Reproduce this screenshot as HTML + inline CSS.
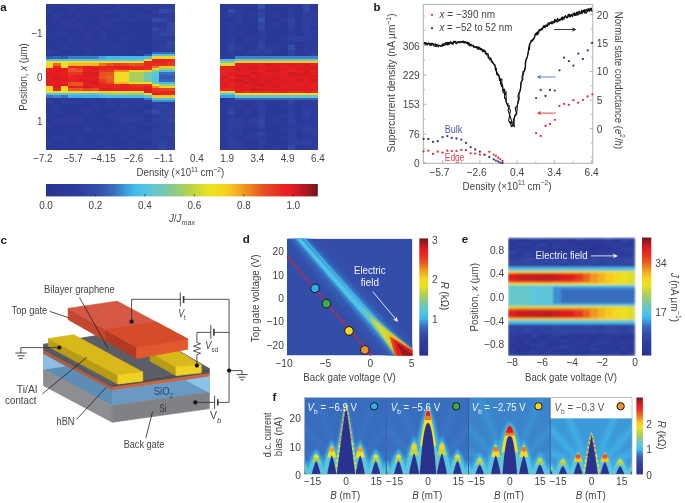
<!DOCTYPE html>
<html><head><meta charset="utf-8"><style>html,body{margin:0;padding:0;background:#fff;}svg{display:block;}</style></head><body>
<svg width="685" height="503" viewBox="0 0 685 503" font-family="'Liberation Sans', sans-serif">
<defs>
<linearGradient id="cbh" x1="0" y1="0" x2="1" y2="0">
<stop offset="0.000" stop-color="#2a3290"/>
<stop offset="0.025" stop-color="#2b3493"/>
<stop offset="0.050" stop-color="#2c3796"/>
<stop offset="0.075" stop-color="#2c3a99"/>
<stop offset="0.100" stop-color="#2d3c9c"/>
<stop offset="0.125" stop-color="#2e3f9f"/>
<stop offset="0.150" stop-color="#3046a3"/>
<stop offset="0.175" stop-color="#324ca8"/>
<stop offset="0.200" stop-color="#3452ac"/>
<stop offset="0.225" stop-color="#3661b6"/>
<stop offset="0.250" stop-color="#3970c0"/>
<stop offset="0.275" stop-color="#3c87ce"/>
<stop offset="0.300" stop-color="#3ea3df"/>
<stop offset="0.325" stop-color="#42bbeb"/>
<stop offset="0.350" stop-color="#4dc0e5"/>
<stop offset="0.375" stop-color="#58c5df"/>
<stop offset="0.400" stop-color="#65c7cc"/>
<stop offset="0.425" stop-color="#72c7b6"/>
<stop offset="0.450" stop-color="#80c8a0"/>
<stop offset="0.475" stop-color="#91cb83"/>
<stop offset="0.500" stop-color="#a2ce67"/>
<stop offset="0.525" stop-color="#b4d14d"/>
<stop offset="0.550" stop-color="#c7d73e"/>
<stop offset="0.575" stop-color="#d9dc2f"/>
<stop offset="0.600" stop-color="#ece220"/>
<stop offset="0.625" stop-color="#f0dc20"/>
<stop offset="0.650" stop-color="#f4d620"/>
<stop offset="0.675" stop-color="#f5c720"/>
<stop offset="0.700" stop-color="#f3b120"/>
<stop offset="0.725" stop-color="#f19b20"/>
<stop offset="0.750" stop-color="#ee8320"/>
<stop offset="0.775" stop-color="#eb6a20"/>
<stop offset="0.800" stop-color="#e85220"/>
<stop offset="0.825" stop-color="#e74221"/>
<stop offset="0.850" stop-color="#e73221"/>
<stop offset="0.875" stop-color="#e62222"/>
<stop offset="0.900" stop-color="#e31e23"/>
<stop offset="0.925" stop-color="#d01b22"/>
<stop offset="0.950" stop-color="#b2191f"/>
<stop offset="0.975" stop-color="#92181c"/>
<stop offset="1.000" stop-color="#701818"/>
</linearGradient>
<linearGradient id="cbv" x1="0" y1="1" x2="0" y2="0">
<stop offset="0.000" stop-color="#2a3290"/>
<stop offset="0.025" stop-color="#2b3493"/>
<stop offset="0.050" stop-color="#2c3796"/>
<stop offset="0.075" stop-color="#2c3a99"/>
<stop offset="0.100" stop-color="#2d3c9c"/>
<stop offset="0.125" stop-color="#2e3f9f"/>
<stop offset="0.150" stop-color="#3046a3"/>
<stop offset="0.175" stop-color="#324ca8"/>
<stop offset="0.200" stop-color="#3452ac"/>
<stop offset="0.225" stop-color="#3661b6"/>
<stop offset="0.250" stop-color="#3970c0"/>
<stop offset="0.275" stop-color="#3c87ce"/>
<stop offset="0.300" stop-color="#3ea3df"/>
<stop offset="0.325" stop-color="#42bbeb"/>
<stop offset="0.350" stop-color="#4dc0e5"/>
<stop offset="0.375" stop-color="#58c5df"/>
<stop offset="0.400" stop-color="#65c7cc"/>
<stop offset="0.425" stop-color="#72c7b6"/>
<stop offset="0.450" stop-color="#80c8a0"/>
<stop offset="0.475" stop-color="#91cb83"/>
<stop offset="0.500" stop-color="#a2ce67"/>
<stop offset="0.525" stop-color="#b4d14d"/>
<stop offset="0.550" stop-color="#c7d73e"/>
<stop offset="0.575" stop-color="#d9dc2f"/>
<stop offset="0.600" stop-color="#ece220"/>
<stop offset="0.625" stop-color="#f0dc20"/>
<stop offset="0.650" stop-color="#f4d620"/>
<stop offset="0.675" stop-color="#f5c720"/>
<stop offset="0.700" stop-color="#f3b120"/>
<stop offset="0.725" stop-color="#f19b20"/>
<stop offset="0.750" stop-color="#ee8320"/>
<stop offset="0.775" stop-color="#eb6a20"/>
<stop offset="0.800" stop-color="#e85220"/>
<stop offset="0.825" stop-color="#e74221"/>
<stop offset="0.850" stop-color="#e73221"/>
<stop offset="0.875" stop-color="#e62222"/>
<stop offset="0.900" stop-color="#e31e23"/>
<stop offset="0.925" stop-color="#d01b22"/>
<stop offset="0.950" stop-color="#b2191f"/>
<stop offset="0.975" stop-color="#92181c"/>
<stop offset="1.000" stop-color="#701818"/>
</linearGradient>
<filter id="hb" x="0" y="0" width="100%" height="100%"><feGaussianBlur stdDeviation="0.7" edgeMode="duplicate"/></filter>
<filter id="hb2" x="0" y="0" width="100%" height="100%"><feGaussianBlur stdDeviation="1.0" edgeMode="duplicate"/></filter>
<filter id="bl1" x="-20%" y="-20%" width="140%" height="140%"><feGaussianBlur stdDeviation="1.2"/></filter>
<filter id="bl2" x="-20%" y="-20%" width="140%" height="140%"><feGaussianBlur stdDeviation="2.5"/></filter>
<filter id="bl05" x="-20%" y="-20%" width="140%" height="140%"><feGaussianBlur stdDeviation="0.6"/></filter>
<clipPath id="cpd"><rect x="287" y="238.7" width="125.4" height="116.7"/></clipPath>
<clipPath id="cpf0"><rect x="304.4" y="397.6" width="82.0" height="76.4"/></clipPath>
<clipPath id="cpf1"><rect x="386.4" y="397.6" width="82.10000000000002" height="76.4"/></clipPath>
<clipPath id="cpf2"><rect x="468.5" y="397.6" width="81.79999999999995" height="76.4"/></clipPath>
<clipPath id="cpf3"><rect x="550.3" y="397.6" width="81.70000000000005" height="76.4"/></clipPath>
</defs>
<rect width="685" height="503" fill="#fff"/>
<g filter="url(#hb)"><g shape-rendering="crispEdges">
<rect x="45.50" y="4.00" width="7.99" height="4.96" fill="#2c3897"/>
<rect x="45.50" y="8.56" width="7.99" height="4.96" fill="#2e3e9e"/>
<rect x="45.50" y="13.12" width="7.99" height="27.77" fill="#2c3897"/>
<rect x="45.50" y="40.50" width="7.99" height="4.96" fill="#2c3998"/>
<rect x="45.50" y="45.06" width="7.99" height="4.96" fill="#2c3898"/>
<rect x="45.50" y="49.62" width="7.99" height="4.96" fill="#2f43a1"/>
<rect x="45.50" y="54.19" width="7.99" height="2.68" fill="#2d3a9a"/>
<rect x="45.50" y="56.47" width="7.99" height="2.68" fill="#3559b1"/>
<rect x="45.50" y="58.75" width="7.99" height="2.68" fill="#4fc1e4"/>
<rect x="45.50" y="61.03" width="7.99" height="2.68" fill="#ede120"/>
<rect x="45.50" y="63.31" width="7.99" height="2.68" fill="#f1db20"/>
<rect x="45.50" y="65.59" width="7.99" height="2.68" fill="#f5d520"/>
<rect x="45.50" y="67.88" width="7.99" height="2.68" fill="#e62222"/>
<rect x="45.50" y="70.16" width="7.99" height="2.68" fill="#e62122"/>
<rect x="45.50" y="72.44" width="7.99" height="2.68" fill="#e41f23"/>
<rect x="45.50" y="74.72" width="7.99" height="2.68" fill="#dc1c23"/>
<rect x="45.50" y="77.00" width="7.99" height="2.68" fill="#e52023"/>
<rect x="45.50" y="79.28" width="7.99" height="4.96" fill="#e31d24"/>
<rect x="45.50" y="83.84" width="7.99" height="2.68" fill="#e52023"/>
<rect x="45.50" y="86.12" width="7.99" height="2.68" fill="#f6d420"/>
<rect x="45.50" y="88.41" width="7.99" height="2.68" fill="#f2da20"/>
<rect x="45.50" y="90.69" width="7.99" height="2.68" fill="#eee020"/>
<rect x="45.50" y="92.97" width="7.99" height="2.68" fill="#53c3e2"/>
<rect x="45.50" y="95.25" width="7.99" height="2.68" fill="#3a73c2"/>
<rect x="45.50" y="97.53" width="7.99" height="2.68" fill="#2d3a9a"/>
<rect x="45.50" y="99.81" width="7.99" height="4.96" fill="#2e3d9d"/>
<rect x="45.50" y="104.38" width="7.99" height="4.96" fill="#2c3897"/>
<rect x="45.50" y="108.94" width="7.99" height="4.96" fill="#2c3998"/>
<rect x="45.50" y="113.50" width="7.99" height="9.53" fill="#2c3897"/>
<rect x="45.50" y="122.62" width="7.99" height="4.96" fill="#2d3a99"/>
<rect x="45.50" y="127.19" width="7.99" height="9.53" fill="#2c3897"/>
<rect x="45.50" y="136.31" width="7.99" height="4.96" fill="#2c3999"/>
<rect x="45.50" y="140.88" width="7.99" height="4.96" fill="#2d3b9a"/>
<rect x="45.50" y="145.44" width="7.99" height="4.56" fill="#2c3897"/>
<rect x="53.09" y="4.00" width="7.99" height="9.53" fill="#2c3897"/>
<rect x="53.09" y="13.12" width="7.99" height="4.96" fill="#2d3a99"/>
<rect x="53.09" y="17.69" width="7.99" height="4.96" fill="#2d3a9a"/>
<rect x="53.09" y="22.25" width="7.99" height="4.96" fill="#2c3998"/>
<rect x="53.09" y="26.81" width="7.99" height="4.96" fill="#2c3898"/>
<rect x="53.09" y="31.38" width="7.99" height="4.96" fill="#2d3a99"/>
<rect x="53.09" y="35.94" width="7.99" height="9.53" fill="#2c3897"/>
<rect x="53.09" y="45.06" width="7.99" height="4.96" fill="#2c3998"/>
<rect x="53.09" y="49.62" width="7.99" height="4.96" fill="#2d3a99"/>
<rect x="53.09" y="54.19" width="7.99" height="2.68" fill="#2c3897"/>
<rect x="53.09" y="56.47" width="7.99" height="2.68" fill="#3766b9"/>
<rect x="53.09" y="58.75" width="7.99" height="2.68" fill="#51c2e3"/>
<rect x="53.09" y="61.03" width="7.99" height="2.68" fill="#efdd20"/>
<rect x="53.09" y="63.31" width="7.99" height="2.68" fill="#eb6820"/>
<rect x="53.09" y="65.59" width="7.99" height="2.68" fill="#e52122"/>
<rect x="53.09" y="67.88" width="7.99" height="2.68" fill="#e31d24"/>
<rect x="53.09" y="70.16" width="7.99" height="7.24" fill="#e41f23"/>
<rect x="53.09" y="77.00" width="7.99" height="2.68" fill="#d11b22"/>
<rect x="53.09" y="79.28" width="7.99" height="2.68" fill="#e41f23"/>
<rect x="53.09" y="81.56" width="7.99" height="2.68" fill="#e41e23"/>
<rect x="53.09" y="83.84" width="7.99" height="2.68" fill="#e31d24"/>
<rect x="53.09" y="86.12" width="7.99" height="2.68" fill="#d51b23"/>
<rect x="53.09" y="88.41" width="7.99" height="2.68" fill="#e62522"/>
<rect x="53.09" y="90.69" width="7.99" height="2.68" fill="#f1da20"/>
<rect x="53.09" y="92.97" width="7.99" height="2.68" fill="#55c4e0"/>
<rect x="53.09" y="95.25" width="7.99" height="2.68" fill="#3c8ad0"/>
<rect x="53.09" y="97.53" width="7.99" height="7.24" fill="#2c3897"/>
<rect x="53.09" y="104.38" width="7.99" height="9.53" fill="#2d3a9a"/>
<rect x="53.09" y="113.50" width="7.99" height="4.96" fill="#2c3897"/>
<rect x="53.09" y="118.06" width="7.99" height="4.96" fill="#2d3a9a"/>
<rect x="53.09" y="122.62" width="7.99" height="14.09" fill="#2c3897"/>
<rect x="53.09" y="136.31" width="7.99" height="4.96" fill="#2d3c9b"/>
<rect x="53.09" y="140.88" width="7.99" height="9.12" fill="#2c3897"/>
<rect x="60.69" y="4.00" width="7.99" height="9.53" fill="#2c3998"/>
<rect x="60.69" y="13.12" width="7.99" height="4.96" fill="#2c3897"/>
<rect x="60.69" y="17.69" width="7.99" height="9.53" fill="#2d3a99"/>
<rect x="60.69" y="26.81" width="7.99" height="4.96" fill="#2c3897"/>
<rect x="60.69" y="31.38" width="7.99" height="4.96" fill="#2e3e9e"/>
<rect x="60.69" y="35.94" width="7.99" height="9.53" fill="#2c3897"/>
<rect x="60.69" y="45.06" width="7.99" height="4.96" fill="#2d3a9a"/>
<rect x="60.69" y="49.62" width="7.99" height="4.96" fill="#2c3897"/>
<rect x="60.69" y="54.19" width="7.99" height="2.68" fill="#2d3c9c"/>
<rect x="60.69" y="56.47" width="7.99" height="2.68" fill="#3559b1"/>
<rect x="60.69" y="58.75" width="7.99" height="2.68" fill="#4fc1e4"/>
<rect x="60.69" y="61.03" width="7.99" height="2.68" fill="#ede120"/>
<rect x="60.69" y="63.31" width="7.99" height="2.68" fill="#f1db20"/>
<rect x="60.69" y="65.59" width="7.99" height="2.68" fill="#f5d520"/>
<rect x="60.69" y="67.88" width="7.99" height="2.68" fill="#e21c24"/>
<rect x="60.69" y="70.16" width="7.99" height="2.68" fill="#e31e23"/>
<rect x="60.69" y="72.44" width="7.99" height="2.68" fill="#e52122"/>
<rect x="60.69" y="74.72" width="7.99" height="7.24" fill="#e41f23"/>
<rect x="60.69" y="81.56" width="7.99" height="2.68" fill="#e52122"/>
<rect x="60.69" y="83.84" width="7.99" height="2.68" fill="#e21c24"/>
<rect x="60.69" y="86.12" width="7.99" height="2.68" fill="#f6d420"/>
<rect x="60.69" y="88.41" width="7.99" height="2.68" fill="#f2da20"/>
<rect x="60.69" y="90.69" width="7.99" height="2.68" fill="#eee020"/>
<rect x="60.69" y="92.97" width="7.99" height="2.68" fill="#53c3e2"/>
<rect x="60.69" y="95.25" width="7.99" height="2.68" fill="#3a73c2"/>
<rect x="60.69" y="97.53" width="7.99" height="2.68" fill="#2d3c9c"/>
<rect x="60.69" y="99.81" width="7.99" height="4.96" fill="#2d3b9a"/>
<rect x="60.69" y="104.38" width="7.99" height="14.09" fill="#2c3897"/>
<rect x="60.69" y="118.06" width="7.99" height="9.53" fill="#2d3b9a"/>
<rect x="60.69" y="127.19" width="7.99" height="9.53" fill="#2c3897"/>
<rect x="60.69" y="136.31" width="7.99" height="4.96" fill="#2d3b9a"/>
<rect x="60.69" y="140.88" width="7.99" height="4.96" fill="#2c3998"/>
<rect x="60.69" y="145.44" width="7.99" height="4.56" fill="#2c3897"/>
<rect x="68.28" y="4.00" width="7.99" height="9.53" fill="#2d3a99"/>
<rect x="68.28" y="13.12" width="7.99" height="4.96" fill="#2c3897"/>
<rect x="68.28" y="17.69" width="7.99" height="4.96" fill="#2d3b9a"/>
<rect x="68.28" y="22.25" width="7.99" height="4.96" fill="#2d3a99"/>
<rect x="68.28" y="26.81" width="7.99" height="4.96" fill="#2c3999"/>
<rect x="68.28" y="31.38" width="7.99" height="4.96" fill="#2c3897"/>
<rect x="68.28" y="35.94" width="7.99" height="4.96" fill="#2d3a9a"/>
<rect x="68.28" y="40.50" width="7.99" height="4.96" fill="#2c3897"/>
<rect x="68.28" y="45.06" width="7.99" height="4.96" fill="#2c3998"/>
<rect x="68.28" y="49.62" width="7.99" height="4.96" fill="#2c3897"/>
<rect x="68.28" y="54.19" width="7.99" height="2.68" fill="#2d3b9a"/>
<rect x="68.28" y="56.47" width="7.99" height="2.68" fill="#3b7dc8"/>
<rect x="68.28" y="58.75" width="7.99" height="2.68" fill="#54c3e1"/>
<rect x="68.28" y="61.03" width="7.99" height="2.68" fill="#f0dc20"/>
<rect x="68.28" y="63.31" width="7.99" height="2.68" fill="#f4b720"/>
<rect x="68.28" y="65.59" width="7.99" height="2.68" fill="#e62222"/>
<rect x="68.28" y="67.88" width="7.99" height="2.68" fill="#e85520"/>
<rect x="68.28" y="70.16" width="7.99" height="2.68" fill="#e85220"/>
<rect x="68.28" y="72.44" width="7.99" height="2.68" fill="#e73521"/>
<rect x="68.28" y="74.72" width="7.99" height="4.96" fill="#e62622"/>
<rect x="68.28" y="79.28" width="7.99" height="2.68" fill="#e62122"/>
<rect x="68.28" y="81.56" width="7.99" height="4.96" fill="#e85220"/>
<rect x="68.28" y="86.12" width="7.99" height="2.68" fill="#e31e23"/>
<rect x="68.28" y="88.41" width="7.99" height="2.68" fill="#e95920"/>
<rect x="68.28" y="90.69" width="7.99" height="2.68" fill="#f2da20"/>
<rect x="68.28" y="92.97" width="7.99" height="2.68" fill="#59c5df"/>
<rect x="68.28" y="95.25" width="7.99" height="2.68" fill="#3fafe5"/>
<rect x="68.28" y="97.53" width="7.99" height="2.68" fill="#2d3b9a"/>
<rect x="68.28" y="99.81" width="7.99" height="4.96" fill="#2d3a99"/>
<rect x="68.28" y="104.38" width="7.99" height="4.96" fill="#2c3998"/>
<rect x="68.28" y="108.94" width="7.99" height="4.96" fill="#2c3897"/>
<rect x="68.28" y="113.50" width="7.99" height="4.96" fill="#2d3a9a"/>
<rect x="68.28" y="118.06" width="7.99" height="4.96" fill="#2d3a99"/>
<rect x="68.28" y="122.62" width="7.99" height="9.53" fill="#2c3897"/>
<rect x="68.28" y="131.75" width="7.99" height="4.96" fill="#2d3b9a"/>
<rect x="68.28" y="136.31" width="7.99" height="4.96" fill="#2c3897"/>
<rect x="68.28" y="140.88" width="7.99" height="4.96" fill="#2c3999"/>
<rect x="68.28" y="145.44" width="7.99" height="4.56" fill="#2c3897"/>
<rect x="75.88" y="4.00" width="7.99" height="4.96" fill="#2d3a9a"/>
<rect x="75.88" y="8.56" width="7.99" height="4.96" fill="#2c3897"/>
<rect x="75.88" y="13.12" width="7.99" height="4.96" fill="#2d3b9a"/>
<rect x="75.88" y="17.69" width="7.99" height="4.96" fill="#2c3897"/>
<rect x="75.88" y="22.25" width="7.99" height="9.53" fill="#2d3b9a"/>
<rect x="75.88" y="31.38" width="7.99" height="9.53" fill="#2c3897"/>
<rect x="75.88" y="40.50" width="7.99" height="4.96" fill="#2d3a99"/>
<rect x="75.88" y="45.06" width="7.99" height="11.81" fill="#2c3897"/>
<rect x="75.88" y="56.47" width="7.99" height="2.68" fill="#3b7dc8"/>
<rect x="75.88" y="58.75" width="7.99" height="2.68" fill="#54c3e1"/>
<rect x="75.88" y="61.03" width="7.99" height="2.68" fill="#f0dc20"/>
<rect x="75.88" y="63.31" width="7.99" height="2.68" fill="#f4b720"/>
<rect x="75.88" y="65.59" width="7.99" height="2.68" fill="#e62822"/>
<rect x="75.88" y="67.88" width="7.99" height="2.68" fill="#e74021"/>
<rect x="75.88" y="70.16" width="7.99" height="2.68" fill="#e85220"/>
<rect x="75.88" y="72.44" width="7.99" height="2.68" fill="#e73121"/>
<rect x="75.88" y="74.72" width="7.99" height="2.68" fill="#e52122"/>
<rect x="75.88" y="77.00" width="7.99" height="2.68" fill="#e52023"/>
<rect x="75.88" y="79.28" width="7.99" height="2.68" fill="#e41f23"/>
<rect x="75.88" y="81.56" width="7.99" height="4.96" fill="#e85220"/>
<rect x="75.88" y="86.12" width="7.99" height="2.68" fill="#e62122"/>
<rect x="75.88" y="88.41" width="7.99" height="2.68" fill="#e95920"/>
<rect x="75.88" y="90.69" width="7.99" height="2.68" fill="#f2da20"/>
<rect x="75.88" y="92.97" width="7.99" height="2.68" fill="#59c5df"/>
<rect x="75.88" y="95.25" width="7.99" height="2.68" fill="#3fafe5"/>
<rect x="75.88" y="97.53" width="7.99" height="2.68" fill="#2c3897"/>
<rect x="75.88" y="99.81" width="7.99" height="4.96" fill="#2d3b9a"/>
<rect x="75.88" y="104.38" width="7.99" height="9.53" fill="#2c3897"/>
<rect x="75.88" y="113.50" width="7.99" height="4.96" fill="#2d3b9b"/>
<rect x="75.88" y="118.06" width="7.99" height="4.96" fill="#2d3a99"/>
<rect x="75.88" y="122.62" width="7.99" height="14.09" fill="#2c3897"/>
<rect x="75.88" y="136.31" width="7.99" height="4.96" fill="#2d3a99"/>
<rect x="75.88" y="140.88" width="7.99" height="9.12" fill="#2c3897"/>
<rect x="83.47" y="4.00" width="7.99" height="4.96" fill="#2c3897"/>
<rect x="83.47" y="8.56" width="7.99" height="4.96" fill="#2d3a99"/>
<rect x="83.47" y="13.12" width="7.99" height="9.53" fill="#2c3897"/>
<rect x="83.47" y="22.25" width="7.99" height="4.96" fill="#2c3998"/>
<rect x="83.47" y="26.81" width="7.99" height="4.96" fill="#2c3897"/>
<rect x="83.47" y="31.38" width="7.99" height="4.96" fill="#2d3b9a"/>
<rect x="83.47" y="35.94" width="7.99" height="4.96" fill="#2d3a9a"/>
<rect x="83.47" y="40.50" width="7.99" height="4.96" fill="#2c3897"/>
<rect x="83.47" y="45.06" width="7.99" height="4.96" fill="#2d3b9a"/>
<rect x="83.47" y="49.62" width="7.99" height="4.96" fill="#2c3897"/>
<rect x="83.47" y="54.19" width="7.99" height="2.68" fill="#2e3d9c"/>
<rect x="83.47" y="56.47" width="7.99" height="2.68" fill="#3b7dc8"/>
<rect x="83.47" y="58.75" width="7.99" height="2.68" fill="#54c3e1"/>
<rect x="83.47" y="61.03" width="7.99" height="2.68" fill="#f0dc20"/>
<rect x="83.47" y="63.31" width="7.99" height="2.68" fill="#f4b620"/>
<rect x="83.47" y="65.59" width="7.99" height="2.68" fill="#e41f23"/>
<rect x="83.47" y="67.88" width="7.99" height="2.68" fill="#e52122"/>
<rect x="83.47" y="70.16" width="7.99" height="2.68" fill="#e21c24"/>
<rect x="83.47" y="72.44" width="7.99" height="2.68" fill="#dc1c23"/>
<rect x="83.47" y="74.72" width="7.99" height="2.68" fill="#d61b23"/>
<rect x="83.47" y="77.00" width="7.99" height="2.68" fill="#e52023"/>
<rect x="83.47" y="79.28" width="7.99" height="2.68" fill="#df1c24"/>
<rect x="83.47" y="81.56" width="7.99" height="2.68" fill="#e21c24"/>
<rect x="83.47" y="83.84" width="7.99" height="2.68" fill="#e52023"/>
<rect x="83.47" y="86.12" width="7.99" height="2.68" fill="#d61b23"/>
<rect x="83.47" y="88.41" width="7.99" height="2.68" fill="#e74021"/>
<rect x="83.47" y="90.69" width="7.99" height="2.68" fill="#f2da20"/>
<rect x="83.47" y="92.97" width="7.99" height="2.68" fill="#59c5df"/>
<rect x="83.47" y="95.25" width="7.99" height="2.68" fill="#3fafe5"/>
<rect x="83.47" y="97.53" width="7.99" height="2.68" fill="#2e3d9c"/>
<rect x="83.47" y="99.81" width="7.99" height="9.53" fill="#2c3897"/>
<rect x="83.47" y="108.94" width="7.99" height="4.96" fill="#2d3b9a"/>
<rect x="83.47" y="113.50" width="7.99" height="14.09" fill="#2c3897"/>
<rect x="83.47" y="127.19" width="7.99" height="4.96" fill="#2e3f9f"/>
<rect x="83.47" y="131.75" width="7.99" height="9.53" fill="#2c3897"/>
<rect x="83.47" y="140.88" width="7.99" height="4.96" fill="#2c3998"/>
<rect x="83.47" y="145.44" width="7.99" height="4.56" fill="#2c3897"/>
<rect x="91.06" y="4.00" width="7.99" height="4.96" fill="#2d3a99"/>
<rect x="91.06" y="8.56" width="7.99" height="18.65" fill="#2c3897"/>
<rect x="91.06" y="26.81" width="7.99" height="4.96" fill="#2d3a99"/>
<rect x="91.06" y="31.38" width="7.99" height="9.53" fill="#2c3897"/>
<rect x="91.06" y="40.50" width="7.99" height="4.96" fill="#2d3b9a"/>
<rect x="91.06" y="45.06" width="7.99" height="4.96" fill="#2c3998"/>
<rect x="91.06" y="49.62" width="7.99" height="4.96" fill="#2c3897"/>
<rect x="91.06" y="54.19" width="7.99" height="2.68" fill="#2c3998"/>
<rect x="91.06" y="56.47" width="7.99" height="2.68" fill="#3b7dc8"/>
<rect x="91.06" y="58.75" width="7.99" height="2.68" fill="#54c3e1"/>
<rect x="91.06" y="61.03" width="7.99" height="2.68" fill="#f0dc20"/>
<rect x="91.06" y="63.31" width="7.99" height="2.68" fill="#f4b620"/>
<rect x="91.06" y="65.59" width="7.99" height="2.68" fill="#e52023"/>
<rect x="91.06" y="67.88" width="7.99" height="2.68" fill="#d81b23"/>
<rect x="91.06" y="70.16" width="7.99" height="2.68" fill="#e52122"/>
<rect x="91.06" y="72.44" width="7.99" height="2.68" fill="#d71b23"/>
<rect x="91.06" y="74.72" width="7.99" height="2.68" fill="#e31e23"/>
<rect x="91.06" y="77.00" width="7.99" height="2.68" fill="#e41f23"/>
<rect x="91.06" y="79.28" width="7.99" height="2.68" fill="#e31d24"/>
<rect x="91.06" y="81.56" width="7.99" height="2.68" fill="#d41b23"/>
<rect x="91.06" y="83.84" width="7.99" height="2.68" fill="#e41f23"/>
<rect x="91.06" y="86.12" width="7.99" height="2.68" fill="#e52023"/>
<rect x="91.06" y="88.41" width="7.99" height="2.68" fill="#e84d20"/>
<rect x="91.06" y="90.69" width="7.99" height="2.68" fill="#f2da20"/>
<rect x="91.06" y="92.97" width="7.99" height="2.68" fill="#59c5df"/>
<rect x="91.06" y="95.25" width="7.99" height="2.68" fill="#3fafe5"/>
<rect x="91.06" y="97.53" width="7.99" height="2.68" fill="#2c3998"/>
<rect x="91.06" y="99.81" width="7.99" height="4.96" fill="#2c3897"/>
<rect x="91.06" y="104.38" width="7.99" height="4.96" fill="#2d3b9a"/>
<rect x="91.06" y="108.94" width="7.99" height="41.06" fill="#2c3897"/>
<rect x="98.66" y="4.00" width="7.99" height="4.96" fill="#2c3897"/>
<rect x="98.66" y="8.56" width="7.99" height="4.96" fill="#2d3a99"/>
<rect x="98.66" y="13.12" width="7.99" height="4.96" fill="#2c3897"/>
<rect x="98.66" y="17.69" width="7.99" height="4.96" fill="#2d3b9a"/>
<rect x="98.66" y="22.25" width="7.99" height="4.96" fill="#2d3a99"/>
<rect x="98.66" y="26.81" width="7.99" height="4.96" fill="#2c3998"/>
<rect x="98.66" y="31.38" width="7.99" height="4.96" fill="#2d3c9c"/>
<rect x="98.66" y="35.94" width="7.99" height="4.96" fill="#2d3b9a"/>
<rect x="98.66" y="40.50" width="7.99" height="4.96" fill="#2c3999"/>
<rect x="98.66" y="45.06" width="7.99" height="4.96" fill="#2c3897"/>
<rect x="98.66" y="49.62" width="7.99" height="4.96" fill="#2d3a99"/>
<rect x="98.66" y="54.19" width="7.99" height="2.68" fill="#2c3998"/>
<rect x="98.66" y="56.47" width="7.99" height="2.68" fill="#3ea2de"/>
<rect x="98.66" y="58.75" width="7.99" height="2.68" fill="#58c5df"/>
<rect x="98.66" y="61.03" width="7.99" height="2.68" fill="#f1db20"/>
<rect x="98.66" y="63.31" width="7.99" height="2.68" fill="#ec7120"/>
<rect x="98.66" y="65.59" width="7.99" height="2.68" fill="#e62522"/>
<rect x="98.66" y="67.88" width="7.99" height="2.68" fill="#e62322"/>
<rect x="98.66" y="70.16" width="7.99" height="2.68" fill="#e73921"/>
<rect x="98.66" y="72.44" width="7.99" height="2.68" fill="#e85120"/>
<rect x="98.66" y="74.72" width="7.99" height="2.68" fill="#e84f20"/>
<rect x="98.66" y="77.00" width="7.99" height="2.68" fill="#e95620"/>
<rect x="98.66" y="79.28" width="7.99" height="2.68" fill="#e73b21"/>
<rect x="98.66" y="81.56" width="7.99" height="2.68" fill="#e73021"/>
<rect x="98.66" y="83.84" width="7.99" height="2.68" fill="#e52122"/>
<rect x="98.66" y="86.12" width="7.99" height="2.68" fill="#e62522"/>
<rect x="98.66" y="88.41" width="7.99" height="2.68" fill="#e41f23"/>
<rect x="98.66" y="90.69" width="7.99" height="2.68" fill="#f3d820"/>
<rect x="98.66" y="92.97" width="7.99" height="2.68" fill="#76c7b0"/>
<rect x="98.66" y="95.25" width="7.99" height="2.68" fill="#42bbeb"/>
<rect x="98.66" y="97.53" width="7.99" height="2.68" fill="#2d3b9a"/>
<rect x="98.66" y="99.81" width="7.99" height="27.77" fill="#2c3897"/>
<rect x="98.66" y="127.19" width="7.99" height="4.96" fill="#2d3a9a"/>
<rect x="98.66" y="131.75" width="7.99" height="4.96" fill="#2c3897"/>
<rect x="98.66" y="136.31" width="7.99" height="4.96" fill="#2c3998"/>
<rect x="98.66" y="140.88" width="7.99" height="4.96" fill="#2d3a99"/>
<rect x="98.66" y="145.44" width="7.99" height="4.56" fill="#2c3999"/>
<rect x="106.25" y="4.00" width="7.99" height="4.96" fill="#2c3897"/>
<rect x="106.25" y="8.56" width="7.99" height="4.96" fill="#2d3b9a"/>
<rect x="106.25" y="13.12" width="7.99" height="4.96" fill="#2c3999"/>
<rect x="106.25" y="17.69" width="7.99" height="4.96" fill="#2c3897"/>
<rect x="106.25" y="22.25" width="7.99" height="4.96" fill="#2d3a9a"/>
<rect x="106.25" y="26.81" width="7.99" height="4.96" fill="#2c3999"/>
<rect x="106.25" y="31.38" width="7.99" height="9.53" fill="#2c3897"/>
<rect x="106.25" y="40.50" width="7.99" height="4.96" fill="#2d3a99"/>
<rect x="106.25" y="45.06" width="7.99" height="9.53" fill="#2c3998"/>
<rect x="106.25" y="54.19" width="7.99" height="2.68" fill="#2d3b9b"/>
<rect x="106.25" y="56.47" width="7.99" height="2.68" fill="#40baec"/>
<rect x="106.25" y="58.75" width="7.99" height="2.68" fill="#5ac6de"/>
<rect x="106.25" y="61.03" width="7.99" height="2.68" fill="#f2d920"/>
<rect x="106.25" y="63.31" width="7.99" height="2.68" fill="#e84f20"/>
<rect x="106.25" y="65.59" width="7.99" height="2.68" fill="#e62222"/>
<rect x="106.25" y="67.88" width="7.99" height="2.68" fill="#e62922"/>
<rect x="106.25" y="70.16" width="7.99" height="2.68" fill="#e73721"/>
<rect x="106.25" y="72.44" width="7.99" height="2.68" fill="#e95720"/>
<rect x="106.25" y="74.72" width="7.99" height="2.68" fill="#ea6020"/>
<rect x="106.25" y="77.00" width="7.99" height="2.68" fill="#ea6220"/>
<rect x="106.25" y="79.28" width="7.99" height="2.68" fill="#e95920"/>
<rect x="106.25" y="81.56" width="7.99" height="2.68" fill="#e84620"/>
<rect x="106.25" y="83.84" width="7.99" height="2.68" fill="#e52122"/>
<rect x="106.25" y="86.12" width="7.99" height="2.68" fill="#e42023"/>
<rect x="106.25" y="88.41" width="7.99" height="2.68" fill="#e41f23"/>
<rect x="106.25" y="90.69" width="7.99" height="2.68" fill="#f4d720"/>
<rect x="106.25" y="92.97" width="7.99" height="2.68" fill="#9acc75"/>
<rect x="106.25" y="95.25" width="7.99" height="2.68" fill="#45bcea"/>
<rect x="106.25" y="97.53" width="7.99" height="7.24" fill="#2e3d9d"/>
<rect x="106.25" y="104.38" width="7.99" height="4.96" fill="#2d3a99"/>
<rect x="106.25" y="108.94" width="7.99" height="4.96" fill="#2c3897"/>
<rect x="106.25" y="113.50" width="7.99" height="4.96" fill="#2e3e9e"/>
<rect x="106.25" y="118.06" width="7.99" height="4.96" fill="#2c3999"/>
<rect x="106.25" y="122.62" width="7.99" height="4.96" fill="#2c3897"/>
<rect x="106.25" y="127.19" width="7.99" height="9.53" fill="#2c3999"/>
<rect x="106.25" y="136.31" width="7.99" height="9.53" fill="#2c3897"/>
<rect x="106.25" y="145.44" width="7.99" height="4.56" fill="#2d3a99"/>
<rect x="113.85" y="4.00" width="7.99" height="4.96" fill="#2e3e9e"/>
<rect x="113.85" y="8.56" width="7.99" height="4.96" fill="#2c3897"/>
<rect x="113.85" y="13.12" width="7.99" height="4.96" fill="#2c3999"/>
<rect x="113.85" y="17.69" width="7.99" height="4.96" fill="#2e3d9d"/>
<rect x="113.85" y="22.25" width="7.99" height="4.96" fill="#2c3897"/>
<rect x="113.85" y="26.81" width="7.99" height="9.53" fill="#2c3998"/>
<rect x="113.85" y="35.94" width="7.99" height="9.53" fill="#2c3897"/>
<rect x="113.85" y="45.06" width="7.99" height="4.96" fill="#2d3a9a"/>
<rect x="113.85" y="49.62" width="7.99" height="4.96" fill="#2d3b9a"/>
<rect x="113.85" y="54.19" width="7.99" height="2.68" fill="#2c3897"/>
<rect x="113.85" y="56.47" width="7.99" height="2.68" fill="#40baec"/>
<rect x="113.85" y="58.75" width="7.99" height="2.68" fill="#5ac6de"/>
<rect x="113.85" y="61.03" width="7.99" height="2.68" fill="#f2d920"/>
<rect x="113.85" y="63.31" width="7.99" height="2.68" fill="#e73b21"/>
<rect x="113.85" y="65.59" width="7.99" height="2.68" fill="#e41e23"/>
<rect x="113.85" y="67.88" width="7.99" height="2.68" fill="#e62922"/>
<rect x="113.85" y="70.16" width="7.99" height="2.68" fill="#f08d20"/>
<rect x="113.85" y="72.44" width="7.99" height="2.68" fill="#f2d920"/>
<rect x="113.85" y="74.72" width="7.99" height="2.68" fill="#f1da20"/>
<rect x="113.85" y="77.00" width="7.99" height="2.68" fill="#f1db20"/>
<rect x="113.85" y="79.28" width="7.99" height="2.68" fill="#f2d920"/>
<rect x="113.85" y="81.56" width="7.99" height="2.68" fill="#f4b520"/>
<rect x="113.85" y="83.84" width="7.99" height="2.68" fill="#e72f21"/>
<rect x="113.85" y="86.12" width="7.99" height="2.68" fill="#e62b22"/>
<rect x="113.85" y="88.41" width="7.99" height="2.68" fill="#e31d24"/>
<rect x="113.85" y="90.69" width="7.99" height="2.68" fill="#f4d720"/>
<rect x="113.85" y="92.97" width="7.99" height="2.68" fill="#9acc75"/>
<rect x="113.85" y="95.25" width="7.99" height="2.68" fill="#45bcea"/>
<rect x="113.85" y="97.53" width="7.99" height="2.68" fill="#2e3d9d"/>
<rect x="113.85" y="99.81" width="7.99" height="9.53" fill="#2c3897"/>
<rect x="113.85" y="108.94" width="7.99" height="4.96" fill="#2d3b9a"/>
<rect x="113.85" y="113.50" width="7.99" height="4.96" fill="#2d3a99"/>
<rect x="113.85" y="118.06" width="7.99" height="4.96" fill="#2d3a9a"/>
<rect x="113.85" y="122.62" width="7.99" height="4.96" fill="#2c3897"/>
<rect x="113.85" y="127.19" width="7.99" height="4.96" fill="#2e3d9d"/>
<rect x="113.85" y="131.75" width="7.99" height="18.25" fill="#2c3897"/>
<rect x="121.44" y="4.00" width="7.99" height="4.96" fill="#2c3897"/>
<rect x="121.44" y="8.56" width="7.99" height="4.96" fill="#2d3a99"/>
<rect x="121.44" y="13.12" width="7.99" height="4.96" fill="#2d3b9a"/>
<rect x="121.44" y="17.69" width="7.99" height="4.96" fill="#2d3a9a"/>
<rect x="121.44" y="22.25" width="7.99" height="4.96" fill="#2c3897"/>
<rect x="121.44" y="26.81" width="7.99" height="4.96" fill="#2d3b9a"/>
<rect x="121.44" y="31.38" width="7.99" height="4.96" fill="#2c3897"/>
<rect x="121.44" y="35.94" width="7.99" height="4.96" fill="#2d3c9b"/>
<rect x="121.44" y="40.50" width="7.99" height="16.37" fill="#2c3897"/>
<rect x="121.44" y="56.47" width="7.99" height="2.68" fill="#40baec"/>
<rect x="121.44" y="58.75" width="7.99" height="2.68" fill="#5ac6de"/>
<rect x="121.44" y="61.03" width="7.99" height="2.68" fill="#f2d920"/>
<rect x="121.44" y="63.31" width="7.99" height="2.68" fill="#e84820"/>
<rect x="121.44" y="65.59" width="7.99" height="2.68" fill="#e41e23"/>
<rect x="121.44" y="67.88" width="7.99" height="2.68" fill="#e52023"/>
<rect x="121.44" y="70.16" width="7.99" height="2.68" fill="#f08d20"/>
<rect x="121.44" y="72.44" width="7.99" height="2.68" fill="#f2d920"/>
<rect x="121.44" y="74.72" width="7.99" height="2.68" fill="#f1da20"/>
<rect x="121.44" y="77.00" width="7.99" height="2.68" fill="#f1db20"/>
<rect x="121.44" y="79.28" width="7.99" height="2.68" fill="#f2d920"/>
<rect x="121.44" y="81.56" width="7.99" height="2.68" fill="#f4b520"/>
<rect x="121.44" y="83.84" width="7.99" height="4.96" fill="#e52122"/>
<rect x="121.44" y="88.41" width="7.99" height="2.68" fill="#e31e23"/>
<rect x="121.44" y="90.69" width="7.99" height="2.68" fill="#f4d720"/>
<rect x="121.44" y="92.97" width="7.99" height="2.68" fill="#9acc75"/>
<rect x="121.44" y="95.25" width="7.99" height="2.68" fill="#45bcea"/>
<rect x="121.44" y="97.53" width="7.99" height="2.68" fill="#2e3d9d"/>
<rect x="121.44" y="99.81" width="7.99" height="4.96" fill="#2d3b9a"/>
<rect x="121.44" y="104.38" width="7.99" height="4.96" fill="#2e3f9f"/>
<rect x="121.44" y="108.94" width="7.99" height="4.96" fill="#2c3999"/>
<rect x="121.44" y="113.50" width="7.99" height="4.96" fill="#2d3a99"/>
<rect x="121.44" y="118.06" width="7.99" height="4.96" fill="#2d3c9b"/>
<rect x="121.44" y="122.62" width="7.99" height="4.96" fill="#2d3b9a"/>
<rect x="121.44" y="127.19" width="7.99" height="9.53" fill="#2c3897"/>
<rect x="121.44" y="136.31" width="7.99" height="4.96" fill="#2d3b9a"/>
<rect x="121.44" y="140.88" width="7.99" height="4.96" fill="#2c3998"/>
<rect x="121.44" y="145.44" width="7.99" height="4.56" fill="#2c3897"/>
<rect x="129.03" y="4.00" width="7.99" height="14.09" fill="#2c3897"/>
<rect x="129.03" y="17.69" width="7.99" height="4.96" fill="#2d3a9a"/>
<rect x="129.03" y="22.25" width="7.99" height="23.21" fill="#2c3897"/>
<rect x="129.03" y="45.06" width="7.99" height="4.96" fill="#2c3999"/>
<rect x="129.03" y="49.62" width="7.99" height="7.24" fill="#2c3897"/>
<rect x="129.03" y="56.47" width="7.99" height="2.68" fill="#40baec"/>
<rect x="129.03" y="58.75" width="7.99" height="2.68" fill="#5ac6de"/>
<rect x="129.03" y="61.03" width="7.99" height="2.68" fill="#f2d920"/>
<rect x="129.03" y="63.31" width="7.99" height="2.68" fill="#e85120"/>
<rect x="129.03" y="65.59" width="7.99" height="2.68" fill="#e62922"/>
<rect x="129.03" y="67.88" width="7.99" height="2.68" fill="#e52023"/>
<rect x="129.03" y="70.16" width="7.99" height="2.68" fill="#f3d820"/>
<rect x="129.03" y="72.44" width="7.99" height="2.68" fill="#accf56"/>
<rect x="129.03" y="74.72" width="7.99" height="2.68" fill="#a6ce61"/>
<rect x="129.03" y="77.00" width="7.99" height="2.68" fill="#a5ce63"/>
<rect x="129.03" y="79.28" width="7.99" height="2.68" fill="#abcf58"/>
<rect x="129.03" y="81.56" width="7.99" height="2.68" fill="#e3df27"/>
<rect x="129.03" y="83.84" width="7.99" height="2.68" fill="#e73421"/>
<rect x="129.03" y="86.12" width="7.99" height="2.68" fill="#e62322"/>
<rect x="129.03" y="88.41" width="7.99" height="2.68" fill="#e52023"/>
<rect x="129.03" y="90.69" width="7.99" height="2.68" fill="#f4d720"/>
<rect x="129.03" y="92.97" width="7.99" height="2.68" fill="#9acc75"/>
<rect x="129.03" y="95.25" width="7.99" height="2.68" fill="#45bcea"/>
<rect x="129.03" y="97.53" width="7.99" height="2.68" fill="#2e3d9d"/>
<rect x="129.03" y="99.81" width="7.99" height="4.96" fill="#2d3a9a"/>
<rect x="129.03" y="104.38" width="7.99" height="9.53" fill="#2c3897"/>
<rect x="129.03" y="113.50" width="7.99" height="4.96" fill="#2d3b9a"/>
<rect x="129.03" y="118.06" width="7.99" height="4.96" fill="#2f41a0"/>
<rect x="129.03" y="122.62" width="7.99" height="4.96" fill="#2c3897"/>
<rect x="129.03" y="127.19" width="7.99" height="4.96" fill="#2d3a9a"/>
<rect x="129.03" y="131.75" width="7.99" height="4.96" fill="#2e3e9d"/>
<rect x="129.03" y="136.31" width="7.99" height="4.96" fill="#2c3897"/>
<rect x="129.03" y="140.88" width="7.99" height="4.96" fill="#2d3a99"/>
<rect x="129.03" y="145.44" width="7.99" height="4.56" fill="#2d3b9a"/>
<rect x="136.63" y="4.00" width="7.99" height="9.53" fill="#2c3897"/>
<rect x="136.63" y="13.12" width="7.99" height="4.96" fill="#2d3b9a"/>
<rect x="136.63" y="17.69" width="7.99" height="4.96" fill="#2c3998"/>
<rect x="136.63" y="22.25" width="7.99" height="14.09" fill="#2c3897"/>
<rect x="136.63" y="35.94" width="7.99" height="4.96" fill="#2c3998"/>
<rect x="136.63" y="40.50" width="7.99" height="4.96" fill="#2c3897"/>
<rect x="136.63" y="45.06" width="7.99" height="4.96" fill="#2c3998"/>
<rect x="136.63" y="49.62" width="7.99" height="4.96" fill="#2d3b9a"/>
<rect x="136.63" y="54.19" width="7.99" height="2.68" fill="#2c3897"/>
<rect x="136.63" y="56.47" width="7.99" height="2.68" fill="#40baec"/>
<rect x="136.63" y="58.75" width="7.99" height="2.68" fill="#5ac6de"/>
<rect x="136.63" y="61.03" width="7.99" height="2.68" fill="#f2d920"/>
<rect x="136.63" y="63.31" width="7.99" height="2.68" fill="#e84820"/>
<rect x="136.63" y="65.59" width="7.99" height="2.68" fill="#e62a22"/>
<rect x="136.63" y="67.88" width="7.99" height="2.68" fill="#e62522"/>
<rect x="136.63" y="70.16" width="7.99" height="2.68" fill="#f3d820"/>
<rect x="136.63" y="72.44" width="7.99" height="2.68" fill="#accf56"/>
<rect x="136.63" y="74.72" width="7.99" height="2.68" fill="#a6ce61"/>
<rect x="136.63" y="77.00" width="7.99" height="2.68" fill="#a5ce63"/>
<rect x="136.63" y="79.28" width="7.99" height="2.68" fill="#abcf58"/>
<rect x="136.63" y="81.56" width="7.99" height="2.68" fill="#e3df27"/>
<rect x="136.63" y="83.84" width="7.99" height="2.68" fill="#e73721"/>
<rect x="136.63" y="86.12" width="7.99" height="2.68" fill="#e62922"/>
<rect x="136.63" y="88.41" width="7.99" height="2.68" fill="#e52122"/>
<rect x="136.63" y="90.69" width="7.99" height="2.68" fill="#f4d720"/>
<rect x="136.63" y="92.97" width="7.99" height="2.68" fill="#9acc75"/>
<rect x="136.63" y="95.25" width="7.99" height="2.68" fill="#45bcea"/>
<rect x="136.63" y="97.53" width="7.99" height="2.68" fill="#2e3d9d"/>
<rect x="136.63" y="99.81" width="7.99" height="4.96" fill="#2d3b9a"/>
<rect x="136.63" y="104.38" width="7.99" height="4.96" fill="#2d3a9a"/>
<rect x="136.63" y="108.94" width="7.99" height="4.96" fill="#2c3897"/>
<rect x="136.63" y="113.50" width="7.99" height="4.96" fill="#2d3b9a"/>
<rect x="136.63" y="118.06" width="7.99" height="4.96" fill="#2d3c9b"/>
<rect x="136.63" y="122.62" width="7.99" height="9.53" fill="#2c3897"/>
<rect x="136.63" y="131.75" width="7.99" height="4.96" fill="#2c3998"/>
<rect x="136.63" y="136.31" width="7.99" height="4.96" fill="#2d3b9b"/>
<rect x="136.63" y="140.88" width="7.99" height="4.96" fill="#2c3897"/>
<rect x="136.63" y="145.44" width="7.99" height="4.56" fill="#2c3998"/>
<rect x="144.22" y="4.00" width="7.99" height="4.96" fill="#2d3a99"/>
<rect x="144.22" y="8.56" width="7.99" height="4.96" fill="#2c3897"/>
<rect x="144.22" y="13.12" width="7.99" height="4.96" fill="#2d3b9a"/>
<rect x="144.22" y="17.69" width="7.99" height="4.96" fill="#2d3a99"/>
<rect x="144.22" y="22.25" width="7.99" height="18.65" fill="#2c3897"/>
<rect x="144.22" y="40.50" width="7.99" height="4.96" fill="#2c3998"/>
<rect x="144.22" y="45.06" width="7.99" height="9.53" fill="#2c3897"/>
<rect x="144.22" y="54.19" width="7.99" height="2.68" fill="#355ab2"/>
<rect x="144.22" y="56.47" width="7.99" height="2.68" fill="#4fc1e4"/>
<rect x="144.22" y="58.75" width="7.99" height="2.68" fill="#efdd20"/>
<rect x="144.22" y="61.03" width="7.99" height="2.68" fill="#e62c22"/>
<rect x="144.22" y="63.31" width="7.99" height="4.96" fill="#e62a22"/>
<rect x="144.22" y="67.88" width="7.99" height="2.68" fill="#e73521"/>
<rect x="144.22" y="70.16" width="7.99" height="2.68" fill="#f5cd20"/>
<rect x="144.22" y="72.44" width="7.99" height="2.68" fill="#7ac8ab"/>
<rect x="144.22" y="74.72" width="7.99" height="2.68" fill="#73c7b5"/>
<rect x="144.22" y="77.00" width="7.99" height="2.68" fill="#72c7b6"/>
<rect x="144.22" y="79.28" width="7.99" height="2.68" fill="#78c8ac"/>
<rect x="144.22" y="81.56" width="7.99" height="2.68" fill="#efdd20"/>
<rect x="144.22" y="83.84" width="7.99" height="2.68" fill="#e73121"/>
<rect x="144.22" y="86.12" width="7.99" height="2.68" fill="#e31e23"/>
<rect x="144.22" y="88.41" width="7.99" height="2.68" fill="#e41f23"/>
<rect x="144.22" y="90.69" width="7.99" height="2.68" fill="#e31d24"/>
<rect x="144.22" y="92.97" width="7.99" height="2.68" fill="#f2da20"/>
<rect x="144.22" y="95.25" width="7.99" height="2.68" fill="#53c3e2"/>
<rect x="144.22" y="97.53" width="7.99" height="2.68" fill="#3a75c3"/>
<rect x="144.22" y="99.81" width="7.99" height="4.96" fill="#2d3b9a"/>
<rect x="144.22" y="104.38" width="7.99" height="4.96" fill="#2c3897"/>
<rect x="144.22" y="108.94" width="7.99" height="4.96" fill="#2e3f9f"/>
<rect x="144.22" y="113.50" width="7.99" height="4.96" fill="#2c3998"/>
<rect x="144.22" y="118.06" width="7.99" height="4.96" fill="#2c3897"/>
<rect x="144.22" y="122.62" width="7.99" height="4.96" fill="#2d3b9b"/>
<rect x="144.22" y="127.19" width="7.99" height="4.96" fill="#2c3897"/>
<rect x="144.22" y="131.75" width="7.99" height="9.53" fill="#2d3b9a"/>
<rect x="144.22" y="140.88" width="7.99" height="4.96" fill="#2c3897"/>
<rect x="144.22" y="145.44" width="7.99" height="4.56" fill="#2d3a99"/>
<rect x="151.82" y="4.00" width="7.99" height="4.96" fill="#2c3999"/>
<rect x="151.82" y="8.56" width="7.99" height="4.96" fill="#2d3b9b"/>
<rect x="151.82" y="13.12" width="7.99" height="4.96" fill="#2d3a9a"/>
<rect x="151.82" y="17.69" width="7.99" height="4.96" fill="#324ba7"/>
<rect x="151.82" y="22.25" width="7.99" height="4.96" fill="#2d3b9b"/>
<rect x="151.82" y="26.81" width="7.99" height="4.96" fill="#314aa6"/>
<rect x="151.82" y="31.38" width="7.99" height="4.96" fill="#2e3f9e"/>
<rect x="151.82" y="35.94" width="7.99" height="4.96" fill="#2e3f9f"/>
<rect x="151.82" y="40.50" width="7.99" height="4.96" fill="#2e3d9d"/>
<rect x="151.82" y="45.06" width="7.99" height="4.96" fill="#2d3b9b"/>
<rect x="151.82" y="49.62" width="7.99" height="2.68" fill="#2f409f"/>
<rect x="151.82" y="51.91" width="7.99" height="2.68" fill="#3869bb"/>
<rect x="151.82" y="54.19" width="7.99" height="2.68" fill="#51c2e3"/>
<rect x="151.82" y="56.47" width="7.99" height="2.68" fill="#f4d720"/>
<rect x="151.82" y="58.75" width="7.99" height="2.68" fill="#e62622"/>
<rect x="151.82" y="61.03" width="7.99" height="2.68" fill="#e52122"/>
<rect x="151.82" y="63.31" width="7.99" height="2.68" fill="#e62e22"/>
<rect x="151.82" y="65.59" width="7.99" height="2.68" fill="#ec7120"/>
<rect x="151.82" y="67.88" width="7.99" height="2.68" fill="#f1db20"/>
<rect x="151.82" y="70.16" width="7.99" height="2.68" fill="#82c89d"/>
<rect x="151.82" y="72.44" width="7.99" height="2.68" fill="#58c5df"/>
<rect x="151.82" y="74.72" width="7.99" height="2.68" fill="#54c3e1"/>
<rect x="151.82" y="77.00" width="7.99" height="2.68" fill="#53c3e2"/>
<rect x="151.82" y="79.28" width="7.99" height="2.68" fill="#57c5e0"/>
<rect x="151.82" y="81.56" width="7.99" height="2.68" fill="#70c7ba"/>
<rect x="151.82" y="83.84" width="7.99" height="2.68" fill="#ece120"/>
<rect x="151.82" y="86.12" width="7.99" height="2.68" fill="#ef8920"/>
<rect x="151.82" y="88.41" width="7.99" height="2.68" fill="#e73021"/>
<rect x="151.82" y="90.69" width="7.99" height="2.68" fill="#e73321"/>
<rect x="151.82" y="92.97" width="7.99" height="2.68" fill="#e41f23"/>
<rect x="151.82" y="95.25" width="7.99" height="2.68" fill="#f5c820"/>
<rect x="151.82" y="97.53" width="7.99" height="2.68" fill="#56c4e0"/>
<rect x="151.82" y="99.81" width="7.99" height="2.68" fill="#3c8ed2"/>
<rect x="151.82" y="102.09" width="7.99" height="2.68" fill="#2f409f"/>
<rect x="151.82" y="104.38" width="7.99" height="4.96" fill="#2e3f9f"/>
<rect x="151.82" y="108.94" width="7.99" height="4.96" fill="#324ca8"/>
<rect x="151.82" y="113.50" width="7.99" height="4.96" fill="#2d3a9a"/>
<rect x="151.82" y="118.06" width="7.99" height="4.96" fill="#2f409f"/>
<rect x="151.82" y="122.62" width="7.99" height="4.96" fill="#2d3b9b"/>
<rect x="151.82" y="127.19" width="7.99" height="4.96" fill="#2d3c9b"/>
<rect x="151.82" y="131.75" width="7.99" height="4.96" fill="#2e3f9f"/>
<rect x="151.82" y="136.31" width="7.99" height="9.53" fill="#2e3e9e"/>
<rect x="151.82" y="145.44" width="7.99" height="4.56" fill="#2e3d9c"/>
<rect x="159.41" y="4.00" width="7.99" height="4.96" fill="#2e3d9d"/>
<rect x="159.41" y="8.56" width="7.99" height="4.96" fill="#334faa"/>
<rect x="159.41" y="13.12" width="7.99" height="4.96" fill="#2d3c9c"/>
<rect x="159.41" y="17.69" width="7.99" height="4.96" fill="#3147a4"/>
<rect x="159.41" y="22.25" width="7.99" height="4.96" fill="#2d3b9b"/>
<rect x="159.41" y="26.81" width="7.99" height="4.96" fill="#2e3d9d"/>
<rect x="159.41" y="31.38" width="7.99" height="4.96" fill="#3044a2"/>
<rect x="159.41" y="35.94" width="7.99" height="4.96" fill="#2e3d9c"/>
<rect x="159.41" y="40.50" width="7.99" height="4.96" fill="#2d3c9b"/>
<rect x="159.41" y="45.06" width="7.99" height="4.96" fill="#2f41a0"/>
<rect x="159.41" y="49.62" width="7.99" height="2.68" fill="#2d3c9c"/>
<rect x="159.41" y="51.91" width="7.99" height="2.68" fill="#3869bb"/>
<rect x="159.41" y="54.19" width="7.99" height="2.68" fill="#51c2e3"/>
<rect x="159.41" y="56.47" width="7.99" height="2.68" fill="#f4d720"/>
<rect x="159.41" y="58.75" width="7.99" height="2.68" fill="#e52023"/>
<rect x="159.41" y="61.03" width="7.99" height="2.68" fill="#e62122"/>
<rect x="159.41" y="63.31" width="7.99" height="2.68" fill="#e72f21"/>
<rect x="159.41" y="65.59" width="7.99" height="2.68" fill="#f5ca20"/>
<rect x="159.41" y="67.88" width="7.99" height="2.68" fill="#a9cf5c"/>
<rect x="159.41" y="70.16" width="7.99" height="2.68" fill="#4fc1e4"/>
<rect x="159.41" y="72.44" width="7.99" height="2.68" fill="#396ebe"/>
<rect x="159.41" y="74.72" width="7.99" height="2.68" fill="#365bb2"/>
<rect x="159.41" y="77.00" width="7.99" height="2.68" fill="#3558b0"/>
<rect x="159.41" y="79.28" width="7.99" height="2.68" fill="#3868bb"/>
<rect x="159.41" y="81.56" width="7.99" height="2.68" fill="#47bde8"/>
<rect x="159.41" y="83.84" width="7.99" height="2.68" fill="#96cc7b"/>
<rect x="159.41" y="86.12" width="7.99" height="2.68" fill="#f3d820"/>
<rect x="159.41" y="88.41" width="7.99" height="2.68" fill="#e73f21"/>
<rect x="159.41" y="90.69" width="7.99" height="2.68" fill="#e62222"/>
<rect x="159.41" y="92.97" width="7.99" height="2.68" fill="#e62b22"/>
<rect x="159.41" y="95.25" width="7.99" height="2.68" fill="#f5c820"/>
<rect x="159.41" y="97.53" width="7.99" height="2.68" fill="#56c4e0"/>
<rect x="159.41" y="99.81" width="7.99" height="2.68" fill="#3c8ed2"/>
<rect x="159.41" y="102.09" width="7.99" height="2.68" fill="#2d3c9c"/>
<rect x="159.41" y="104.38" width="7.99" height="4.96" fill="#3043a2"/>
<rect x="159.41" y="108.94" width="7.99" height="4.96" fill="#2e3f9f"/>
<rect x="159.41" y="113.50" width="7.99" height="4.96" fill="#2f42a0"/>
<rect x="159.41" y="118.06" width="7.99" height="9.53" fill="#2d3c9c"/>
<rect x="159.41" y="127.19" width="7.99" height="4.96" fill="#2e3f9f"/>
<rect x="159.41" y="131.75" width="7.99" height="4.96" fill="#2e3d9d"/>
<rect x="159.41" y="136.31" width="7.99" height="4.96" fill="#2e3e9e"/>
<rect x="159.41" y="140.88" width="7.99" height="4.96" fill="#2f43a1"/>
<rect x="159.41" y="145.44" width="7.99" height="4.56" fill="#3045a3"/>
<rect x="167.00" y="4.00" width="7.59" height="4.96" fill="#2f409f"/>
<rect x="167.00" y="8.56" width="7.59" height="4.96" fill="#3046a3"/>
<rect x="167.00" y="13.12" width="7.59" height="4.96" fill="#2d3c9c"/>
<rect x="167.00" y="17.69" width="7.59" height="4.96" fill="#2e3d9d"/>
<rect x="167.00" y="22.25" width="7.59" height="4.96" fill="#3148a5"/>
<rect x="167.00" y="26.81" width="7.59" height="4.96" fill="#3147a4"/>
<rect x="167.00" y="31.38" width="7.59" height="4.96" fill="#3046a4"/>
<rect x="167.00" y="35.94" width="7.59" height="4.96" fill="#2e3e9d"/>
<rect x="167.00" y="40.50" width="7.59" height="4.96" fill="#3147a4"/>
<rect x="167.00" y="45.06" width="7.59" height="4.96" fill="#2f42a1"/>
<rect x="167.00" y="49.62" width="7.59" height="2.68" fill="#2e3d9d"/>
<rect x="167.00" y="51.91" width="7.59" height="2.68" fill="#3869bb"/>
<rect x="167.00" y="54.19" width="7.59" height="2.68" fill="#51c2e3"/>
<rect x="167.00" y="56.47" width="7.59" height="2.68" fill="#f4d720"/>
<rect x="167.00" y="58.75" width="7.59" height="2.68" fill="#e62a22"/>
<rect x="167.00" y="61.03" width="7.59" height="2.68" fill="#e62e22"/>
<rect x="167.00" y="63.31" width="7.59" height="2.68" fill="#e73d21"/>
<rect x="167.00" y="65.59" width="7.59" height="2.68" fill="#f5ca20"/>
<rect x="167.00" y="67.88" width="7.59" height="2.68" fill="#a9cf5c"/>
<rect x="167.00" y="70.16" width="7.59" height="2.68" fill="#4fc1e4"/>
<rect x="167.00" y="72.44" width="7.59" height="2.68" fill="#396ebe"/>
<rect x="167.00" y="74.72" width="7.59" height="2.68" fill="#365bb2"/>
<rect x="167.00" y="77.00" width="7.59" height="2.68" fill="#3558b0"/>
<rect x="167.00" y="79.28" width="7.59" height="2.68" fill="#3868bb"/>
<rect x="167.00" y="81.56" width="7.59" height="2.68" fill="#47bde8"/>
<rect x="167.00" y="83.84" width="7.59" height="2.68" fill="#96cc7b"/>
<rect x="167.00" y="86.12" width="7.59" height="2.68" fill="#f3d820"/>
<rect x="167.00" y="88.41" width="7.59" height="2.68" fill="#e84620"/>
<rect x="167.00" y="90.69" width="7.59" height="2.68" fill="#e62222"/>
<rect x="167.00" y="92.97" width="7.59" height="2.68" fill="#e62922"/>
<rect x="167.00" y="95.25" width="7.59" height="2.68" fill="#f5c820"/>
<rect x="167.00" y="97.53" width="7.59" height="2.68" fill="#56c4e0"/>
<rect x="167.00" y="99.81" width="7.59" height="2.68" fill="#3c8ed2"/>
<rect x="167.00" y="102.09" width="7.59" height="2.68" fill="#2e3d9d"/>
<rect x="167.00" y="104.38" width="7.59" height="4.96" fill="#2d3c9c"/>
<rect x="167.00" y="108.94" width="7.59" height="4.96" fill="#3043a2"/>
<rect x="167.00" y="113.50" width="7.59" height="4.96" fill="#2e3e9e"/>
<rect x="167.00" y="118.06" width="7.59" height="4.96" fill="#3045a3"/>
<rect x="167.00" y="122.62" width="7.59" height="4.96" fill="#2d3c9c"/>
<rect x="167.00" y="127.19" width="7.59" height="4.96" fill="#2e3f9f"/>
<rect x="167.00" y="131.75" width="7.59" height="4.96" fill="#2f43a1"/>
<rect x="167.00" y="136.31" width="7.59" height="4.96" fill="#2e3d9d"/>
<rect x="167.00" y="140.88" width="7.59" height="4.96" fill="#2e3f9f"/>
<rect x="167.00" y="145.44" width="7.59" height="4.56" fill="#2e3e9e"/>
<rect x="220.10" y="4.00" width="7.90" height="9.53" fill="#2c3897"/>
<rect x="220.10" y="13.12" width="7.90" height="4.96" fill="#2d3a9a"/>
<rect x="220.10" y="17.69" width="7.90" height="4.96" fill="#2c3897"/>
<rect x="220.10" y="22.25" width="7.90" height="4.96" fill="#2c3999"/>
<rect x="220.10" y="26.81" width="7.90" height="23.21" fill="#2c3897"/>
<rect x="220.10" y="49.62" width="7.90" height="4.96" fill="#2c3998"/>
<rect x="220.10" y="54.19" width="7.90" height="2.68" fill="#2c3897"/>
<rect x="220.10" y="56.47" width="7.90" height="2.68" fill="#2d3c9b"/>
<rect x="220.10" y="58.75" width="7.90" height="2.68" fill="#43bcea"/>
<rect x="220.10" y="61.03" width="7.90" height="2.68" fill="#83c99b"/>
<rect x="220.10" y="63.31" width="7.90" height="2.68" fill="#f5d520"/>
<rect x="220.10" y="65.59" width="7.90" height="2.68" fill="#e62222"/>
<rect x="220.10" y="67.88" width="7.90" height="2.68" fill="#e52023"/>
<rect x="220.10" y="70.16" width="7.90" height="2.68" fill="#e62222"/>
<rect x="220.10" y="72.44" width="7.90" height="2.68" fill="#e52023"/>
<rect x="220.10" y="74.72" width="7.90" height="2.68" fill="#e31e23"/>
<rect x="220.10" y="77.00" width="7.90" height="2.68" fill="#d51b23"/>
<rect x="220.10" y="79.28" width="7.90" height="2.68" fill="#e52122"/>
<rect x="220.10" y="81.56" width="7.90" height="2.68" fill="#e41f23"/>
<rect x="220.10" y="83.84" width="7.90" height="2.68" fill="#e31d24"/>
<rect x="220.10" y="86.12" width="7.90" height="2.68" fill="#e21c24"/>
<rect x="220.10" y="88.41" width="7.90" height="2.68" fill="#e62622"/>
<rect x="220.10" y="90.69" width="7.90" height="2.68" fill="#f3d920"/>
<rect x="220.10" y="92.97" width="7.90" height="2.68" fill="#58c5df"/>
<rect x="220.10" y="95.25" width="7.90" height="2.68" fill="#3ea2de"/>
<rect x="220.10" y="97.53" width="7.90" height="7.24" fill="#2c3897"/>
<rect x="220.10" y="104.38" width="7.90" height="4.96" fill="#2d3b9a"/>
<rect x="220.10" y="108.94" width="7.90" height="9.53" fill="#2c3897"/>
<rect x="220.10" y="118.06" width="7.90" height="4.96" fill="#2c3998"/>
<rect x="220.10" y="122.62" width="7.90" height="9.53" fill="#2c3897"/>
<rect x="220.10" y="131.75" width="7.90" height="4.96" fill="#2d3a99"/>
<rect x="220.10" y="136.31" width="7.90" height="13.69" fill="#2c3897"/>
<rect x="227.60" y="4.00" width="7.90" height="4.96" fill="#2d3a9a"/>
<rect x="227.60" y="8.56" width="7.90" height="4.96" fill="#324ba7"/>
<rect x="227.60" y="13.12" width="7.90" height="4.96" fill="#2d3c9c"/>
<rect x="227.60" y="17.69" width="7.90" height="4.96" fill="#2c3998"/>
<rect x="227.60" y="22.25" width="7.90" height="4.96" fill="#2d3a99"/>
<rect x="227.60" y="26.81" width="7.90" height="4.96" fill="#2d3c9c"/>
<rect x="227.60" y="31.38" width="7.90" height="4.96" fill="#2d3b9a"/>
<rect x="227.60" y="35.94" width="7.90" height="4.96" fill="#2d3c9c"/>
<rect x="227.60" y="40.50" width="7.90" height="4.96" fill="#2e3d9d"/>
<rect x="227.60" y="45.06" width="7.90" height="4.96" fill="#3045a3"/>
<rect x="227.60" y="49.62" width="7.90" height="4.96" fill="#2e3d9c"/>
<rect x="227.60" y="54.19" width="7.90" height="2.68" fill="#2d3a9a"/>
<rect x="227.60" y="56.47" width="7.90" height="2.68" fill="#2d3c9b"/>
<rect x="227.60" y="58.75" width="7.90" height="2.68" fill="#43bcea"/>
<rect x="227.60" y="61.03" width="7.90" height="2.68" fill="#83c99b"/>
<rect x="227.60" y="63.31" width="7.90" height="2.68" fill="#f5d520"/>
<rect x="227.60" y="65.59" width="7.90" height="2.68" fill="#e41e23"/>
<rect x="227.60" y="67.88" width="7.90" height="2.68" fill="#e52023"/>
<rect x="227.60" y="70.16" width="7.90" height="2.68" fill="#e62222"/>
<rect x="227.60" y="72.44" width="7.90" height="2.68" fill="#e41f23"/>
<rect x="227.60" y="74.72" width="7.90" height="2.68" fill="#e52122"/>
<rect x="227.60" y="77.00" width="7.90" height="2.68" fill="#e52023"/>
<rect x="227.60" y="79.28" width="7.90" height="2.68" fill="#e41f23"/>
<rect x="227.60" y="81.56" width="7.90" height="2.68" fill="#e62222"/>
<rect x="227.60" y="83.84" width="7.90" height="4.96" fill="#e52023"/>
<rect x="227.60" y="88.41" width="7.90" height="2.68" fill="#e62a22"/>
<rect x="227.60" y="90.69" width="7.90" height="2.68" fill="#f3d920"/>
<rect x="227.60" y="92.97" width="7.90" height="2.68" fill="#58c5df"/>
<rect x="227.60" y="95.25" width="7.90" height="2.68" fill="#3ea2de"/>
<rect x="227.60" y="97.53" width="7.90" height="2.68" fill="#2d3a9a"/>
<rect x="227.60" y="99.81" width="7.90" height="9.53" fill="#2e3d9d"/>
<rect x="227.60" y="108.94" width="7.90" height="4.96" fill="#3046a3"/>
<rect x="227.60" y="113.50" width="7.90" height="4.96" fill="#2d3c9c"/>
<rect x="227.60" y="118.06" width="7.90" height="4.96" fill="#2f409f"/>
<rect x="227.60" y="122.62" width="7.90" height="4.96" fill="#2e3e9e"/>
<rect x="227.60" y="127.19" width="7.90" height="4.96" fill="#2e3d9d"/>
<rect x="227.60" y="131.75" width="7.90" height="4.96" fill="#2d3a9a"/>
<rect x="227.60" y="136.31" width="7.90" height="4.96" fill="#2d3c9c"/>
<rect x="227.60" y="140.88" width="7.90" height="4.96" fill="#2e3f9f"/>
<rect x="227.60" y="145.44" width="7.90" height="4.56" fill="#2e3e9e"/>
<rect x="235.10" y="4.00" width="7.90" height="4.96" fill="#2c3897"/>
<rect x="235.10" y="8.56" width="7.90" height="4.96" fill="#2e3d9c"/>
<rect x="235.10" y="13.12" width="7.90" height="9.53" fill="#2e3d9d"/>
<rect x="235.10" y="22.25" width="7.90" height="4.96" fill="#2d3b9b"/>
<rect x="235.10" y="26.81" width="7.90" height="4.96" fill="#2c3998"/>
<rect x="235.10" y="31.38" width="7.90" height="4.96" fill="#2d3b9b"/>
<rect x="235.10" y="35.94" width="7.90" height="4.96" fill="#2c3897"/>
<rect x="235.10" y="40.50" width="7.90" height="4.96" fill="#2c3998"/>
<rect x="235.10" y="45.06" width="7.90" height="4.96" fill="#2d3c9c"/>
<rect x="235.10" y="49.62" width="7.90" height="7.24" fill="#2c3998"/>
<rect x="235.10" y="56.47" width="7.90" height="2.68" fill="#3b83cc"/>
<rect x="235.10" y="58.75" width="7.90" height="2.68" fill="#76c7b1"/>
<rect x="235.10" y="61.03" width="7.90" height="2.68" fill="#f5ca20"/>
<rect x="235.10" y="63.31" width="7.90" height="2.68" fill="#e21c24"/>
<rect x="235.10" y="65.59" width="7.90" height="2.68" fill="#e31e23"/>
<rect x="235.10" y="67.88" width="7.90" height="2.68" fill="#d31b22"/>
<rect x="235.10" y="70.16" width="7.90" height="2.68" fill="#e21c24"/>
<rect x="235.10" y="72.44" width="7.90" height="2.68" fill="#df1c24"/>
<rect x="235.10" y="74.72" width="7.90" height="2.68" fill="#cc1b22"/>
<rect x="235.10" y="77.00" width="7.90" height="2.68" fill="#e41f23"/>
<rect x="235.10" y="79.28" width="7.90" height="2.68" fill="#c71a21"/>
<rect x="235.10" y="81.56" width="7.90" height="2.68" fill="#dc1c23"/>
<rect x="235.10" y="83.84" width="7.90" height="2.68" fill="#e31d24"/>
<rect x="235.10" y="86.12" width="7.90" height="2.68" fill="#d71b23"/>
<rect x="235.10" y="88.41" width="7.90" height="2.68" fill="#e41f23"/>
<rect x="235.10" y="90.69" width="7.90" height="2.68" fill="#e52023"/>
<rect x="235.10" y="92.97" width="7.90" height="2.68" fill="#efde20"/>
<rect x="235.10" y="95.25" width="7.90" height="2.68" fill="#63c6cf"/>
<rect x="235.10" y="97.53" width="7.90" height="2.68" fill="#3762b7"/>
<rect x="235.10" y="99.81" width="7.90" height="4.96" fill="#2d3b9b"/>
<rect x="235.10" y="104.38" width="7.90" height="4.96" fill="#2e3d9c"/>
<rect x="235.10" y="108.94" width="7.90" height="4.96" fill="#2c3998"/>
<rect x="235.10" y="113.50" width="7.90" height="4.96" fill="#2c3897"/>
<rect x="235.10" y="118.06" width="7.90" height="4.96" fill="#2d3a99"/>
<rect x="235.10" y="122.62" width="7.90" height="4.96" fill="#2e3e9e"/>
<rect x="235.10" y="127.19" width="7.90" height="4.96" fill="#2d3c9c"/>
<rect x="235.10" y="131.75" width="7.90" height="4.96" fill="#2e3d9d"/>
<rect x="235.10" y="136.31" width="7.90" height="4.96" fill="#2c3998"/>
<rect x="235.10" y="140.88" width="7.90" height="4.96" fill="#2d3b9a"/>
<rect x="235.10" y="145.44" width="7.90" height="4.56" fill="#2e3d9d"/>
<rect x="242.60" y="4.00" width="7.90" height="4.96" fill="#2c3897"/>
<rect x="242.60" y="8.56" width="7.90" height="4.96" fill="#2d3a99"/>
<rect x="242.60" y="13.12" width="7.90" height="9.53" fill="#2c3897"/>
<rect x="242.60" y="22.25" width="7.90" height="4.96" fill="#2c3998"/>
<rect x="242.60" y="26.81" width="7.90" height="9.53" fill="#2c3897"/>
<rect x="242.60" y="35.94" width="7.90" height="4.96" fill="#2d3b9a"/>
<rect x="242.60" y="40.50" width="7.90" height="4.96" fill="#2c3897"/>
<rect x="242.60" y="45.06" width="7.90" height="4.96" fill="#2c3998"/>
<rect x="242.60" y="49.62" width="7.90" height="4.96" fill="#2d3a99"/>
<rect x="242.60" y="54.19" width="7.90" height="2.68" fill="#2d3c9b"/>
<rect x="242.60" y="56.47" width="7.90" height="2.68" fill="#3b83cc"/>
<rect x="242.60" y="58.75" width="7.90" height="2.68" fill="#76c7b1"/>
<rect x="242.60" y="61.03" width="7.90" height="2.68" fill="#f5ca20"/>
<rect x="242.60" y="63.31" width="7.90" height="2.68" fill="#e21c24"/>
<rect x="242.60" y="65.59" width="7.90" height="2.68" fill="#e21d24"/>
<rect x="242.60" y="67.88" width="7.90" height="2.68" fill="#e31e23"/>
<rect x="242.60" y="70.16" width="7.90" height="2.68" fill="#dd1c24"/>
<rect x="242.60" y="72.44" width="7.90" height="2.68" fill="#e21d24"/>
<rect x="242.60" y="74.72" width="7.90" height="2.68" fill="#c91a22"/>
<rect x="242.60" y="77.00" width="7.90" height="2.68" fill="#d31b22"/>
<rect x="242.60" y="79.28" width="7.90" height="2.68" fill="#e31e23"/>
<rect x="242.60" y="81.56" width="7.90" height="2.68" fill="#cd1b22"/>
<rect x="242.60" y="83.84" width="7.90" height="2.68" fill="#e52023"/>
<rect x="242.60" y="86.12" width="7.90" height="2.68" fill="#e21d24"/>
<rect x="242.60" y="88.41" width="7.90" height="2.68" fill="#e31e23"/>
<rect x="242.60" y="90.69" width="7.90" height="2.68" fill="#e73121"/>
<rect x="242.60" y="92.97" width="7.90" height="2.68" fill="#efde20"/>
<rect x="242.60" y="95.25" width="7.90" height="2.68" fill="#63c6cf"/>
<rect x="242.60" y="97.53" width="7.90" height="2.68" fill="#3762b7"/>
<rect x="242.60" y="99.81" width="7.90" height="9.53" fill="#2c3897"/>
<rect x="242.60" y="108.94" width="7.90" height="4.96" fill="#2d3b9a"/>
<rect x="242.60" y="113.50" width="7.90" height="9.53" fill="#2c3897"/>
<rect x="242.60" y="122.62" width="7.90" height="4.96" fill="#2d3a99"/>
<rect x="242.60" y="127.19" width="7.90" height="9.53" fill="#2c3897"/>
<rect x="242.60" y="136.31" width="7.90" height="4.96" fill="#2d3a99"/>
<rect x="242.60" y="140.88" width="7.90" height="4.96" fill="#2c3897"/>
<rect x="242.60" y="145.44" width="7.90" height="4.56" fill="#2c3999"/>
<rect x="250.10" y="4.00" width="7.90" height="4.96" fill="#2c3999"/>
<rect x="250.10" y="8.56" width="7.90" height="4.96" fill="#2c3897"/>
<rect x="250.10" y="13.12" width="7.90" height="4.96" fill="#2d3b9b"/>
<rect x="250.10" y="17.69" width="7.90" height="4.96" fill="#2c3897"/>
<rect x="250.10" y="22.25" width="7.90" height="9.53" fill="#2c3998"/>
<rect x="250.10" y="31.38" width="7.90" height="4.96" fill="#2c3897"/>
<rect x="250.10" y="35.94" width="7.90" height="4.96" fill="#2d3a99"/>
<rect x="250.10" y="40.50" width="7.90" height="4.96" fill="#2c3897"/>
<rect x="250.10" y="45.06" width="7.90" height="4.96" fill="#2d3b9a"/>
<rect x="250.10" y="49.62" width="7.90" height="4.96" fill="#2f41a0"/>
<rect x="250.10" y="54.19" width="7.90" height="2.68" fill="#2c3897"/>
<rect x="250.10" y="56.47" width="7.90" height="2.68" fill="#3b83cc"/>
<rect x="250.10" y="58.75" width="7.90" height="2.68" fill="#76c7b1"/>
<rect x="250.10" y="61.03" width="7.90" height="2.68" fill="#f5ca20"/>
<rect x="250.10" y="63.31" width="7.90" height="2.68" fill="#de1c24"/>
<rect x="250.10" y="65.59" width="7.90" height="2.68" fill="#d11b22"/>
<rect x="250.10" y="67.88" width="7.90" height="2.68" fill="#da1b23"/>
<rect x="250.10" y="70.16" width="7.90" height="2.68" fill="#e31e23"/>
<rect x="250.10" y="72.44" width="7.90" height="2.68" fill="#ce1b22"/>
<rect x="250.10" y="74.72" width="7.90" height="2.68" fill="#e31d24"/>
<rect x="250.10" y="77.00" width="7.90" height="2.68" fill="#e31e23"/>
<rect x="250.10" y="79.28" width="7.90" height="2.68" fill="#cb1a22"/>
<rect x="250.10" y="81.56" width="7.90" height="2.68" fill="#dc1c23"/>
<rect x="250.10" y="83.84" width="7.90" height="2.68" fill="#db1c23"/>
<rect x="250.10" y="86.12" width="7.90" height="2.68" fill="#de1c24"/>
<rect x="250.10" y="88.41" width="7.90" height="2.68" fill="#cf1b22"/>
<rect x="250.10" y="90.69" width="7.90" height="2.68" fill="#e62a22"/>
<rect x="250.10" y="92.97" width="7.90" height="2.68" fill="#efde20"/>
<rect x="250.10" y="95.25" width="7.90" height="2.68" fill="#63c6cf"/>
<rect x="250.10" y="97.53" width="7.90" height="2.68" fill="#3762b7"/>
<rect x="250.10" y="99.81" width="7.90" height="4.96" fill="#2d3a99"/>
<rect x="250.10" y="104.38" width="7.90" height="4.96" fill="#2d3a9a"/>
<rect x="250.10" y="108.94" width="7.90" height="4.96" fill="#2c3999"/>
<rect x="250.10" y="113.50" width="7.90" height="4.96" fill="#2c3897"/>
<rect x="250.10" y="118.06" width="7.90" height="4.96" fill="#2e3e9e"/>
<rect x="250.10" y="122.62" width="7.90" height="4.96" fill="#2d3a9a"/>
<rect x="250.10" y="127.19" width="7.90" height="4.96" fill="#2c3897"/>
<rect x="250.10" y="131.75" width="7.90" height="9.53" fill="#2d3b9a"/>
<rect x="250.10" y="140.88" width="7.90" height="4.96" fill="#2c3897"/>
<rect x="250.10" y="145.44" width="7.90" height="4.56" fill="#2c3998"/>
<rect x="257.60" y="4.00" width="7.90" height="4.96" fill="#3451ab"/>
<rect x="257.60" y="8.56" width="7.90" height="4.96" fill="#2f42a1"/>
<rect x="257.60" y="13.12" width="7.90" height="4.96" fill="#3045a3"/>
<rect x="257.60" y="17.69" width="7.90" height="4.96" fill="#3454ad"/>
<rect x="257.60" y="22.25" width="7.90" height="4.96" fill="#3046a4"/>
<rect x="257.60" y="26.81" width="7.90" height="4.96" fill="#3147a4"/>
<rect x="257.60" y="31.38" width="7.90" height="4.96" fill="#2e3d9d"/>
<rect x="257.60" y="35.94" width="7.90" height="4.96" fill="#2d3c9c"/>
<rect x="257.60" y="40.50" width="7.90" height="9.53" fill="#3045a3"/>
<rect x="257.60" y="49.62" width="7.90" height="4.96" fill="#2e3e9e"/>
<rect x="257.60" y="54.19" width="7.90" height="2.68" fill="#2e3d9c"/>
<rect x="257.60" y="56.47" width="7.90" height="2.68" fill="#3b83cc"/>
<rect x="257.60" y="58.75" width="7.90" height="2.68" fill="#76c7b1"/>
<rect x="257.60" y="61.03" width="7.90" height="2.68" fill="#f5ca20"/>
<rect x="257.60" y="63.31" width="7.90" height="2.68" fill="#e42023"/>
<rect x="257.60" y="65.59" width="7.90" height="2.68" fill="#e41e23"/>
<rect x="257.60" y="67.88" width="7.90" height="2.68" fill="#e31d24"/>
<rect x="257.60" y="70.16" width="7.90" height="2.68" fill="#e52023"/>
<rect x="257.60" y="72.44" width="7.90" height="4.96" fill="#e31e23"/>
<rect x="257.60" y="77.00" width="7.90" height="2.68" fill="#d41b23"/>
<rect x="257.60" y="79.28" width="7.90" height="2.68" fill="#e31d24"/>
<rect x="257.60" y="81.56" width="7.90" height="2.68" fill="#e31e23"/>
<rect x="257.60" y="83.84" width="7.90" height="2.68" fill="#cc1b22"/>
<rect x="257.60" y="86.12" width="7.90" height="2.68" fill="#e21d24"/>
<rect x="257.60" y="88.41" width="7.90" height="2.68" fill="#d61b23"/>
<rect x="257.60" y="90.69" width="7.90" height="2.68" fill="#e62622"/>
<rect x="257.60" y="92.97" width="7.90" height="2.68" fill="#efde20"/>
<rect x="257.60" y="95.25" width="7.90" height="2.68" fill="#63c6cf"/>
<rect x="257.60" y="97.53" width="7.90" height="2.68" fill="#3762b7"/>
<rect x="257.60" y="99.81" width="7.90" height="4.96" fill="#2d3c9c"/>
<rect x="257.60" y="104.38" width="7.90" height="4.96" fill="#2e409f"/>
<rect x="257.60" y="108.94" width="7.90" height="4.96" fill="#2e3e9e"/>
<rect x="257.60" y="113.50" width="7.90" height="4.96" fill="#2f41a0"/>
<rect x="257.60" y="118.06" width="7.90" height="4.96" fill="#3046a4"/>
<rect x="257.60" y="122.62" width="7.90" height="4.96" fill="#3045a3"/>
<rect x="257.60" y="127.19" width="7.90" height="4.96" fill="#2d3c9c"/>
<rect x="257.60" y="131.75" width="7.90" height="4.96" fill="#3044a3"/>
<rect x="257.60" y="136.31" width="7.90" height="4.96" fill="#2d3c9c"/>
<rect x="257.60" y="140.88" width="7.90" height="4.96" fill="#2f40a0"/>
<rect x="257.60" y="145.44" width="7.90" height="4.56" fill="#2e3d9d"/>
<rect x="265.10" y="4.00" width="7.90" height="14.09" fill="#2c3897"/>
<rect x="265.10" y="17.69" width="7.90" height="4.96" fill="#2c3998"/>
<rect x="265.10" y="22.25" width="7.90" height="9.53" fill="#2c3897"/>
<rect x="265.10" y="31.38" width="7.90" height="9.53" fill="#2c3998"/>
<rect x="265.10" y="40.50" width="7.90" height="4.96" fill="#2c3897"/>
<rect x="265.10" y="45.06" width="7.90" height="4.96" fill="#2d3a9a"/>
<rect x="265.10" y="49.62" width="7.90" height="4.96" fill="#2f41a0"/>
<rect x="265.10" y="54.19" width="7.90" height="2.68" fill="#2c3897"/>
<rect x="265.10" y="56.47" width="7.90" height="2.68" fill="#3b83cc"/>
<rect x="265.10" y="58.75" width="7.90" height="2.68" fill="#76c7b1"/>
<rect x="265.10" y="61.03" width="7.90" height="2.68" fill="#f5ca20"/>
<rect x="265.10" y="63.31" width="7.90" height="2.68" fill="#d51b23"/>
<rect x="265.10" y="65.59" width="7.90" height="2.68" fill="#e31d24"/>
<rect x="265.10" y="67.88" width="7.90" height="2.68" fill="#e31e23"/>
<rect x="265.10" y="70.16" width="7.90" height="2.68" fill="#d01b22"/>
<rect x="265.10" y="72.44" width="7.90" height="2.68" fill="#e31e23"/>
<rect x="265.10" y="74.72" width="7.90" height="2.68" fill="#e21c24"/>
<rect x="265.10" y="77.00" width="7.90" height="2.68" fill="#de1c24"/>
<rect x="265.10" y="79.28" width="7.90" height="2.68" fill="#d31b23"/>
<rect x="265.10" y="81.56" width="7.90" height="2.68" fill="#d61b23"/>
<rect x="265.10" y="83.84" width="7.90" height="2.68" fill="#dd1c24"/>
<rect x="265.10" y="86.12" width="7.90" height="2.68" fill="#e31e23"/>
<rect x="265.10" y="88.41" width="7.90" height="2.68" fill="#e41e23"/>
<rect x="265.10" y="90.69" width="7.90" height="2.68" fill="#e73321"/>
<rect x="265.10" y="92.97" width="7.90" height="2.68" fill="#efde20"/>
<rect x="265.10" y="95.25" width="7.90" height="2.68" fill="#63c6cf"/>
<rect x="265.10" y="97.53" width="7.90" height="2.68" fill="#3762b7"/>
<rect x="265.10" y="99.81" width="7.90" height="4.96" fill="#2d3a99"/>
<rect x="265.10" y="104.38" width="7.90" height="4.96" fill="#2c3999"/>
<rect x="265.10" y="108.94" width="7.90" height="4.96" fill="#2c3897"/>
<rect x="265.10" y="113.50" width="7.90" height="4.96" fill="#2c3898"/>
<rect x="265.10" y="118.06" width="7.90" height="14.09" fill="#2c3897"/>
<rect x="265.10" y="131.75" width="7.90" height="4.96" fill="#2d3a99"/>
<rect x="265.10" y="136.31" width="7.90" height="13.69" fill="#2c3897"/>
<rect x="272.60" y="4.00" width="7.90" height="4.96" fill="#2c3897"/>
<rect x="272.60" y="8.56" width="7.90" height="4.96" fill="#2c3999"/>
<rect x="272.60" y="13.12" width="7.90" height="4.96" fill="#2d3b9a"/>
<rect x="272.60" y="17.69" width="7.90" height="4.96" fill="#2c3897"/>
<rect x="272.60" y="22.25" width="7.90" height="4.96" fill="#2d3a99"/>
<rect x="272.60" y="26.81" width="7.90" height="4.96" fill="#2c3897"/>
<rect x="272.60" y="31.38" width="7.90" height="4.96" fill="#2c3998"/>
<rect x="272.60" y="35.94" width="7.90" height="9.53" fill="#2c3897"/>
<rect x="272.60" y="45.06" width="7.90" height="4.96" fill="#2d3a99"/>
<rect x="272.60" y="49.62" width="7.90" height="7.24" fill="#2c3897"/>
<rect x="272.60" y="56.47" width="7.90" height="2.68" fill="#3b83cc"/>
<rect x="272.60" y="58.75" width="7.90" height="2.68" fill="#76c7b1"/>
<rect x="272.60" y="61.03" width="7.90" height="2.68" fill="#f5ca20"/>
<rect x="272.60" y="63.31" width="7.90" height="2.68" fill="#e21c24"/>
<rect x="272.60" y="65.59" width="7.90" height="2.68" fill="#e31e23"/>
<rect x="272.60" y="67.88" width="7.90" height="2.68" fill="#da1b23"/>
<rect x="272.60" y="70.16" width="7.90" height="2.68" fill="#cf1b22"/>
<rect x="272.60" y="72.44" width="7.90" height="2.68" fill="#e21d24"/>
<rect x="272.60" y="74.72" width="7.90" height="2.68" fill="#dd1c23"/>
<rect x="272.60" y="77.00" width="7.90" height="2.68" fill="#d21b22"/>
<rect x="272.60" y="79.28" width="7.90" height="2.68" fill="#e21c24"/>
<rect x="272.60" y="81.56" width="7.90" height="2.68" fill="#e41e23"/>
<rect x="272.60" y="83.84" width="7.90" height="2.68" fill="#d91b23"/>
<rect x="272.60" y="86.12" width="7.90" height="2.68" fill="#d31b22"/>
<rect x="272.60" y="88.41" width="7.90" height="2.68" fill="#db1c23"/>
<rect x="272.60" y="90.69" width="7.90" height="2.68" fill="#e62422"/>
<rect x="272.60" y="92.97" width="7.90" height="2.68" fill="#efde20"/>
<rect x="272.60" y="95.25" width="7.90" height="2.68" fill="#63c6cf"/>
<rect x="272.60" y="97.53" width="7.90" height="2.68" fill="#3762b7"/>
<rect x="272.60" y="99.81" width="7.90" height="4.96" fill="#2d3a99"/>
<rect x="272.60" y="104.38" width="7.90" height="4.96" fill="#2c3998"/>
<rect x="272.60" y="108.94" width="7.90" height="9.53" fill="#2c3897"/>
<rect x="272.60" y="118.06" width="7.90" height="4.96" fill="#2d3a99"/>
<rect x="272.60" y="122.62" width="7.90" height="4.96" fill="#2c3998"/>
<rect x="272.60" y="127.19" width="7.90" height="4.96" fill="#2c3897"/>
<rect x="272.60" y="131.75" width="7.90" height="9.53" fill="#2c3998"/>
<rect x="272.60" y="140.88" width="7.90" height="4.96" fill="#2c3897"/>
<rect x="272.60" y="145.44" width="7.90" height="4.56" fill="#2d3a99"/>
<rect x="280.10" y="4.00" width="7.90" height="14.09" fill="#2c3897"/>
<rect x="280.10" y="17.69" width="7.90" height="4.96" fill="#2d3b9a"/>
<rect x="280.10" y="22.25" width="7.90" height="14.09" fill="#2c3897"/>
<rect x="280.10" y="35.94" width="7.90" height="4.96" fill="#2d3a99"/>
<rect x="280.10" y="40.50" width="7.90" height="16.37" fill="#2c3897"/>
<rect x="280.10" y="56.47" width="7.90" height="2.68" fill="#3b83cc"/>
<rect x="280.10" y="58.75" width="7.90" height="2.68" fill="#76c7b1"/>
<rect x="280.10" y="61.03" width="7.90" height="2.68" fill="#f5ca20"/>
<rect x="280.10" y="63.31" width="7.90" height="2.68" fill="#e41e23"/>
<rect x="280.10" y="65.59" width="7.90" height="2.68" fill="#e52023"/>
<rect x="280.10" y="67.88" width="7.90" height="2.68" fill="#e41e23"/>
<rect x="280.10" y="70.16" width="7.90" height="2.68" fill="#e31d24"/>
<rect x="280.10" y="72.44" width="7.90" height="2.68" fill="#e52023"/>
<rect x="280.10" y="74.72" width="7.90" height="4.96" fill="#e21c24"/>
<rect x="280.10" y="79.28" width="7.90" height="2.68" fill="#d71b23"/>
<rect x="280.10" y="81.56" width="7.90" height="2.68" fill="#e31d24"/>
<rect x="280.10" y="83.84" width="7.90" height="2.68" fill="#e41e23"/>
<rect x="280.10" y="86.12" width="7.90" height="2.68" fill="#e41f23"/>
<rect x="280.10" y="88.41" width="7.90" height="2.68" fill="#dc1c23"/>
<rect x="280.10" y="90.69" width="7.90" height="2.68" fill="#e52122"/>
<rect x="280.10" y="92.97" width="7.90" height="2.68" fill="#efde20"/>
<rect x="280.10" y="95.25" width="7.90" height="2.68" fill="#63c6cf"/>
<rect x="280.10" y="97.53" width="7.90" height="2.68" fill="#3762b7"/>
<rect x="280.10" y="99.81" width="7.90" height="4.96" fill="#2c3897"/>
<rect x="280.10" y="104.38" width="7.90" height="4.96" fill="#2d3a99"/>
<rect x="280.10" y="108.94" width="7.90" height="4.96" fill="#2c3897"/>
<rect x="280.10" y="113.50" width="7.90" height="4.96" fill="#2d3a99"/>
<rect x="280.10" y="118.06" width="7.90" height="4.96" fill="#2c3998"/>
<rect x="280.10" y="122.62" width="7.90" height="4.96" fill="#2c3897"/>
<rect x="280.10" y="127.19" width="7.90" height="4.96" fill="#2d3b9a"/>
<rect x="280.10" y="131.75" width="7.90" height="4.96" fill="#2c3998"/>
<rect x="280.10" y="136.31" width="7.90" height="4.96" fill="#2d3a99"/>
<rect x="280.10" y="140.88" width="7.90" height="9.12" fill="#2c3897"/>
<rect x="287.60" y="4.00" width="7.90" height="4.96" fill="#2e3d9d"/>
<rect x="287.60" y="8.56" width="7.90" height="9.53" fill="#2e3d9c"/>
<rect x="287.60" y="17.69" width="7.90" height="4.96" fill="#3046a3"/>
<rect x="287.60" y="22.25" width="7.90" height="4.96" fill="#2f41a0"/>
<rect x="287.60" y="26.81" width="7.90" height="4.96" fill="#2d3c9c"/>
<rect x="287.60" y="31.38" width="7.90" height="4.96" fill="#2e3e9e"/>
<rect x="287.60" y="35.94" width="7.90" height="4.96" fill="#2f409f"/>
<rect x="287.60" y="40.50" width="7.90" height="4.96" fill="#2e3d9d"/>
<rect x="287.60" y="45.06" width="7.90" height="4.96" fill="#3350aa"/>
<rect x="287.60" y="49.62" width="7.90" height="4.96" fill="#2f43a1"/>
<rect x="287.60" y="54.19" width="7.90" height="2.68" fill="#2f42a1"/>
<rect x="287.60" y="56.47" width="7.90" height="2.68" fill="#3b83cc"/>
<rect x="287.60" y="58.75" width="7.90" height="2.68" fill="#76c7b1"/>
<rect x="287.60" y="61.03" width="7.90" height="2.68" fill="#f5ca20"/>
<rect x="287.60" y="63.31" width="7.90" height="2.68" fill="#d91b23"/>
<rect x="287.60" y="65.59" width="7.90" height="2.68" fill="#e21c24"/>
<rect x="287.60" y="67.88" width="7.90" height="4.96" fill="#e52023"/>
<rect x="287.60" y="72.44" width="7.90" height="2.68" fill="#ca1a22"/>
<rect x="287.60" y="74.72" width="7.90" height="2.68" fill="#d81b23"/>
<rect x="287.60" y="77.00" width="7.90" height="2.68" fill="#e31e23"/>
<rect x="287.60" y="79.28" width="7.90" height="7.24" fill="#e41f23"/>
<rect x="287.60" y="86.12" width="7.90" height="2.68" fill="#d81b23"/>
<rect x="287.60" y="88.41" width="7.90" height="2.68" fill="#e31e23"/>
<rect x="287.60" y="90.69" width="7.90" height="2.68" fill="#e73321"/>
<rect x="287.60" y="92.97" width="7.90" height="2.68" fill="#efde20"/>
<rect x="287.60" y="95.25" width="7.90" height="2.68" fill="#63c6cf"/>
<rect x="287.60" y="97.53" width="7.90" height="2.68" fill="#3762b7"/>
<rect x="287.60" y="99.81" width="7.90" height="4.96" fill="#3044a2"/>
<rect x="287.60" y="104.38" width="7.90" height="4.96" fill="#2d3c9c"/>
<rect x="287.60" y="108.94" width="7.90" height="4.96" fill="#2e409f"/>
<rect x="287.60" y="113.50" width="7.90" height="4.96" fill="#2f41a0"/>
<rect x="287.60" y="118.06" width="7.90" height="4.96" fill="#2f42a1"/>
<rect x="287.60" y="122.62" width="7.90" height="4.96" fill="#2d3c9c"/>
<rect x="287.60" y="127.19" width="7.90" height="9.53" fill="#2e3e9e"/>
<rect x="287.60" y="136.31" width="7.90" height="4.96" fill="#2e3f9f"/>
<rect x="287.60" y="140.88" width="7.90" height="4.96" fill="#2d3c9c"/>
<rect x="287.60" y="145.44" width="7.90" height="4.56" fill="#324aa7"/>
<rect x="295.10" y="4.00" width="7.90" height="23.21" fill="#2c3897"/>
<rect x="295.10" y="26.81" width="7.90" height="4.96" fill="#2c3998"/>
<rect x="295.10" y="31.38" width="7.90" height="4.96" fill="#2c3897"/>
<rect x="295.10" y="35.94" width="7.90" height="4.96" fill="#2f42a1"/>
<rect x="295.10" y="40.50" width="7.90" height="4.96" fill="#2c3998"/>
<rect x="295.10" y="45.06" width="7.90" height="4.96" fill="#2c3897"/>
<rect x="295.10" y="49.62" width="7.90" height="4.96" fill="#2c3998"/>
<rect x="295.10" y="54.19" width="7.90" height="2.68" fill="#2c3897"/>
<rect x="295.10" y="56.47" width="7.90" height="2.68" fill="#3b83cc"/>
<rect x="295.10" y="58.75" width="7.90" height="2.68" fill="#76c7b1"/>
<rect x="295.10" y="61.03" width="7.90" height="2.68" fill="#f5ca20"/>
<rect x="295.10" y="63.31" width="7.90" height="4.96" fill="#e31d24"/>
<rect x="295.10" y="67.88" width="7.90" height="2.68" fill="#d11b22"/>
<rect x="295.10" y="70.16" width="7.90" height="2.68" fill="#e52023"/>
<rect x="295.10" y="72.44" width="7.90" height="2.68" fill="#d71b23"/>
<rect x="295.10" y="74.72" width="7.90" height="2.68" fill="#da1b23"/>
<rect x="295.10" y="77.00" width="7.90" height="2.68" fill="#e31d24"/>
<rect x="295.10" y="79.28" width="7.90" height="2.68" fill="#ce1b22"/>
<rect x="295.10" y="81.56" width="7.90" height="2.68" fill="#e31d24"/>
<rect x="295.10" y="83.84" width="7.90" height="4.96" fill="#e21d24"/>
<rect x="295.10" y="88.41" width="7.90" height="2.68" fill="#db1c23"/>
<rect x="295.10" y="90.69" width="7.90" height="2.68" fill="#e73221"/>
<rect x="295.10" y="92.97" width="7.90" height="2.68" fill="#efde20"/>
<rect x="295.10" y="95.25" width="7.90" height="2.68" fill="#63c6cf"/>
<rect x="295.10" y="97.53" width="7.90" height="2.68" fill="#3762b7"/>
<rect x="295.10" y="99.81" width="7.90" height="23.21" fill="#2c3897"/>
<rect x="295.10" y="122.62" width="7.90" height="4.96" fill="#2d3b9a"/>
<rect x="295.10" y="127.19" width="7.90" height="4.96" fill="#2d3a99"/>
<rect x="295.10" y="131.75" width="7.90" height="4.96" fill="#2c3897"/>
<rect x="295.10" y="136.31" width="7.90" height="4.96" fill="#2c3998"/>
<rect x="295.10" y="140.88" width="7.90" height="4.96" fill="#2f409f"/>
<rect x="295.10" y="145.44" width="7.90" height="4.56" fill="#2c3999"/>
<rect x="302.60" y="4.00" width="7.90" height="4.96" fill="#3149a5"/>
<rect x="302.60" y="8.56" width="7.90" height="4.96" fill="#3045a3"/>
<rect x="302.60" y="13.12" width="7.90" height="4.96" fill="#2d3b9b"/>
<rect x="302.60" y="17.69" width="7.90" height="4.96" fill="#2e3e9e"/>
<rect x="302.60" y="22.25" width="7.90" height="4.96" fill="#2f409f"/>
<rect x="302.60" y="26.81" width="7.90" height="14.09" fill="#2e3e9e"/>
<rect x="302.60" y="40.50" width="7.90" height="4.96" fill="#2d3b9b"/>
<rect x="302.60" y="45.06" width="7.90" height="4.96" fill="#2e3d9d"/>
<rect x="302.60" y="49.62" width="7.90" height="4.96" fill="#2d3b9a"/>
<rect x="302.60" y="54.19" width="7.90" height="2.68" fill="#2d3a9a"/>
<rect x="302.60" y="56.47" width="7.90" height="2.68" fill="#3b83cc"/>
<rect x="302.60" y="58.75" width="7.90" height="2.68" fill="#76c7b1"/>
<rect x="302.60" y="61.03" width="7.90" height="2.68" fill="#f5ca20"/>
<rect x="302.60" y="63.31" width="7.90" height="2.68" fill="#d51b23"/>
<rect x="302.60" y="65.59" width="7.90" height="2.68" fill="#e11c24"/>
<rect x="302.60" y="67.88" width="7.90" height="2.68" fill="#e31e23"/>
<rect x="302.60" y="70.16" width="7.90" height="4.96" fill="#d31b23"/>
<rect x="302.60" y="74.72" width="7.90" height="2.68" fill="#dd1c24"/>
<rect x="302.60" y="77.00" width="7.90" height="7.24" fill="#e31d24"/>
<rect x="302.60" y="83.84" width="7.90" height="2.68" fill="#e31e23"/>
<rect x="302.60" y="86.12" width="7.90" height="2.68" fill="#e31d24"/>
<rect x="302.60" y="88.41" width="7.90" height="2.68" fill="#e21c24"/>
<rect x="302.60" y="90.69" width="7.90" height="2.68" fill="#e52122"/>
<rect x="302.60" y="92.97" width="7.90" height="2.68" fill="#efde20"/>
<rect x="302.60" y="95.25" width="7.90" height="2.68" fill="#63c6cf"/>
<rect x="302.60" y="97.53" width="7.90" height="2.68" fill="#3762b7"/>
<rect x="302.60" y="99.81" width="7.90" height="9.53" fill="#2d3a9a"/>
<rect x="302.60" y="108.94" width="7.90" height="4.96" fill="#2f40a0"/>
<rect x="302.60" y="113.50" width="7.90" height="4.96" fill="#2f42a1"/>
<rect x="302.60" y="118.06" width="7.90" height="4.96" fill="#2d3a99"/>
<rect x="302.60" y="122.62" width="7.90" height="4.96" fill="#2e3e9d"/>
<rect x="302.60" y="127.19" width="7.90" height="4.96" fill="#2f43a1"/>
<rect x="302.60" y="131.75" width="7.90" height="4.96" fill="#2d3c9c"/>
<rect x="302.60" y="136.31" width="7.90" height="4.96" fill="#2e3e9e"/>
<rect x="302.60" y="140.88" width="7.90" height="4.96" fill="#2f43a1"/>
<rect x="302.60" y="145.44" width="7.90" height="4.56" fill="#2d3a99"/>
<rect x="310.10" y="4.00" width="7.50" height="9.53" fill="#2c3998"/>
<rect x="310.10" y="13.12" width="7.50" height="4.96" fill="#2e3e9e"/>
<rect x="310.10" y="17.69" width="7.50" height="9.53" fill="#2d3c9c"/>
<rect x="310.10" y="26.81" width="7.50" height="4.96" fill="#2c3897"/>
<rect x="310.10" y="31.38" width="7.50" height="9.53" fill="#2d3c9c"/>
<rect x="310.10" y="40.50" width="7.50" height="4.96" fill="#2d3c9b"/>
<rect x="310.10" y="45.06" width="7.50" height="4.96" fill="#2d3b9a"/>
<rect x="310.10" y="49.62" width="7.50" height="4.96" fill="#2d3a99"/>
<rect x="310.10" y="54.19" width="7.50" height="2.68" fill="#3046a4"/>
<rect x="310.10" y="56.47" width="7.50" height="2.68" fill="#3b83cc"/>
<rect x="310.10" y="58.75" width="7.50" height="2.68" fill="#76c7b1"/>
<rect x="310.10" y="61.03" width="7.50" height="2.68" fill="#f5ca20"/>
<rect x="310.10" y="63.31" width="7.50" height="2.68" fill="#e52122"/>
<rect x="310.10" y="65.59" width="7.50" height="2.68" fill="#e11c24"/>
<rect x="310.10" y="67.88" width="7.50" height="2.68" fill="#d61b23"/>
<rect x="310.10" y="70.16" width="7.50" height="2.68" fill="#e42023"/>
<rect x="310.10" y="72.44" width="7.50" height="2.68" fill="#e31e23"/>
<rect x="310.10" y="74.72" width="7.50" height="2.68" fill="#d41b23"/>
<rect x="310.10" y="77.00" width="7.50" height="2.68" fill="#e31e23"/>
<rect x="310.10" y="79.28" width="7.50" height="2.68" fill="#ce1b22"/>
<rect x="310.10" y="81.56" width="7.50" height="2.68" fill="#e21c24"/>
<rect x="310.10" y="83.84" width="7.50" height="2.68" fill="#e52023"/>
<rect x="310.10" y="86.12" width="7.50" height="2.68" fill="#e31e23"/>
<rect x="310.10" y="88.41" width="7.50" height="2.68" fill="#e21c24"/>
<rect x="310.10" y="90.69" width="7.50" height="2.68" fill="#e62b22"/>
<rect x="310.10" y="92.97" width="7.50" height="2.68" fill="#efde20"/>
<rect x="310.10" y="95.25" width="7.50" height="2.68" fill="#63c6cf"/>
<rect x="310.10" y="97.53" width="7.50" height="2.68" fill="#3762b7"/>
<rect x="310.10" y="99.81" width="7.50" height="4.96" fill="#2d3c9c"/>
<rect x="310.10" y="104.38" width="7.50" height="4.96" fill="#2e3d9d"/>
<rect x="310.10" y="108.94" width="7.50" height="4.96" fill="#2d3c9c"/>
<rect x="310.10" y="113.50" width="7.50" height="4.96" fill="#2d3b9a"/>
<rect x="310.10" y="118.06" width="7.50" height="4.96" fill="#2e3d9d"/>
<rect x="310.10" y="122.62" width="7.50" height="4.96" fill="#2e3d9c"/>
<rect x="310.10" y="127.19" width="7.50" height="4.96" fill="#2f409f"/>
<rect x="310.10" y="131.75" width="7.50" height="4.96" fill="#2e3e9e"/>
<rect x="310.10" y="136.31" width="7.50" height="4.96" fill="#2e3d9d"/>
<rect x="310.10" y="140.88" width="7.50" height="4.96" fill="#2d3c9b"/>
<rect x="310.10" y="145.44" width="7.50" height="4.56" fill="#2e3d9d"/>
</g></g>
<text transform="translate(0.30,10.60)" font-size="11.5" text-anchor="start" fill="#1a1a1a" font-weight="bold">a</text>
<text transform="translate(42.60,36.60) scale(0.9,1)" font-size="11" text-anchor="end" fill="#444" >−1</text>
<text transform="translate(42.60,81.40) scale(0.9,1)" font-size="11" text-anchor="end" fill="#444" >0</text>
<text transform="translate(42.60,124.80) scale(0.9,1)" font-size="11" text-anchor="end" fill="#444" >1</text>
<text transform="translate(26.60,76.90) rotate(-90)" font-size="11" text-anchor="middle" fill="#444" textLength="67.5" lengthAdjust="spacingAndGlyphs" >Position, <tspan font-style="italic">x</tspan> (µm)</text>
<text transform="translate(42.80,162.10) scale(0.9,1)" font-size="11" text-anchor="middle" fill="#444" >−7.2</text>
<text transform="translate(73.02,162.10) scale(0.9,1)" font-size="11" text-anchor="middle" fill="#444" >−5.7</text>
<text transform="translate(103.24,162.10) scale(0.9,1)" font-size="11" text-anchor="middle" fill="#444" >−4.15</text>
<text transform="translate(133.46,162.10) scale(0.9,1)" font-size="11" text-anchor="middle" fill="#444" >−2.6</text>
<text transform="translate(163.68,162.10) scale(0.9,1)" font-size="11" text-anchor="middle" fill="#444" >−1.1</text>
<text transform="translate(196.90,162.10) scale(0.9,1)" font-size="11" text-anchor="middle" fill="#444" >0.4</text>
<text transform="translate(227.12,162.10) scale(0.9,1)" font-size="11" text-anchor="middle" fill="#444" >1.9</text>
<text transform="translate(257.34,162.10) scale(0.9,1)" font-size="11" text-anchor="middle" fill="#444" >3.4</text>
<text transform="translate(287.56,162.10) scale(0.9,1)" font-size="11" text-anchor="middle" fill="#444" >4.9</text>
<text transform="translate(317.78,162.10) scale(0.9,1)" font-size="11" text-anchor="middle" fill="#444" >6.4</text>
<text transform="translate(180.40,176.30)" font-size="11" text-anchor="middle" fill="#444" textLength="87.6" lengthAdjust="spacingAndGlyphs" >Density (×10<tspan font-size="7.5" dy="-4.3">11</tspan><tspan dy="4.3"> cm</tspan><tspan font-size="7.5" dy="-4.3">−2</tspan><tspan dy="4.3">)</tspan></text>
<rect x="46" y="184" width="271.8" height="12.4" fill="url(#cbh)"/>
<text transform="translate(46.00,208.70) scale(0.9,1)" font-size="11" text-anchor="middle" fill="#444" >0.0</text>
<text transform="translate(95.45,208.70) scale(0.9,1)" font-size="11" text-anchor="middle" fill="#444" >0.2</text>
<line x1="95.5" y1="194" x2="95.5" y2="196.4" stroke="#222" stroke-width="0.6"/>
<text transform="translate(144.90,208.70) scale(0.9,1)" font-size="11" text-anchor="middle" fill="#444" >0.4</text>
<line x1="144.9" y1="194" x2="144.9" y2="196.4" stroke="#222" stroke-width="0.6"/>
<text transform="translate(194.35,208.70) scale(0.9,1)" font-size="11" text-anchor="middle" fill="#444" >0.6</text>
<line x1="194.4" y1="194" x2="194.4" y2="196.4" stroke="#222" stroke-width="0.6"/>
<text transform="translate(243.80,208.70) scale(0.9,1)" font-size="11" text-anchor="middle" fill="#444" >0.8</text>
<line x1="243.8" y1="194" x2="243.8" y2="196.4" stroke="#222" stroke-width="0.6"/>
<text transform="translate(293.25,208.70) scale(0.9,1)" font-size="11" text-anchor="middle" fill="#444" >1.0</text>
<line x1="293.2" y1="194" x2="293.2" y2="196.4" stroke="#222" stroke-width="0.6"/>
<text transform="translate(168.90,221.80)" font-size="11" text-anchor="start" fill="#444" textLength="26.1" lengthAdjust="spacingAndGlyphs" ><tspan font-style="italic">J</tspan>/<tspan font-style="italic">J</tspan><tspan font-size="8" dy="3">max</tspan></text>
<text transform="translate(373.50,11.00)" font-size="11.5" text-anchor="start" fill="#1a1a1a" font-weight="bold">b</text>
<rect x="423.3" y="4.4" width="169.5" height="158.9" fill="none" stroke="#a8a8a8" stroke-width="0.9"/>
<line x1="423.3" y1="45.6" x2="426.3" y2="45.6" stroke="#a8a8a8" stroke-width="0.9"/>
<text transform="translate(419.80,49.50) scale(0.93,1)" font-size="11" text-anchor="end" fill="#444" >306</text>
<line x1="423.3" y1="75.1" x2="426.3" y2="75.1" stroke="#a8a8a8" stroke-width="0.9"/>
<text transform="translate(419.80,79.00) scale(0.93,1)" font-size="11" text-anchor="end" fill="#444" >229</text>
<line x1="423.3" y1="104.3" x2="426.3" y2="104.3" stroke="#a8a8a8" stroke-width="0.9"/>
<text transform="translate(419.80,108.20) scale(0.93,1)" font-size="11" text-anchor="end" fill="#444" >153</text>
<line x1="423.3" y1="134.1" x2="426.3" y2="134.1" stroke="#a8a8a8" stroke-width="0.9"/>
<text transform="translate(419.80,138.00) scale(0.93,1)" font-size="11" text-anchor="end" fill="#444" >76</text>
<line x1="423.3" y1="163.3" x2="426.3" y2="163.3" stroke="#a8a8a8" stroke-width="0.9"/>
<text transform="translate(419.80,167.20) scale(0.93,1)" font-size="11" text-anchor="end" fill="#444" >0</text>
<line x1="423.3" y1="16.0" x2="425.3" y2="16.0" stroke="#a8a8a8" stroke-width="0.8"/>
<line x1="423.3" y1="30.4" x2="425.3" y2="30.4" stroke="#a8a8a8" stroke-width="0.8"/>
<line x1="423.3" y1="60.4" x2="425.3" y2="60.4" stroke="#a8a8a8" stroke-width="0.8"/>
<line x1="423.3" y1="89.7" x2="425.3" y2="89.7" stroke="#a8a8a8" stroke-width="0.8"/>
<line x1="423.3" y1="119.2" x2="425.3" y2="119.2" stroke="#a8a8a8" stroke-width="0.8"/>
<line x1="423.3" y1="148.7" x2="425.3" y2="148.7" stroke="#a8a8a8" stroke-width="0.8"/>
<line x1="589.8" y1="14.6" x2="592.8" y2="14.6" stroke="#a8a8a8" stroke-width="0.9"/>
<text transform="translate(596.70,18.50) scale(0.93,1)" font-size="11" text-anchor="start" fill="#444" >20</text>
<line x1="589.8" y1="43.1" x2="592.8" y2="43.1" stroke="#a8a8a8" stroke-width="0.9"/>
<text transform="translate(596.70,47.00) scale(0.93,1)" font-size="11" text-anchor="start" fill="#444" >15</text>
<line x1="589.8" y1="71.5" x2="592.8" y2="71.5" stroke="#a8a8a8" stroke-width="0.9"/>
<text transform="translate(596.70,75.40) scale(0.93,1)" font-size="11" text-anchor="start" fill="#444" >10</text>
<line x1="589.8" y1="100.2" x2="592.8" y2="100.2" stroke="#a8a8a8" stroke-width="0.9"/>
<text transform="translate(596.70,104.10) scale(0.93,1)" font-size="11" text-anchor="start" fill="#444" >5</text>
<line x1="589.8" y1="128.7" x2="592.8" y2="128.7" stroke="#a8a8a8" stroke-width="0.9"/>
<text transform="translate(596.70,132.60) scale(0.93,1)" font-size="11" text-anchor="start" fill="#444" >0</text>
<line x1="590.8" y1="28.9" x2="592.8" y2="28.9" stroke="#a8a8a8" stroke-width="0.8"/>
<line x1="590.8" y1="57.3" x2="592.8" y2="57.3" stroke="#a8a8a8" stroke-width="0.8"/>
<line x1="590.8" y1="85.9" x2="592.8" y2="85.9" stroke="#a8a8a8" stroke-width="0.8"/>
<line x1="590.8" y1="114.5" x2="592.8" y2="114.5" stroke="#a8a8a8" stroke-width="0.8"/>
<line x1="590.8" y1="143.0" x2="592.8" y2="143.0" stroke="#a8a8a8" stroke-width="0.8"/>
<line x1="590.8" y1="157.3" x2="592.8" y2="157.3" stroke="#a8a8a8" stroke-width="0.8"/>
<line x1="442.6" y1="163.3" x2="442.6" y2="160.3" stroke="#a8a8a8" stroke-width="0.9"/>
<text transform="translate(439.30,176.00) scale(0.93,1)" font-size="11" text-anchor="middle" fill="#444" >−5.7</text>
<line x1="479.9" y1="163.3" x2="479.9" y2="160.3" stroke="#a8a8a8" stroke-width="0.9"/>
<text transform="translate(476.60,176.00) scale(0.93,1)" font-size="11" text-anchor="middle" fill="#444" >−2.6</text>
<line x1="517.1" y1="163.3" x2="517.1" y2="160.3" stroke="#a8a8a8" stroke-width="0.9"/>
<text transform="translate(517.10,176.00) scale(0.93,1)" font-size="11" text-anchor="middle" fill="#444" >0.4</text>
<line x1="554.4" y1="163.3" x2="554.4" y2="160.3" stroke="#a8a8a8" stroke-width="0.9"/>
<text transform="translate(554.40,176.00) scale(0.93,1)" font-size="11" text-anchor="middle" fill="#444" >3.4</text>
<line x1="591.7" y1="163.3" x2="591.7" y2="160.3" stroke="#a8a8a8" stroke-width="0.9"/>
<text transform="translate(591.70,176.00) scale(0.93,1)" font-size="11" text-anchor="middle" fill="#444" >6.4</text>
<line x1="424.0" y1="163.3" x2="424.0" y2="161.3" stroke="#a8a8a8" stroke-width="0.8"/>
<line x1="461.2" y1="163.3" x2="461.2" y2="161.3" stroke="#a8a8a8" stroke-width="0.8"/>
<line x1="498.5" y1="163.3" x2="498.5" y2="161.3" stroke="#a8a8a8" stroke-width="0.8"/>
<line x1="535.8" y1="163.3" x2="535.8" y2="161.3" stroke="#a8a8a8" stroke-width="0.8"/>
<line x1="573.0" y1="163.3" x2="573.0" y2="161.3" stroke="#a8a8a8" stroke-width="0.8"/>
<text transform="translate(507.10,189.60)" font-size="11" text-anchor="middle" fill="#444" textLength="89" lengthAdjust="spacingAndGlyphs" >Density (×10<tspan font-size="7.5" dy="-4.3">11</tspan><tspan dy="4.3"> cm</tspan><tspan font-size="7.5" dy="-4.3">−2</tspan><tspan dy="4.3">)</tspan></text>
<text transform="translate(395.30,83.00) rotate(-90)" font-size="11" text-anchor="middle" fill="#444" textLength="139" lengthAdjust="spacingAndGlyphs" >Supercurrent density (nA µm<tspan font-size="7.5" dy="-4.3">−1</tspan><tspan dy="4.3">)</tspan></text>
<text transform="translate(615.30,80.50) rotate(90)" font-size="11" text-anchor="middle" fill="#444" textLength="137.3" lengthAdjust="spacingAndGlyphs" >Normal state conductance (<tspan font-style="italic">e</tspan><tspan font-size="7.5" dy="-4.3">2</tspan><tspan dy="4.3">/</tspan><tspan font-style="italic">h</tspan>)</text>
<polyline fill="none" stroke="#111" stroke-width="1.1" stroke-linejoin="round" points="423.9,43.6 424.6,43.9 425.5,42.5 425.9,44.7 426.7,43.1 427.7,43.9 428.3,44.0 429.0,43.1 429.7,45.2 430.3,45.0 431.1,43.1 431.8,44.7 432.3,43.3 433.3,44.6 433.9,45.9 434.6,46.2 435.2,46.0 435.9,46.5 436.8,44.2 437.1,44.7 438.2,45.5 438.8,45.2 439.4,45.3 440.0,45.7 440.8,46.4 441.6,46.2 442.4,46.2 443.0,43.6 443.8,45.7 444.5,44.4 445.1,43.2 445.9,44.1 446.3,42.5 447.3,45.1 447.6,44.4 448.5,42.4 449.1,44.1 450.1,41.9 450.7,41.8 451.4,42.5 452.2,44.3 452.7,44.3 453.3,41.5 454.2,41.3 454.6,42.3 455.6,41.4 455.9,43.4 456.8,43.6 457.8,41.8 458.3,42.1 459.1,42.2 459.7,42.2 460.7,41.9 461.1,42.7 461.6,41.6 462.8,42.4 463.2,41.0 463.8,42.9 464.3,43.1 465.4,41.6 466.1,43.0 466.8,42.8 467.5,44.1 467.8,42.3 468.9,45.4 469.3,44.3 470.3,44.3 470.8,44.8 471.5,46.0 472.2,45.8 473.2,45.2 473.7,47.7 474.3,46.4 475.3,46.6 475.6,47.4 476.6,46.6 477.1,47.5 478.1,48.0 478.9,47.4 479.2,49.1 480.3,48.9 480.5,48.3 481.4,48.9 482.3,51.2 482.6,49.9 483.7,51.4 484.4,50.9 484.6,51.4 485.8,52.1 486.2,53.3 486.9,54.0 488.0,53.9 488.0,57.5 489.4,58.8 489.7,59.9 490.8,58.2 491.4,61.9 492.0,61.7 492.4,62.2 493.1,62.4 494.1,64.8 494.9,65.1 495.8,69.7 496.5,72.2 497.3,72.1 496.9,74.6 497.7,73.7 499.2,76.5 499.5,80.5 500.5,78.6 500.5,83.7 501.7,85.3 502.1,83.8 503.2,89.8 503.0,92.0 505.6,94.6 506.0,91.4 506.2,100.0 505.4,98.6 506.7,103.3 507.8,105.8 509.5,105.7 508.1,110.3 509.0,113.1 512.3,122.6 510.2,122.0 511.6,122.1 512.4,125.5 513.9,122.5 513.4,119.8 513.9,118.4 516.3,113.2 515.3,107.8 516.8,106.8 518.5,101.3 519.2,98.8 519.0,93.6 519.9,91.8 520.4,88.1 521.2,82.1 522.1,81.0 522.0,76.1 523.3,74.7 524.7,68.9 525.3,67.3 525.2,62.3 525.8,60.3 527.1,57.4 527.9,53.7 528.5,50.5 528.6,48.3 529.3,44.7 530.6,42.6 530.8,41.0 532.1,39.8 532.2,41.2 533.0,40.1 534.0,38.9 534.8,36.9 535.4,33.8 536.1,34.7 536.8,32.4 537.5,34.6 537.9,31.6 538.8,32.6 539.4,29.4 540.1,30.3 541.0,29.0 541.5,28.6 542.2,28.2 542.8,28.0 543.9,27.2 544.5,25.8 545.2,27.5 545.9,26.2 546.5,26.2 547.4,24.0 547.7,25.7 548.8,24.5 549.3,24.8 549.9,22.7 550.6,23.4 551.3,21.7 552.2,23.9 552.7,22.7 553.5,23.0 554.2,20.6 554.8,19.4 555.6,20.4 556.2,20.1 556.9,21.3 557.6,21.9 558.4,20.1 559.1,20.7 559.9,19.4 560.5,19.7 561.3,18.2 562.0,20.1 562.6,17.0 563.2,18.6 564.1,19.2 564.8,16.2 565.3,16.0 566.0,17.4 566.9,17.9 567.4,17.6 568.1,15.7 569.0,14.2 569.4,16.9 570.2,14.9 571.0,15.9 571.5,14.4 572.4,14.8 573.0,15.0 574.0,14.1 574.5,12.8 575.1,14.7 575.7,15.4 576.8,12.1 577.5,13.0 578.1,14.3 578.6,13.8 579.5,14.1 580.0,13.7 581.0,13.1 581.5,10.7 582.2,11.5 583.0,12.5 583.6,10.4 584.4,12.0 584.9,12.8 585.8,9.6 586.6,9.5 587.0,11.6 587.8,10.8 588.6,10.2 589.1,8.9 589.7,10.9 590.7,10.1 591.4,9.1 591.9,9.1"/>
<polyline fill="none" stroke="#111" stroke-width="1.1" stroke-linejoin="round" points="424.1,42.2 424.7,42.9 425.5,43.3 426.0,43.5 426.8,44.6 427.4,44.9 428.0,43.4 428.7,43.0 429.7,44.8 430.2,43.4 431.0,45.1 431.8,45.2 432.4,43.6 433.1,43.8 433.8,45.0 434.4,44.3 435.3,43.8 436.0,46.4 436.8,45.0 437.3,45.7 438.1,47.0 438.8,45.2 439.6,45.6 440.1,46.1 440.6,46.0 441.6,45.0 442.2,44.7 442.7,44.7 443.4,44.4 444.4,44.0 445.0,45.3 445.9,42.8 446.6,44.1 446.9,43.3 447.7,42.3 448.5,44.7 449.1,44.4 450.0,42.2 450.8,43.4 451.5,43.6 452.1,42.5 452.9,44.1 453.6,42.5 454.2,42.6 454.6,41.2 455.3,41.6 456.0,42.3 457.0,42.3 457.6,42.6 458.2,41.9 459.2,41.7 459.5,43.0 460.5,41.5 461.0,42.1 461.9,41.4 462.2,41.5 463.4,41.4 463.9,41.7 464.4,41.8 465.2,42.0 465.7,41.9 466.5,43.2 467.1,42.0 468.1,43.3 468.9,42.7 469.4,44.1 469.9,46.2 470.7,44.1 471.6,44.8 472.4,45.7 472.7,45.3 473.9,46.4 474.6,47.1 475.4,46.8 475.6,46.9 476.7,48.2 477.1,46.8 478.0,49.6 478.7,46.9 479.0,47.4 479.8,47.7 480.4,49.9 481.7,48.9 482.4,50.2 483.0,51.9 483.8,49.6 484.1,51.7 485.2,50.8 485.4,53.9 486.0,53.2 486.9,55.0 488.0,54.0 488.6,56.7 489.4,57.2 490.1,57.6 490.4,58.3 491.4,60.4 491.7,60.3 492.8,63.4 493.5,63.9 494.0,64.2 494.9,65.0 495.4,70.0 496.3,68.1 496.5,73.4 497.7,75.3 498.7,74.6 499.5,77.7 499.3,77.2 499.5,79.0 501.9,79.1 501.8,81.2 501.4,86.6 502.5,84.9 502.9,91.0 504.7,89.1 504.5,98.2 505.2,97.9 506.4,102.4 507.6,105.3 508.1,103.6 507.8,106.3 510.4,110.2 508.7,120.7 509.9,122.9 510.2,121.7 511.3,126.7 513.3,125.4 514.4,126.7 513.9,122.0 514.8,115.0 516.6,114.8 517.2,108.0 517.2,105.9 518.4,99.3 518.1,97.9 518.2,94.6 520.4,90.2 520.9,87.6 520.8,82.7 522.9,79.2 522.6,74.5 523.0,71.5 524.7,70.5 525.3,68.1 525.6,64.4 526.2,58.7 527.4,57.5 528.1,52.9 528.6,49.8 529.5,49.7 529.5,47.9 530.1,42.8 531.3,41.7 531.8,41.6 532.2,40.8 533.1,38.6 533.8,38.6 534.7,35.8 535.1,34.8 536.0,33.2 536.6,34.8 537.5,34.8 538.3,33.6 538.7,30.2 539.4,30.5 540.2,30.0 540.8,30.7 541.5,28.8 542.5,29.6 542.9,27.1 543.8,25.7 544.3,27.2 545.1,25.4 545.6,25.0 546.6,25.6 547.4,26.3 548.1,23.1 548.5,22.6 549.3,23.4 549.8,23.7 550.5,22.4 551.3,23.8 552.1,21.4 552.6,21.7 553.6,22.4 554.4,22.6 554.8,19.8 555.7,21.9 556.3,21.8 557.0,19.5 557.6,18.2 558.5,21.2 559.3,19.3 559.9,20.8 560.6,19.3 561.2,18.7 561.8,17.1 562.7,19.9 563.3,17.4 563.9,17.3 564.8,17.0 565.6,15.6 566.0,16.7 566.8,17.7 567.6,17.8 568.2,14.2 568.9,16.0 569.6,14.8 570.4,17.0 570.8,15.9 571.6,15.1 572.6,16.6 573.2,13.5 574.0,13.2 574.5,15.6 575.1,13.2 576.1,15.6 576.5,13.3 577.2,12.1 577.9,15.2 578.5,12.0 579.3,11.2 580.1,13.6 580.9,13.0 581.6,10.3 582.1,13.9 582.7,10.9 583.6,10.7 584.3,9.7 584.9,13.1 585.6,12.7 586.3,12.9 587.2,11.3 587.7,8.8 588.6,9.1 589.1,11.5 590.0,8.3 590.8,10.0 591.3,8.1 592.0,11.6"/>
<circle cx="536.1" cy="98.1" r="1.15" fill="#343f88"/>
<circle cx="540.7" cy="90" r="1.15" fill="#343f88"/>
<circle cx="545.5" cy="96" r="1.15" fill="#343f88"/>
<circle cx="550" cy="90" r="1.15" fill="#343f88"/>
<circle cx="554.8" cy="90.6" r="1.15" fill="#343f88"/>
<circle cx="559.5" cy="70.3" r="1.15" fill="#343f88"/>
<circle cx="564" cy="57.7" r="1.15" fill="#343f88"/>
<circle cx="568.9" cy="61.2" r="1.15" fill="#343f88"/>
<circle cx="573.4" cy="65.7" r="1.15" fill="#343f88"/>
<circle cx="578.3" cy="53.6" r="1.15" fill="#343f88"/>
<circle cx="582.8" cy="59" r="1.15" fill="#343f88"/>
<circle cx="587.7" cy="50.4" r="1.15" fill="#343f88"/>
<circle cx="592.2" cy="42.9" r="1.15" fill="#343f88"/>
<circle cx="536.1" cy="133.2" r="1.15" fill="#d8323f"/>
<circle cx="540.7" cy="135.9" r="1.15" fill="#d8323f"/>
<circle cx="545.5" cy="125.9" r="1.15" fill="#d8323f"/>
<circle cx="550" cy="124" r="1.15" fill="#d8323f"/>
<circle cx="554.8" cy="119.8" r="1.15" fill="#d8323f"/>
<circle cx="559.4" cy="105.9" r="1.15" fill="#d8323f"/>
<circle cx="564.1" cy="103.9" r="1.15" fill="#d8323f"/>
<circle cx="568.8" cy="104.8" r="1.15" fill="#d8323f"/>
<circle cx="573.4" cy="100.2" r="1.15" fill="#d8323f"/>
<circle cx="578.2" cy="102.7" r="1.15" fill="#d8323f"/>
<circle cx="582.9" cy="99.9" r="1.15" fill="#d8323f"/>
<circle cx="587.6" cy="96.4" r="1.15" fill="#d8323f"/>
<circle cx="592.3" cy="94.3" r="1.15" fill="#d8323f"/>
<circle cx="423.6" cy="139" r="1.15" fill="#343f88"/>
<circle cx="428.3" cy="139" r="1.15" fill="#343f88"/>
<circle cx="433.1" cy="141.9" r="1.15" fill="#343f88"/>
<circle cx="437.8" cy="141.2" r="1.15" fill="#343f88"/>
<circle cx="442.6" cy="137.2" r="1.15" fill="#343f88"/>
<circle cx="447.3" cy="136.1" r="1.15" fill="#343f88"/>
<circle cx="451.8" cy="137.8" r="1.15" fill="#343f88"/>
<circle cx="456.5" cy="138.5" r="1.15" fill="#343f88"/>
<circle cx="461.3" cy="139.7" r="1.15" fill="#343f88"/>
<circle cx="466" cy="142.9" r="1.15" fill="#343f88"/>
<circle cx="470.7" cy="147.2" r="1.15" fill="#343f88"/>
<circle cx="475.2" cy="149.5" r="1.15" fill="#343f88"/>
<circle cx="479.9" cy="151.7" r="1.15" fill="#343f88"/>
<circle cx="484.5" cy="154.6" r="1.15" fill="#343f88"/>
<circle cx="489.3" cy="156.9" r="1.15" fill="#343f88"/>
<circle cx="493.7" cy="159.4" r="1.15" fill="#343f88"/>
<circle cx="495.9" cy="160.6" r="1.15" fill="#343f88"/>
<circle cx="498.1" cy="161.6" r="1.15" fill="#343f88"/>
<circle cx="500.3" cy="162.6" r="1.15" fill="#343f88"/>
<circle cx="502.5" cy="163" r="1.15" fill="#343f88"/>
<circle cx="423.6" cy="151.4" r="1.15" fill="#d8323f"/>
<circle cx="428.3" cy="150.7" r="1.15" fill="#d8323f"/>
<circle cx="433.1" cy="153.9" r="1.15" fill="#d8323f"/>
<circle cx="437.8" cy="151.7" r="1.15" fill="#d8323f"/>
<circle cx="442.6" cy="152.7" r="1.15" fill="#d8323f"/>
<circle cx="447.3" cy="150.7" r="1.15" fill="#d8323f"/>
<circle cx="451.8" cy="151.1" r="1.15" fill="#d8323f"/>
<circle cx="456.5" cy="150.9" r="1.15" fill="#d8323f"/>
<circle cx="461.3" cy="149.9" r="1.15" fill="#d8323f"/>
<circle cx="466" cy="150.2" r="1.15" fill="#d8323f"/>
<circle cx="470.7" cy="153.3" r="1.15" fill="#d8323f"/>
<circle cx="475.2" cy="153.6" r="1.15" fill="#d8323f"/>
<circle cx="479.9" cy="154.6" r="1.15" fill="#d8323f"/>
<circle cx="484.7" cy="154.8" r="1.15" fill="#d8323f"/>
<circle cx="489.3" cy="151.8" r="1.15" fill="#d8323f"/>
<circle cx="493.7" cy="154.6" r="1.15" fill="#d8323f"/>
<circle cx="495.9" cy="155.8" r="1.15" fill="#d8323f"/>
<circle cx="498.1" cy="157.7" r="1.15" fill="#d8323f"/>
<circle cx="500.3" cy="159.1" r="1.15" fill="#d8323f"/>
<circle cx="502.5" cy="160.9" r="1.15" fill="#d8323f"/>
<circle cx="432" cy="14.8" r="1.15" fill="#d8323f"/>
<circle cx="432" cy="28.2" r="1.15" fill="#343f88"/>
<text transform="translate(439.60,17.80)" font-size="11" text-anchor="start" fill="#444" textLength="55.5" lengthAdjust="spacingAndGlyphs" ><tspan font-style="italic">x</tspan> = −390 nm</text>
<text transform="translate(439.60,31.30)" font-size="11" text-anchor="start" fill="#444" textLength="72.6" lengthAdjust="spacingAndGlyphs" ><tspan font-style="italic">x</tspan> = −52 to 52 nm</text>
<text transform="translate(444.80,132.80)" font-size="11" text-anchor="start" fill="#4a58a8" textLength="17.5" lengthAdjust="spacingAndGlyphs" >Bulk</text>
<text transform="translate(444.80,161.40)" font-size="11" text-anchor="start" fill="#e04452" textLength="19.7" lengthAdjust="spacingAndGlyphs" >Edge</text>
<line x1="554" y1="29.5" x2="573.00" y2="29.50" stroke="#222" stroke-width="0.9"/>
<polygon points="576.5,29.5 572.00,31.70 573.20,29.50 572.00,27.30" fill="#222"/>
<line x1="555.5" y1="77" x2="540.20" y2="77.00" stroke="#5a70c4" stroke-width="0.9"/>
<polygon points="536.7,77 541.20,74.80 540.00,77.00 541.20,79.20" fill="#5a70c4"/>
<line x1="555.9" y1="113.1" x2="540.30" y2="113.10" stroke="#d8323f" stroke-width="0.9"/>
<polygon points="536.8,113.1 541.30,110.90 540.10,113.10 541.30,115.30" fill="#d8323f"/>
<g shape-rendering="geometricPrecision">
<polygon points="43.5,344.3 112.2,384.6 112.2,387.4 43.5,350.6" fill="#55585f" stroke="#55585f" stroke-width="0.8" stroke-linejoin="round" />
<polygon points="43.5,350.6 112.2,387.4 112.2,390.6 43.5,354.2" fill="#b25a3e" stroke="#b25a3e" stroke-width="0.8" stroke-linejoin="round" />
<polygon points="43.5,354.2 112.2,390.6 112.2,405.8 43.5,369.2" fill="#5d8cb4" stroke="#5d8cb4" stroke-width="0.8" stroke-linejoin="round" />
<polygon points="43.5,369.2 112.2,405.8 112.2,422.2 43.5,385.6" fill="#8c8e92" stroke="#8c8e92" stroke-width="0.8" stroke-linejoin="round" />
<polygon points="43.5,354.4 64.8,366.2 43.5,369.2" fill="#8fbde0" stroke="#8fbde0" stroke-width="0.8" stroke-linejoin="round" />
<polygon points="112.2,384.6 209.3,368.6 209.3,373.6 112.2,387.4" fill="#4e5158" stroke="#4e5158" stroke-width="0.8" stroke-linejoin="round" />
<polygon points="112.2,387.4 209.3,373.6 209.3,376.8 112.2,390.6" fill="#c9653f" stroke="#c9653f" stroke-width="0.8" stroke-linejoin="round" />
<polygon points="112.2,390.6 209.3,376.8 209.3,392.4 112.2,405.8" fill="#6a9ac4" stroke="#6a9ac4" stroke-width="0.8" stroke-linejoin="round" />
<polygon points="112.2,405.8 209.3,392.4 209.3,408.6 112.2,422.2" fill="#7f8185" stroke="#7f8185" stroke-width="0.8" stroke-linejoin="round" />
<polygon points="186.5,380.4 209.3,376.8 209.3,392.4" fill="#8cc2e6" stroke="#8cc2e6" stroke-width="0.8" stroke-linejoin="round" />
<polygon points="43.5,344.3 112.2,384.6 209.3,368.6 140.6,328.3" fill="#5b5e66" stroke="#5b5e66" stroke-width="0.8" stroke-linejoin="round" />
<polygon points="48.6,338.6 117.9,375.2 117.9,384.0 48.6,346.6" fill="#b89c14" stroke="#b89c14" stroke-width="0.8" stroke-linejoin="round" />
<polygon points="48.6,338.6 73.8,334.8 142.7,372.1 117.9,375.2" fill="#d8b81a" stroke="#d8b81a" stroke-width="0.8" stroke-linejoin="round" />
<polygon points="117.9,375.2 142.7,372.1 142.7,380.9 117.9,384.0" fill="#f0d222" stroke="#f0d222" stroke-width="0.8" stroke-linejoin="round" />
<polygon points="150.0,352.5 176.1,367.0 176.1,375.6 150.0,361.0" fill="#b89c14" stroke="#b89c14" stroke-width="0.8" stroke-linejoin="round" />
<polygon points="150.0,352.5 176.0,349.5 201.2,364.9 176.1,367.0" fill="#d8b81a" stroke="#d8b81a" stroke-width="0.8" stroke-linejoin="round" />
<polygon points="176.1,367.0 201.2,364.9 201.2,372.7 176.1,375.6" fill="#f0d222" stroke="#f0d222" stroke-width="0.8" stroke-linejoin="round" />
<polygon points="68.2,308.4 136.6,347.2 136.6,358.5 68.2,319.6" fill="#c4462f" stroke="#c4462f" stroke-width="0.8" stroke-linejoin="round" />
<polygon points="105.8,329.7 136.6,347.2 136.6,358.5 105.8,340.9" fill="#b23a22" stroke="#b23a22" stroke-width="0.8" stroke-linejoin="round" />
<polygon points="136.6,347.2 187.7,339.0 187.7,349.3 136.6,358.5" fill="#e2592f" stroke="#e2592f" stroke-width="0.8" stroke-linejoin="round" />
<polygon points="68.2,308.4 117.2,301.2 187.7,339.0 136.6,347.2" fill="#d55844" stroke="#d55844" stroke-width="0.8" stroke-linejoin="round" />
<polygon points="105.8,329.7 156.0,322.0 187.7,339.0 136.6,347.2" fill="#d64b2a" stroke="#d64b2a" stroke-width="0.8" stroke-linejoin="round" />
</g>
<polyline fill="none" stroke="#353535" stroke-width="0.85"  points="131.6,321.7 131.6,299.3 180.3,299.3"/>
<line x1="180.3" y1="292.6" x2="180.3" y2="306.3" stroke="#353535" stroke-width="0.9"/>
<line x1="183.6" y1="296" x2="183.6" y2="302.9" stroke="#353535" stroke-width="1.6"/>
<polyline fill="none" stroke="#353535" stroke-width="0.85"  points="183.6,299.3 229.1,299.3 229.1,402.4"/>
<polyline fill="none" stroke="#353535" stroke-width="0.85"  points="196.9,365.6 196.9,355.0 196.9,354.7 200.6,353.3 193.4,350.9 200.6,348.5 193.4,346.1 200.6,343.7 196.9,342.6 196.9,332.4 210.8,332.4"/>
<line x1="210.8" y1="325" x2="210.8" y2="338.7" stroke="#353535" stroke-width="0.9"/>
<line x1="213.9" y1="328.8" x2="213.9" y2="335.7" stroke="#353535" stroke-width="1.6"/>
<polyline fill="none" stroke="#353535" stroke-width="0.85"  points="213.9,332.4 229.1,332.4"/>
<polyline fill="none" stroke="#353535" stroke-width="0.85"  points="229.1,370.6 242.1,370.6 242.1,374.6"/>
<line x1="236.7" y1="374.6" x2="247.6" y2="374.6" stroke="#353535" stroke-width="0.9"/>
<line x1="238.6" y1="377.2" x2="245.6" y2="377.2" stroke="#353535" stroke-width="0.9"/>
<line x1="240.5" y1="379.9" x2="243.7" y2="379.9" stroke="#353535" stroke-width="0.9"/>
<polyline fill="none" stroke="#353535" stroke-width="0.85"  points="195.3,402.4 214.6,402.4"/>
<line x1="214.6" y1="395.8" x2="214.6" y2="408.9" stroke="#353535" stroke-width="0.9"/>
<line x1="217.8" y1="399.3" x2="217.8" y2="405.4" stroke="#353535" stroke-width="1.6"/>
<polyline fill="none" stroke="#353535" stroke-width="0.85"  points="217.8,402.4 229.1,402.4"/>
<polyline fill="none" stroke="#353535" stroke-width="0.85"  points="59.3,347.6 20.9,347.6 20.9,353.0"/>
<line x1="15.3" y1="353" x2="26.5" y2="353" stroke="#353535" stroke-width="0.9"/>
<line x1="17.3" y1="355.8" x2="24.5" y2="355.8" stroke="#353535" stroke-width="0.9"/>
<line x1="19" y1="358.6" x2="22.8" y2="358.6" stroke="#353535" stroke-width="0.9"/>
<circle cx="131.6" cy="321.7" r="2.1" fill="#111"/>
<circle cx="196.9" cy="365.6" r="2.1" fill="#111"/>
<circle cx="229.1" cy="370.6" r="2.1" fill="#111"/>
<circle cx="195.3" cy="402.4" r="2.1" fill="#111"/>
<circle cx="59.3" cy="347.6" r="2.1" fill="#111"/>
<polyline fill="none" stroke="#222" stroke-width="0.8"  points="79.5,297.5 108.0,348.4"/>
<polyline fill="none" stroke="#222" stroke-width="0.8"  points="49.7,311.4 68.4,317.6"/>
<polyline fill="none" stroke="#222" stroke-width="0.8"  points="42.3,393.9 86.7,357.3"/>
<polyline fill="none" stroke="#222" stroke-width="0.8"  points="76.6,419.4 106.0,387.5"/>
<polyline fill="none" stroke="#222" stroke-width="0.8"  points="145.9,437.8 152.6,411.5"/>
<text transform="translate(0.50,243.60)" font-size="11.5" text-anchor="start" fill="#1a1a1a" font-weight="bold">c</text>
<text transform="translate(44.10,293.10)" font-size="11" text-anchor="start" fill="#444" textLength="70.6" lengthAdjust="spacingAndGlyphs" >Bilayer graphene</text>
<text transform="translate(11.50,313.50)" font-size="11" text-anchor="start" fill="#444" textLength="35.8" lengthAdjust="spacingAndGlyphs" >Top gate</text>
<text transform="translate(37.20,393.40)" font-size="11" text-anchor="end" fill="#444" textLength="20.4" lengthAdjust="spacingAndGlyphs" >Ti/Al</text>
<text transform="translate(36.50,403.60)" font-size="11" text-anchor="end" fill="#444" textLength="31.4" lengthAdjust="spacingAndGlyphs" >contact</text>
<text transform="translate(56.60,424.50)" font-size="11" text-anchor="start" fill="#444" textLength="17.9" lengthAdjust="spacingAndGlyphs" >hBN</text>
<text transform="translate(153.80,394.90)" font-size="11" text-anchor="start" fill="#24466c" textLength="19.3" lengthAdjust="spacingAndGlyphs" >SiO<tspan font-size="7.5" dy="2.6">2</tspan></text>
<text transform="translate(159.60,411.50)" font-size="11" text-anchor="start" fill="#333" textLength="6.8" lengthAdjust="spacingAndGlyphs" >Si</text>
<text transform="translate(123.70,448.00)" font-size="11" text-anchor="start" fill="#444" textLength="40.6" lengthAdjust="spacingAndGlyphs" >Back gate</text>
<text transform="translate(178.20,316.80)" font-size="11" text-anchor="start" fill="#444" textLength="7.6" lengthAdjust="spacingAndGlyphs" ><tspan font-style="italic">V</tspan><tspan font-size="7.5" dy="3">t</tspan></text>
<text transform="translate(205.20,348.70)" font-size="11" text-anchor="start" fill="#444" textLength="13" lengthAdjust="spacingAndGlyphs" ><tspan font-style="italic">V</tspan><tspan font-size="7.5" dy="3">sd</tspan></text>
<text transform="translate(209.90,419.40)" font-size="11" text-anchor="start" fill="#444" textLength="11.3" lengthAdjust="spacingAndGlyphs" >V<tspan font-size="8" font-style="italic" dy="3.4">b</tspan></text>
<g clip-path="url(#cpd)">
<rect x="287" y="238.6" width="125.30000000000001" height="116.9" fill="#334ea9"/>
<polygon points="274.8,225.0 289.1,242.1 303.5,259.2 317.8,276.4 332.2,293.5 346.6,310.6 360.9,327.8 375.3,344.9 389.7,362.0 429.7,362.0 413.6,344.9 397.4,327.8 381.3,310.6 365.2,293.5 349.1,276.4 333.0,259.2 316.9,242.1 300.8,225.0" fill="#3455ae" filter="url(#bl2)"/>
<polyline points="288,236 320,276 345,306" fill="none" stroke="#365bb2" stroke-width="3" filter="url(#bl1)"/>
<polygon points="279.8,225.0 294.4,242.1 309.0,259.2 323.6,276.4 338.2,293.5 352.8,310.6 367.4,327.8 382.1,344.9 396.7,362.0 422.7,362.0 406.8,344.9 390.9,327.8 375.1,310.6 359.2,293.5 343.3,276.4 327.5,259.2 311.6,242.1 295.8,225.0" fill="#386abc" filter="url(#bl1)"/>
<polygon points="282.8,225.0 297.4,242.1 312.1,259.2 326.8,276.4 341.5,293.5 356.1,310.6 370.8,327.8 385.5,344.9 400.2,362.0 418.2,362.0 402.4,344.9 386.6,327.8 370.8,310.6 355.0,293.5 339.2,276.4 323.4,259.2 307.6,242.1 291.8,225.0" fill="#3c8dd1" filter="url(#bl1)"/>
<polygon points="290.6,225.0 305.7,242.1 320.8,259.2 336.0,276.4 351.1,293.5 366.3,310.6 381.4,327.8 396.5,344.9 411.7,362.0 415.7,362.0 400.3,344.9 385.0,327.8 369.7,310.6 354.3,293.5 339.0,276.4 323.6,259.2 308.3,242.1 292.9,225.0" fill="#3fafe5" filter="url(#bl05)"/>
<polygon points="284.2,225.0 299.1,242.1 314.0,259.2 328.9,276.4 343.8,293.5 358.7,310.6 373.6,327.8 388.5,344.9 403.4,362.0 413.4,362.0 397.8,344.9 382.2,327.8 366.6,310.6 351.0,293.5 335.4,276.4 319.8,259.2 304.2,242.1 288.6,225.0" fill="#46bde8" filter="url(#bl05)"/>
<polygon points="285.4,225.0 300.5,242.1 315.6,259.2 330.7,276.4 345.8,293.5 360.9,310.6 376.0,327.8 391.1,344.9 406.2,362.0 410.6,362.0 395.2,344.9 379.8,327.8 364.4,310.6 349.0,293.5 333.6,276.4 318.2,259.2 302.8,242.1 287.4,225.0" fill="#56c4e0" filter="url(#bl05)"/>
<polygon points="361.1,308.0 366.1,314.8 371.0,321.5 376.0,328.2 380.9,335.0 385.8,341.8 390.8,348.5 395.7,355.2 400.7,362.0 426.7,362.0 418.6,355.2 410.5,348.5 402.5,341.8 394.4,335.0 386.3,328.2 378.3,321.5 370.2,314.8 362.1,308.0" fill="#80c8a0" filter="url(#bl1)"/>
<polygon points="370.0,318.0 373.9,323.5 377.7,329.0 381.5,334.5 385.4,340.0 389.2,345.5 393.0,351.0 396.8,356.5 400.7,362.0 426.7,362.0 419.7,356.5 412.8,351.0 405.8,345.5 398.9,340.0 391.9,334.5 384.9,329.0 378.0,323.5 371.0,318.0" fill="#ddde2c" filter="url(#bl1)"/>
<polygon points="386.4,333.0 387.9,336.6 389.4,340.2 391.0,343.9 392.5,347.5 394.1,351.1 395.6,354.8 397.1,358.4 398.7,362.0 430.7,362.0 425.3,358.4 419.9,354.8 414.4,351.1 409.0,347.5 403.6,343.9 398.2,340.2 392.8,336.6 387.4,333.0" fill="#f3b120" filter="url(#bl1)"/>
<polygon points="389.9,337.0 390.8,340.1 391.6,343.2 392.5,346.4 393.3,349.5 394.1,352.6 395.0,355.8 395.8,358.9 396.7,362.0 432.7,362.0 427.5,358.9 422.2,355.8 417.0,352.6 411.8,349.5 406.6,346.4 401.4,343.2 396.1,340.1 390.9,337.0" fill="#e74521" filter="url(#bl05)"/>
<polygon points="393.6,340.0 394.2,342.8 394.9,345.5 395.5,348.2 396.1,351.0 396.8,353.8 397.4,356.5 398.0,359.2 398.7,362.0 430.7,362.0 426.2,359.2 421.7,356.5 417.1,353.8 412.6,351.0 408.1,348.2 403.6,345.5 399.1,342.8 394.6,340.0" fill="#e31e23" filter="url(#bl05)"/>
<polygon points="397.2,344.0 398.2,346.2 399.3,348.5 400.4,350.8 401.4,353.0 402.5,355.2 403.6,357.5 404.6,359.8 405.7,362.0 423.7,362.0 420.5,359.8 417.3,357.5 414.1,355.2 410.9,353.0 407.7,350.8 404.5,348.5 401.4,346.2 398.2,344.0" fill="#98181c" filter="url(#bl05)"/>
</g>
<line x1="287" y1="256.1" x2="371.3" y2="355.5" stroke="#b02c55" stroke-width="1.5"/>
<circle cx="315" cy="288.3" r="4.3" fill="#29b2ea" stroke="#151515" stroke-width="1"/>
<circle cx="326.4" cy="303.7" r="4.3" fill="#3aad4a" stroke="#151515" stroke-width="1"/>
<circle cx="349" cy="330.9" r="4.3" fill="#f7d41e" stroke="#151515" stroke-width="1"/>
<circle cx="364.8" cy="349.9" r="4.3" fill="#f0922a" stroke="#151515" stroke-width="1"/>
<text transform="translate(369.80,274.20)" font-size="11" text-anchor="middle" fill="#f2f4fa" textLength="31.5" lengthAdjust="spacingAndGlyphs" >Electric</text>
<text transform="translate(369.80,285.80)" font-size="11" text-anchor="middle" fill="#f2f4fa" textLength="18.2" lengthAdjust="spacingAndGlyphs" >field</text>
<line x1="372.7" y1="291.6" x2="395.44" y2="318.83" stroke="#f4f6fb" stroke-width="0.9"/>
<polygon points="398,321.9 392.95,319.60 395.56,318.98 396.64,316.52" fill="#f4f6fb"/>
<rect x="419.3" y="238.4" width="8.8" height="117.2" fill="url(#cbv)"/>
<text transform="translate(432.00,243.70) scale(0.93,1)" font-size="11" text-anchor="start" fill="#444" >3</text>
<text transform="translate(432.00,282.60) scale(0.93,1)" font-size="11" text-anchor="start" fill="#444" >2</text>
<text transform="translate(432.00,323.30) scale(0.93,1)" font-size="11" text-anchor="start" fill="#444" >1</text>
<text transform="translate(441.30,296.00) rotate(90)" font-size="11" text-anchor="middle" fill="#444" textLength="28.5" lengthAdjust="spacingAndGlyphs" ><tspan font-style="italic">R</tspan> (kΩ)</text>
<text transform="translate(242.80,242.70)" font-size="11.5" text-anchor="start" fill="#1a1a1a" font-weight="bold">d</text>
<text transform="translate(283.90,254.90) scale(0.93,1)" font-size="11" text-anchor="end" fill="#444" >20</text>
<text transform="translate(283.90,278.90) scale(0.93,1)" font-size="11" text-anchor="end" fill="#444" >10</text>
<text transform="translate(283.90,302.20) scale(0.93,1)" font-size="11" text-anchor="end" fill="#444" >0</text>
<text transform="translate(283.90,325.40) scale(0.93,1)" font-size="11" text-anchor="end" fill="#444" >−10</text>
<text transform="translate(283.90,348.60) scale(0.93,1)" font-size="11" text-anchor="end" fill="#444" >−20</text>
<text transform="translate(259.40,298.30) rotate(-90)" font-size="11" text-anchor="middle" fill="#444" textLength="87.8" lengthAdjust="spacingAndGlyphs" >Top gate voltage (V)</text>
<text transform="translate(284.00,367.10) scale(0.93,1)" font-size="11" text-anchor="middle" fill="#444" >−10</text>
<text transform="translate(325.40,367.10) scale(0.93,1)" font-size="11" text-anchor="middle" fill="#444" >−5</text>
<text transform="translate(370.30,367.10) scale(0.93,1)" font-size="11" text-anchor="middle" fill="#444" >0</text>
<text transform="translate(411.70,367.10) scale(0.93,1)" font-size="11" text-anchor="middle" fill="#444" >5</text>
<text transform="translate(349.60,381.00)" font-size="11" text-anchor="middle" fill="#444" textLength="92.5" lengthAdjust="spacingAndGlyphs" >Back gate voltage (V)</text>
<g filter="url(#hb2)"><g shape-rendering="crispEdges">
<rect x="508.40" y="237.70" width="7.75" height="2.26" fill="#2c3897"/>
<rect x="508.40" y="239.66" width="7.75" height="2.26" fill="#2d3b9b"/>
<rect x="508.40" y="241.63" width="7.75" height="2.26" fill="#2c3998"/>
<rect x="508.40" y="243.59" width="7.75" height="2.26" fill="#2b3695"/>
<rect x="508.40" y="245.55" width="7.75" height="2.26" fill="#2c3999"/>
<rect x="508.40" y="247.52" width="7.75" height="4.23" fill="#2b3694"/>
<rect x="508.40" y="251.44" width="7.75" height="2.26" fill="#324aa7"/>
<rect x="508.40" y="253.41" width="7.75" height="2.26" fill="#2d3c9b"/>
<rect x="508.40" y="255.37" width="7.75" height="2.26" fill="#2c3999"/>
<rect x="508.40" y="257.33" width="7.75" height="4.23" fill="#2f41a0"/>
<rect x="508.40" y="261.26" width="7.75" height="2.26" fill="#3149a6"/>
<rect x="508.40" y="263.22" width="7.75" height="2.26" fill="#3045a3"/>
<rect x="508.40" y="265.19" width="7.75" height="2.26" fill="#3147a4"/>
<rect x="508.40" y="267.15" width="7.75" height="2.26" fill="#4abfe7"/>
<rect x="508.40" y="269.11" width="7.75" height="2.26" fill="#60c6d5"/>
<rect x="508.40" y="271.08" width="7.75" height="2.26" fill="#f6d220"/>
<rect x="508.40" y="273.04" width="7.75" height="8.15" fill="#e21c24"/>
<rect x="508.40" y="280.89" width="7.75" height="2.26" fill="#e95720"/>
<rect x="508.40" y="282.86" width="7.75" height="2.26" fill="#ede120"/>
<rect x="508.40" y="284.82" width="7.75" height="21.90" fill="#65c7cc"/>
<rect x="508.40" y="306.42" width="7.75" height="2.26" fill="#d9dc2f"/>
<rect x="508.40" y="308.38" width="7.75" height="2.26" fill="#ec7220"/>
<rect x="508.40" y="310.34" width="7.75" height="8.15" fill="#e21c24"/>
<rect x="508.40" y="318.20" width="7.75" height="2.26" fill="#f5c620"/>
<rect x="508.40" y="320.16" width="7.75" height="2.26" fill="#62c6d1"/>
<rect x="508.40" y="322.12" width="7.75" height="2.26" fill="#4cbfe6"/>
<rect x="508.40" y="324.09" width="7.75" height="2.26" fill="#324ba7"/>
<rect x="508.40" y="326.05" width="7.75" height="2.26" fill="#2f41a0"/>
<rect x="508.40" y="328.01" width="7.75" height="2.26" fill="#3146a4"/>
<rect x="508.40" y="329.98" width="7.75" height="2.26" fill="#2f40a0"/>
<rect x="508.40" y="331.94" width="7.75" height="2.26" fill="#2f42a1"/>
<rect x="508.40" y="333.90" width="7.75" height="2.26" fill="#2d3b9a"/>
<rect x="508.40" y="335.87" width="7.75" height="2.26" fill="#2d3c9b"/>
<rect x="508.40" y="337.83" width="7.75" height="2.26" fill="#2b3594"/>
<rect x="508.40" y="339.79" width="7.75" height="2.26" fill="#2d3b9b"/>
<rect x="508.40" y="341.76" width="7.75" height="2.26" fill="#2d3c9c"/>
<rect x="508.40" y="343.72" width="7.75" height="2.26" fill="#2b3694"/>
<rect x="508.40" y="345.68" width="7.75" height="2.26" fill="#2d3a9a"/>
<rect x="508.40" y="347.65" width="7.75" height="2.26" fill="#2b3694"/>
<rect x="508.40" y="349.61" width="7.75" height="2.26" fill="#2d3c9b"/>
<rect x="508.40" y="351.57" width="7.75" height="2.26" fill="#2b3694"/>
<rect x="508.40" y="353.54" width="7.75" height="2.26" fill="#3148a5"/>
<rect x="515.85" y="237.70" width="7.75" height="2.26" fill="#2b3695"/>
<rect x="515.85" y="239.66" width="7.75" height="2.26" fill="#2c3897"/>
<rect x="515.85" y="241.63" width="7.75" height="4.23" fill="#2d3a99"/>
<rect x="515.85" y="245.55" width="7.75" height="2.26" fill="#2c3897"/>
<rect x="515.85" y="247.52" width="7.75" height="2.26" fill="#2c3796"/>
<rect x="515.85" y="249.48" width="7.75" height="2.26" fill="#2d3b9a"/>
<rect x="515.85" y="251.44" width="7.75" height="2.26" fill="#2d3b9b"/>
<rect x="515.85" y="253.41" width="7.75" height="2.26" fill="#2c3897"/>
<rect x="515.85" y="255.37" width="7.75" height="2.26" fill="#2c3999"/>
<rect x="515.85" y="257.33" width="7.75" height="4.23" fill="#3043a2"/>
<rect x="515.85" y="261.26" width="7.75" height="2.26" fill="#2f43a1"/>
<rect x="515.85" y="263.22" width="7.75" height="2.26" fill="#3045a3"/>
<rect x="515.85" y="265.19" width="7.75" height="2.26" fill="#3147a4"/>
<rect x="515.85" y="267.15" width="7.75" height="2.26" fill="#4abfe7"/>
<rect x="515.85" y="269.11" width="7.75" height="2.26" fill="#60c6d5"/>
<rect x="515.85" y="271.08" width="7.75" height="2.26" fill="#f6d220"/>
<rect x="515.85" y="273.04" width="7.75" height="8.15" fill="#cb1a22"/>
<rect x="515.85" y="280.89" width="7.75" height="2.26" fill="#e85120"/>
<rect x="515.85" y="282.86" width="7.75" height="2.26" fill="#ede120"/>
<rect x="515.85" y="284.82" width="7.75" height="21.90" fill="#65c7cc"/>
<rect x="515.85" y="306.42" width="7.75" height="2.26" fill="#d9dc2f"/>
<rect x="515.85" y="308.38" width="7.75" height="2.26" fill="#ec6f20"/>
<rect x="515.85" y="310.34" width="7.75" height="8.15" fill="#cb1a22"/>
<rect x="515.85" y="318.20" width="7.75" height="2.26" fill="#f5c620"/>
<rect x="515.85" y="320.16" width="7.75" height="2.26" fill="#62c6d1"/>
<rect x="515.85" y="322.12" width="7.75" height="2.26" fill="#4cbfe6"/>
<rect x="515.85" y="324.09" width="7.75" height="2.26" fill="#324ba7"/>
<rect x="515.85" y="326.05" width="7.75" height="2.26" fill="#3044a2"/>
<rect x="515.85" y="328.01" width="7.75" height="2.26" fill="#2e409f"/>
<rect x="515.85" y="329.98" width="7.75" height="2.26" fill="#2f40a0"/>
<rect x="515.85" y="331.94" width="7.75" height="2.26" fill="#3147a5"/>
<rect x="515.85" y="333.90" width="7.75" height="2.26" fill="#2b3695"/>
<rect x="515.85" y="335.87" width="7.75" height="2.26" fill="#2d3b9b"/>
<rect x="515.85" y="337.83" width="7.75" height="2.26" fill="#2c3897"/>
<rect x="515.85" y="339.79" width="7.75" height="2.26" fill="#2b3594"/>
<rect x="515.85" y="341.76" width="7.75" height="2.26" fill="#2c3795"/>
<rect x="515.85" y="343.72" width="7.75" height="2.26" fill="#2c3796"/>
<rect x="515.85" y="345.68" width="7.75" height="2.26" fill="#2c3998"/>
<rect x="515.85" y="347.65" width="7.75" height="2.26" fill="#2b3695"/>
<rect x="515.85" y="349.61" width="7.75" height="2.26" fill="#2b3594"/>
<rect x="515.85" y="351.57" width="7.75" height="2.26" fill="#2c3998"/>
<rect x="515.85" y="353.54" width="7.75" height="2.26" fill="#2c3999"/>
<rect x="523.31" y="237.70" width="7.75" height="2.26" fill="#2d3b9b"/>
<rect x="523.31" y="239.66" width="7.75" height="2.26" fill="#2b3594"/>
<rect x="523.31" y="241.63" width="7.75" height="2.26" fill="#2f40a0"/>
<rect x="523.31" y="243.59" width="7.75" height="2.26" fill="#2c3897"/>
<rect x="523.31" y="245.55" width="7.75" height="2.26" fill="#2b3695"/>
<rect x="523.31" y="247.52" width="7.75" height="2.26" fill="#2d3b9b"/>
<rect x="523.31" y="249.48" width="7.75" height="2.26" fill="#2d3a99"/>
<rect x="523.31" y="251.44" width="7.75" height="2.26" fill="#2c3998"/>
<rect x="523.31" y="253.41" width="7.75" height="2.26" fill="#3149a6"/>
<rect x="523.31" y="255.37" width="7.75" height="2.26" fill="#2d3a99"/>
<rect x="523.31" y="257.33" width="7.75" height="2.26" fill="#3045a3"/>
<rect x="523.31" y="259.30" width="7.75" height="2.26" fill="#324aa7"/>
<rect x="523.31" y="261.26" width="7.75" height="4.23" fill="#3148a5"/>
<rect x="523.31" y="265.19" width="7.75" height="2.26" fill="#3147a4"/>
<rect x="523.31" y="267.15" width="7.75" height="2.26" fill="#4abfe7"/>
<rect x="523.31" y="269.11" width="7.75" height="2.26" fill="#60c6d5"/>
<rect x="523.31" y="271.08" width="7.75" height="2.26" fill="#f6d220"/>
<rect x="523.31" y="273.04" width="7.75" height="8.15" fill="#c71a21"/>
<rect x="523.31" y="280.89" width="7.75" height="2.26" fill="#e85020"/>
<rect x="523.31" y="282.86" width="7.75" height="2.26" fill="#ede120"/>
<rect x="523.31" y="284.82" width="7.75" height="21.90" fill="#65c7cc"/>
<rect x="523.31" y="306.42" width="7.75" height="2.26" fill="#d9dc2f"/>
<rect x="523.31" y="308.38" width="7.75" height="2.26" fill="#ec6e20"/>
<rect x="523.31" y="310.34" width="7.75" height="8.15" fill="#c71a21"/>
<rect x="523.31" y="318.20" width="7.75" height="2.26" fill="#f5c620"/>
<rect x="523.31" y="320.16" width="7.75" height="2.26" fill="#62c6d1"/>
<rect x="523.31" y="322.12" width="7.75" height="2.26" fill="#4cbfe6"/>
<rect x="523.31" y="324.09" width="7.75" height="2.26" fill="#324ba7"/>
<rect x="523.31" y="326.05" width="7.75" height="2.26" fill="#2f42a0"/>
<rect x="523.31" y="328.01" width="7.75" height="4.23" fill="#3147a4"/>
<rect x="523.31" y="331.94" width="7.75" height="2.26" fill="#2f42a1"/>
<rect x="523.31" y="333.90" width="7.75" height="2.26" fill="#2c3998"/>
<rect x="523.31" y="335.87" width="7.75" height="2.26" fill="#2b3694"/>
<rect x="523.31" y="337.83" width="7.75" height="2.26" fill="#2d3c9c"/>
<rect x="523.31" y="339.79" width="7.75" height="2.26" fill="#2d3a99"/>
<rect x="523.31" y="341.76" width="7.75" height="2.26" fill="#2d3a9a"/>
<rect x="523.31" y="343.72" width="7.75" height="2.26" fill="#2c3897"/>
<rect x="523.31" y="345.68" width="7.75" height="2.26" fill="#2b3694"/>
<rect x="523.31" y="347.65" width="7.75" height="2.26" fill="#2b3594"/>
<rect x="523.31" y="349.61" width="7.75" height="2.26" fill="#2c3897"/>
<rect x="523.31" y="351.57" width="7.75" height="2.26" fill="#2d3a99"/>
<rect x="523.31" y="353.54" width="7.75" height="2.26" fill="#2c3999"/>
<rect x="530.76" y="237.70" width="7.75" height="2.26" fill="#2f42a1"/>
<rect x="530.76" y="239.66" width="7.75" height="2.26" fill="#2d3a99"/>
<rect x="530.76" y="241.63" width="7.75" height="2.26" fill="#2b3695"/>
<rect x="530.76" y="243.59" width="7.75" height="2.26" fill="#2d3a99"/>
<rect x="530.76" y="245.55" width="7.75" height="2.26" fill="#2d3b9b"/>
<rect x="530.76" y="247.52" width="7.75" height="2.26" fill="#2d3a99"/>
<rect x="530.76" y="249.48" width="7.75" height="2.26" fill="#2c3897"/>
<rect x="530.76" y="251.44" width="7.75" height="2.26" fill="#2d3b9b"/>
<rect x="530.76" y="253.41" width="7.75" height="2.26" fill="#2c3897"/>
<rect x="530.76" y="255.37" width="7.75" height="2.26" fill="#2c3796"/>
<rect x="530.76" y="257.33" width="7.75" height="2.26" fill="#3149a6"/>
<rect x="530.76" y="259.30" width="7.75" height="4.23" fill="#3043a2"/>
<rect x="530.76" y="263.22" width="7.75" height="4.23" fill="#3147a4"/>
<rect x="530.76" y="267.15" width="7.75" height="2.26" fill="#4abfe7"/>
<rect x="530.76" y="269.11" width="7.75" height="2.26" fill="#60c6d5"/>
<rect x="530.76" y="271.08" width="7.75" height="2.26" fill="#f6d220"/>
<rect x="530.76" y="273.04" width="7.75" height="8.15" fill="#c41a21"/>
<rect x="530.76" y="280.89" width="7.75" height="2.26" fill="#e85020"/>
<rect x="530.76" y="282.86" width="7.75" height="2.26" fill="#ede120"/>
<rect x="530.76" y="284.82" width="7.75" height="21.90" fill="#5dc6da"/>
<rect x="530.76" y="306.42" width="7.75" height="2.26" fill="#d9dc2f"/>
<rect x="530.76" y="308.38" width="7.75" height="2.26" fill="#ec6e20"/>
<rect x="530.76" y="310.34" width="7.75" height="8.15" fill="#c41a21"/>
<rect x="530.76" y="318.20" width="7.75" height="2.26" fill="#f5c620"/>
<rect x="530.76" y="320.16" width="7.75" height="2.26" fill="#62c6d1"/>
<rect x="530.76" y="322.12" width="7.75" height="2.26" fill="#4cbfe6"/>
<rect x="530.76" y="324.09" width="7.75" height="2.26" fill="#324ba7"/>
<rect x="530.76" y="326.05" width="7.75" height="2.26" fill="#3146a4"/>
<rect x="530.76" y="328.01" width="7.75" height="2.26" fill="#2e3f9f"/>
<rect x="530.76" y="329.98" width="7.75" height="2.26" fill="#2e3e9e"/>
<rect x="530.76" y="331.94" width="7.75" height="2.26" fill="#2f41a0"/>
<rect x="530.76" y="333.90" width="7.75" height="2.26" fill="#2f409f"/>
<rect x="530.76" y="335.87" width="7.75" height="2.26" fill="#3148a5"/>
<rect x="530.76" y="337.83" width="7.75" height="2.26" fill="#2c3795"/>
<rect x="530.76" y="339.79" width="7.75" height="2.26" fill="#2b3594"/>
<rect x="530.76" y="341.76" width="7.75" height="2.26" fill="#2c3897"/>
<rect x="530.76" y="343.72" width="7.75" height="2.26" fill="#2d3a99"/>
<rect x="530.76" y="345.68" width="7.75" height="2.26" fill="#2d3c9b"/>
<rect x="530.76" y="347.65" width="7.75" height="2.26" fill="#2b3695"/>
<rect x="530.76" y="349.61" width="7.75" height="2.26" fill="#3044a2"/>
<rect x="530.76" y="351.57" width="7.75" height="2.26" fill="#2d3a99"/>
<rect x="530.76" y="353.54" width="7.75" height="2.26" fill="#2c3796"/>
<rect x="538.21" y="237.70" width="7.75" height="2.26" fill="#2d3a99"/>
<rect x="538.21" y="239.66" width="7.75" height="2.26" fill="#2c3999"/>
<rect x="538.21" y="241.63" width="7.75" height="2.26" fill="#2c3897"/>
<rect x="538.21" y="243.59" width="7.75" height="2.26" fill="#314aa6"/>
<rect x="538.21" y="245.55" width="7.75" height="2.26" fill="#2d3a99"/>
<rect x="538.21" y="247.52" width="7.75" height="2.26" fill="#2c3897"/>
<rect x="538.21" y="249.48" width="7.75" height="2.26" fill="#2d3b9b"/>
<rect x="538.21" y="251.44" width="7.75" height="2.26" fill="#2c3998"/>
<rect x="538.21" y="253.41" width="7.75" height="2.26" fill="#2d3b9a"/>
<rect x="538.21" y="255.37" width="7.75" height="2.26" fill="#2c3897"/>
<rect x="538.21" y="257.33" width="7.75" height="2.26" fill="#3149a5"/>
<rect x="538.21" y="259.30" width="7.75" height="2.26" fill="#2f43a1"/>
<rect x="538.21" y="261.26" width="7.75" height="2.26" fill="#324aa7"/>
<rect x="538.21" y="263.22" width="7.75" height="2.26" fill="#3044a2"/>
<rect x="538.21" y="265.19" width="7.75" height="2.26" fill="#3147a4"/>
<rect x="538.21" y="267.15" width="7.75" height="2.26" fill="#4abfe7"/>
<rect x="538.21" y="269.11" width="7.75" height="2.26" fill="#60c6d5"/>
<rect x="538.21" y="271.08" width="7.75" height="2.26" fill="#f6d220"/>
<rect x="538.21" y="273.04" width="7.75" height="8.15" fill="#c11a21"/>
<rect x="538.21" y="280.89" width="7.75" height="2.26" fill="#e84f20"/>
<rect x="538.21" y="282.86" width="7.75" height="2.26" fill="#ede120"/>
<rect x="538.21" y="284.82" width="7.75" height="21.90" fill="#5dc6da"/>
<rect x="538.21" y="306.42" width="7.75" height="2.26" fill="#d9dc2f"/>
<rect x="538.21" y="308.38" width="7.75" height="2.26" fill="#ec6d20"/>
<rect x="538.21" y="310.34" width="7.75" height="8.15" fill="#c11a21"/>
<rect x="538.21" y="318.20" width="7.75" height="2.26" fill="#f5c620"/>
<rect x="538.21" y="320.16" width="7.75" height="2.26" fill="#62c6d1"/>
<rect x="538.21" y="322.12" width="7.75" height="2.26" fill="#4cbfe6"/>
<rect x="538.21" y="324.09" width="7.75" height="2.26" fill="#324ba7"/>
<rect x="538.21" y="326.05" width="7.75" height="2.26" fill="#2f41a0"/>
<rect x="538.21" y="328.01" width="7.75" height="2.26" fill="#3044a2"/>
<rect x="538.21" y="329.98" width="7.75" height="2.26" fill="#2e3e9e"/>
<rect x="538.21" y="331.94" width="7.75" height="2.26" fill="#2f409f"/>
<rect x="538.21" y="333.90" width="7.75" height="2.26" fill="#2c3796"/>
<rect x="538.21" y="335.87" width="7.75" height="2.26" fill="#2b3695"/>
<rect x="538.21" y="337.83" width="7.75" height="2.26" fill="#2c3998"/>
<rect x="538.21" y="339.79" width="7.75" height="2.26" fill="#2d3b9a"/>
<rect x="538.21" y="341.76" width="7.75" height="2.26" fill="#2d3c9b"/>
<rect x="538.21" y="343.72" width="7.75" height="2.26" fill="#2f41a0"/>
<rect x="538.21" y="345.68" width="7.75" height="2.26" fill="#2c3998"/>
<rect x="538.21" y="347.65" width="7.75" height="2.26" fill="#2d3a99"/>
<rect x="538.21" y="349.61" width="7.75" height="4.23" fill="#2c3998"/>
<rect x="538.21" y="353.54" width="7.75" height="2.26" fill="#2c3897"/>
<rect x="545.66" y="237.70" width="7.75" height="2.26" fill="#2d3b9b"/>
<rect x="545.66" y="239.66" width="7.75" height="2.26" fill="#2d3b9a"/>
<rect x="545.66" y="241.63" width="7.75" height="2.26" fill="#2c3998"/>
<rect x="545.66" y="243.59" width="7.75" height="2.26" fill="#2b3695"/>
<rect x="545.66" y="245.55" width="7.75" height="2.26" fill="#2c3998"/>
<rect x="545.66" y="247.52" width="7.75" height="2.26" fill="#2b3594"/>
<rect x="545.66" y="249.48" width="7.75" height="2.26" fill="#2c3998"/>
<rect x="545.66" y="251.44" width="7.75" height="2.26" fill="#2d3b9a"/>
<rect x="545.66" y="253.41" width="7.75" height="2.26" fill="#2c3898"/>
<rect x="545.66" y="255.37" width="7.75" height="2.26" fill="#2b3594"/>
<rect x="545.66" y="257.33" width="7.75" height="2.26" fill="#324aa6"/>
<rect x="545.66" y="259.30" width="7.75" height="2.26" fill="#2f42a1"/>
<rect x="545.66" y="261.26" width="7.75" height="2.26" fill="#314aa6"/>
<rect x="545.66" y="263.22" width="7.75" height="2.26" fill="#2f42a1"/>
<rect x="545.66" y="265.19" width="7.75" height="2.26" fill="#3147a4"/>
<rect x="545.66" y="267.15" width="7.75" height="2.26" fill="#4abfe7"/>
<rect x="545.66" y="269.11" width="7.75" height="2.26" fill="#60c6d5"/>
<rect x="545.66" y="271.08" width="7.75" height="2.26" fill="#f6d220"/>
<rect x="545.66" y="273.04" width="7.75" height="8.15" fill="#be1a20"/>
<rect x="545.66" y="280.89" width="7.75" height="2.26" fill="#e84f20"/>
<rect x="545.66" y="282.86" width="7.75" height="2.26" fill="#ede120"/>
<rect x="545.66" y="284.82" width="7.75" height="21.90" fill="#5dc6da"/>
<rect x="545.66" y="306.42" width="7.75" height="2.26" fill="#d9dc2f"/>
<rect x="545.66" y="308.38" width="7.75" height="2.26" fill="#eb6d20"/>
<rect x="545.66" y="310.34" width="7.75" height="8.15" fill="#be1a20"/>
<rect x="545.66" y="318.20" width="7.75" height="2.26" fill="#f5c620"/>
<rect x="545.66" y="320.16" width="7.75" height="2.26" fill="#62c6d1"/>
<rect x="545.66" y="322.12" width="7.75" height="2.26" fill="#4cbfe6"/>
<rect x="545.66" y="324.09" width="7.75" height="2.26" fill="#324ba7"/>
<rect x="545.66" y="326.05" width="7.75" height="2.26" fill="#2e3f9f"/>
<rect x="545.66" y="328.01" width="7.75" height="2.26" fill="#2f40a0"/>
<rect x="545.66" y="329.98" width="7.75" height="2.26" fill="#2f42a0"/>
<rect x="545.66" y="331.94" width="7.75" height="2.26" fill="#3045a3"/>
<rect x="545.66" y="333.90" width="7.75" height="2.26" fill="#2b3695"/>
<rect x="545.66" y="335.87" width="7.75" height="2.26" fill="#2c3796"/>
<rect x="545.66" y="337.83" width="7.75" height="2.26" fill="#2c3998"/>
<rect x="545.66" y="339.79" width="7.75" height="2.26" fill="#2c3897"/>
<rect x="545.66" y="341.76" width="7.75" height="2.26" fill="#2c3998"/>
<rect x="545.66" y="343.72" width="7.75" height="2.26" fill="#2b3695"/>
<rect x="545.66" y="345.68" width="7.75" height="2.26" fill="#2c3999"/>
<rect x="545.66" y="347.65" width="7.75" height="4.23" fill="#2d3b9a"/>
<rect x="545.66" y="351.57" width="7.75" height="2.26" fill="#2d3a9a"/>
<rect x="545.66" y="353.54" width="7.75" height="2.26" fill="#2d3b9b"/>
<rect x="553.12" y="237.70" width="7.75" height="2.26" fill="#2c3796"/>
<rect x="553.12" y="239.66" width="7.75" height="2.26" fill="#2c3795"/>
<rect x="553.12" y="241.63" width="7.75" height="2.26" fill="#2d3b9b"/>
<rect x="553.12" y="243.59" width="7.75" height="2.26" fill="#2c3795"/>
<rect x="553.12" y="245.55" width="7.75" height="2.26" fill="#3148a5"/>
<rect x="553.12" y="247.52" width="7.75" height="2.26" fill="#2c3897"/>
<rect x="553.12" y="249.48" width="7.75" height="2.26" fill="#2b3695"/>
<rect x="553.12" y="251.44" width="7.75" height="2.26" fill="#2f41a0"/>
<rect x="553.12" y="253.41" width="7.75" height="2.26" fill="#2d3a99"/>
<rect x="553.12" y="255.37" width="7.75" height="2.26" fill="#2d3c9b"/>
<rect x="553.12" y="257.33" width="7.75" height="2.26" fill="#3046a3"/>
<rect x="553.12" y="259.30" width="7.75" height="2.26" fill="#2f41a0"/>
<rect x="553.12" y="261.26" width="7.75" height="2.26" fill="#3046a3"/>
<rect x="553.12" y="263.22" width="7.75" height="2.26" fill="#2f42a1"/>
<rect x="553.12" y="265.19" width="7.75" height="2.26" fill="#3147a4"/>
<rect x="553.12" y="267.15" width="7.75" height="2.26" fill="#4abfe7"/>
<rect x="553.12" y="269.11" width="7.75" height="2.26" fill="#60c6d5"/>
<rect x="553.12" y="271.08" width="7.75" height="2.26" fill="#f6d220"/>
<rect x="553.12" y="273.04" width="7.75" height="8.15" fill="#cd1b22"/>
<rect x="553.12" y="280.89" width="7.75" height="2.26" fill="#e85120"/>
<rect x="553.12" y="282.86" width="7.75" height="2.26" fill="#ede120"/>
<rect x="553.12" y="284.82" width="7.75" height="2.26" fill="#57c5e0"/>
<rect x="553.12" y="286.78" width="7.75" height="2.26" fill="#3c91d4"/>
<rect x="553.12" y="288.75" width="7.75" height="16.01" fill="#3c8dd1"/>
<rect x="553.12" y="304.45" width="7.75" height="2.26" fill="#56c4e0"/>
<rect x="553.12" y="306.42" width="7.75" height="2.26" fill="#d9dc2f"/>
<rect x="553.12" y="308.38" width="7.75" height="2.26" fill="#ec6f20"/>
<rect x="553.12" y="310.34" width="7.75" height="8.15" fill="#cd1b22"/>
<rect x="553.12" y="318.20" width="7.75" height="2.26" fill="#f5c620"/>
<rect x="553.12" y="320.16" width="7.75" height="2.26" fill="#62c6d1"/>
<rect x="553.12" y="322.12" width="7.75" height="2.26" fill="#4cbfe6"/>
<rect x="553.12" y="324.09" width="7.75" height="2.26" fill="#324ba7"/>
<rect x="553.12" y="326.05" width="7.75" height="4.23" fill="#3148a5"/>
<rect x="553.12" y="329.98" width="7.75" height="2.26" fill="#2f41a0"/>
<rect x="553.12" y="331.94" width="7.75" height="2.26" fill="#2f42a1"/>
<rect x="553.12" y="333.90" width="7.75" height="2.26" fill="#3147a4"/>
<rect x="553.12" y="335.87" width="7.75" height="2.26" fill="#2d3b9a"/>
<rect x="553.12" y="337.83" width="7.75" height="4.23" fill="#2c3897"/>
<rect x="553.12" y="341.76" width="7.75" height="2.26" fill="#2b3695"/>
<rect x="553.12" y="343.72" width="7.75" height="2.26" fill="#2b3594"/>
<rect x="553.12" y="345.68" width="7.75" height="2.26" fill="#2d3b9a"/>
<rect x="553.12" y="347.65" width="7.75" height="2.26" fill="#2d3b9b"/>
<rect x="553.12" y="349.61" width="7.75" height="2.26" fill="#2c3897"/>
<rect x="553.12" y="351.57" width="7.75" height="2.26" fill="#2c3998"/>
<rect x="553.12" y="353.54" width="7.75" height="2.26" fill="#2d3b9a"/>
<rect x="560.57" y="237.70" width="7.75" height="2.26" fill="#2d3b9b"/>
<rect x="560.57" y="239.66" width="7.75" height="2.26" fill="#2d3a9a"/>
<rect x="560.57" y="241.63" width="7.75" height="2.26" fill="#2c3897"/>
<rect x="560.57" y="243.59" width="7.75" height="2.26" fill="#2d3b9b"/>
<rect x="560.57" y="245.55" width="7.75" height="2.26" fill="#2d3a9a"/>
<rect x="560.57" y="247.52" width="7.75" height="2.26" fill="#2c3897"/>
<rect x="560.57" y="249.48" width="7.75" height="2.26" fill="#2b3594"/>
<rect x="560.57" y="251.44" width="7.75" height="2.26" fill="#2f42a1"/>
<rect x="560.57" y="253.41" width="7.75" height="2.26" fill="#2c3999"/>
<rect x="560.57" y="255.37" width="7.75" height="2.26" fill="#2c3795"/>
<rect x="560.57" y="257.33" width="7.75" height="2.26" fill="#3147a4"/>
<rect x="560.57" y="259.30" width="7.75" height="2.26" fill="#3044a2"/>
<rect x="560.57" y="261.26" width="7.75" height="2.26" fill="#3148a5"/>
<rect x="560.57" y="263.22" width="7.75" height="2.26" fill="#2f41a0"/>
<rect x="560.57" y="265.19" width="7.75" height="2.26" fill="#3147a4"/>
<rect x="560.57" y="267.15" width="7.75" height="2.26" fill="#4abfe7"/>
<rect x="560.57" y="269.11" width="7.75" height="2.26" fill="#60c6d5"/>
<rect x="560.57" y="271.08" width="7.75" height="2.26" fill="#f6d220"/>
<rect x="560.57" y="273.04" width="7.75" height="8.15" fill="#dd1c24"/>
<rect x="560.57" y="280.89" width="7.75" height="2.26" fill="#e85520"/>
<rect x="560.57" y="282.86" width="7.75" height="2.26" fill="#ede120"/>
<rect x="560.57" y="284.82" width="7.75" height="2.26" fill="#57c5e0"/>
<rect x="560.57" y="286.78" width="7.75" height="2.26" fill="#3c91d4"/>
<rect x="560.57" y="288.75" width="7.75" height="14.04" fill="#386dbe"/>
<rect x="560.57" y="302.49" width="7.75" height="2.26" fill="#3b7ec9"/>
<rect x="560.57" y="304.45" width="7.75" height="2.26" fill="#56c4e0"/>
<rect x="560.57" y="306.42" width="7.75" height="2.26" fill="#d9dc2f"/>
<rect x="560.57" y="308.38" width="7.75" height="2.26" fill="#ec7120"/>
<rect x="560.57" y="310.34" width="7.75" height="8.15" fill="#dd1c24"/>
<rect x="560.57" y="318.20" width="7.75" height="2.26" fill="#f5c620"/>
<rect x="560.57" y="320.16" width="7.75" height="2.26" fill="#62c6d1"/>
<rect x="560.57" y="322.12" width="7.75" height="2.26" fill="#4cbfe6"/>
<rect x="560.57" y="324.09" width="7.75" height="2.26" fill="#324ba7"/>
<rect x="560.57" y="326.05" width="7.75" height="2.26" fill="#2f41a0"/>
<rect x="560.57" y="328.01" width="7.75" height="2.26" fill="#2f42a1"/>
<rect x="560.57" y="329.98" width="7.75" height="2.26" fill="#3147a4"/>
<rect x="560.57" y="331.94" width="7.75" height="2.26" fill="#3148a5"/>
<rect x="560.57" y="333.90" width="7.75" height="2.26" fill="#2c3998"/>
<rect x="560.57" y="335.87" width="7.75" height="2.26" fill="#2c3999"/>
<rect x="560.57" y="337.83" width="7.75" height="2.26" fill="#2b3694"/>
<rect x="560.57" y="339.79" width="7.75" height="2.26" fill="#314aa6"/>
<rect x="560.57" y="341.76" width="7.75" height="4.23" fill="#2b3695"/>
<rect x="560.57" y="345.68" width="7.75" height="2.26" fill="#324aa6"/>
<rect x="560.57" y="347.65" width="7.75" height="2.26" fill="#2c3897"/>
<rect x="560.57" y="349.61" width="7.75" height="2.26" fill="#2c3998"/>
<rect x="560.57" y="351.57" width="7.75" height="2.26" fill="#2c3796"/>
<rect x="560.57" y="353.54" width="7.75" height="2.26" fill="#2c3998"/>
<rect x="568.02" y="237.70" width="7.75" height="2.26" fill="#2d3a99"/>
<rect x="568.02" y="239.66" width="7.75" height="4.23" fill="#2b3594"/>
<rect x="568.02" y="243.59" width="7.75" height="2.26" fill="#2d3a9a"/>
<rect x="568.02" y="245.55" width="7.75" height="2.26" fill="#2d3b9b"/>
<rect x="568.02" y="247.52" width="7.75" height="2.26" fill="#2b3594"/>
<rect x="568.02" y="249.48" width="7.75" height="2.26" fill="#3149a6"/>
<rect x="568.02" y="251.44" width="7.75" height="2.26" fill="#2c3897"/>
<rect x="568.02" y="253.41" width="7.75" height="2.26" fill="#2d3c9b"/>
<rect x="568.02" y="255.37" width="7.75" height="2.26" fill="#2c3998"/>
<rect x="568.02" y="257.33" width="7.75" height="2.26" fill="#324aa7"/>
<rect x="568.02" y="259.30" width="7.75" height="2.26" fill="#2f42a1"/>
<rect x="568.02" y="261.26" width="7.75" height="2.26" fill="#2f43a1"/>
<rect x="568.02" y="263.22" width="7.75" height="2.26" fill="#2f42a1"/>
<rect x="568.02" y="265.19" width="7.75" height="2.26" fill="#3147a4"/>
<rect x="568.02" y="267.15" width="7.75" height="2.26" fill="#4abfe7"/>
<rect x="568.02" y="269.11" width="7.75" height="2.26" fill="#60c6d5"/>
<rect x="568.02" y="271.08" width="7.75" height="2.26" fill="#f6d220"/>
<rect x="568.02" y="273.04" width="7.75" height="8.15" fill="#e31e23"/>
<rect x="568.02" y="280.89" width="7.75" height="2.26" fill="#e95a20"/>
<rect x="568.02" y="282.86" width="7.75" height="2.26" fill="#ede120"/>
<rect x="568.02" y="284.82" width="7.75" height="2.26" fill="#57c5e0"/>
<rect x="568.02" y="286.78" width="7.75" height="2.26" fill="#3c91d4"/>
<rect x="568.02" y="288.75" width="7.75" height="14.04" fill="#386dbe"/>
<rect x="568.02" y="302.49" width="7.75" height="2.26" fill="#3b7ec9"/>
<rect x="568.02" y="304.45" width="7.75" height="2.26" fill="#56c4e0"/>
<rect x="568.02" y="306.42" width="7.75" height="2.26" fill="#d9dc2f"/>
<rect x="568.02" y="308.38" width="7.75" height="2.26" fill="#ec7320"/>
<rect x="568.02" y="310.34" width="7.75" height="8.15" fill="#e31e23"/>
<rect x="568.02" y="318.20" width="7.75" height="2.26" fill="#f5c620"/>
<rect x="568.02" y="320.16" width="7.75" height="2.26" fill="#62c6d1"/>
<rect x="568.02" y="322.12" width="7.75" height="2.26" fill="#4cbfe6"/>
<rect x="568.02" y="324.09" width="7.75" height="2.26" fill="#324ba7"/>
<rect x="568.02" y="326.05" width="7.75" height="2.26" fill="#2f43a1"/>
<rect x="568.02" y="328.01" width="7.75" height="2.26" fill="#2f42a1"/>
<rect x="568.02" y="329.98" width="7.75" height="2.26" fill="#3148a5"/>
<rect x="568.02" y="331.94" width="7.75" height="2.26" fill="#2f40a0"/>
<rect x="568.02" y="333.90" width="7.75" height="2.26" fill="#2b3694"/>
<rect x="568.02" y="335.87" width="7.75" height="2.26" fill="#2d3a9a"/>
<rect x="568.02" y="337.83" width="7.75" height="2.26" fill="#2c3896"/>
<rect x="568.02" y="339.79" width="7.75" height="2.26" fill="#2d3a99"/>
<rect x="568.02" y="341.76" width="7.75" height="2.26" fill="#2c3998"/>
<rect x="568.02" y="343.72" width="7.75" height="2.26" fill="#2d3a9a"/>
<rect x="568.02" y="345.68" width="7.75" height="2.26" fill="#2c3796"/>
<rect x="568.02" y="347.65" width="7.75" height="2.26" fill="#2d3b9b"/>
<rect x="568.02" y="349.61" width="7.75" height="2.26" fill="#2f41a0"/>
<rect x="568.02" y="351.57" width="7.75" height="2.26" fill="#2c3897"/>
<rect x="568.02" y="353.54" width="7.75" height="2.26" fill="#2b3694"/>
<rect x="575.48" y="237.70" width="7.75" height="2.26" fill="#3146a4"/>
<rect x="575.48" y="239.66" width="7.75" height="2.26" fill="#2c3998"/>
<rect x="575.48" y="241.63" width="7.75" height="2.26" fill="#2c3897"/>
<rect x="575.48" y="243.59" width="7.75" height="2.26" fill="#2b3695"/>
<rect x="575.48" y="245.55" width="7.75" height="2.26" fill="#2d3a9a"/>
<rect x="575.48" y="247.52" width="7.75" height="2.26" fill="#2b3694"/>
<rect x="575.48" y="249.48" width="7.75" height="2.26" fill="#2d3b9a"/>
<rect x="575.48" y="251.44" width="7.75" height="2.26" fill="#2d3a9a"/>
<rect x="575.48" y="253.41" width="7.75" height="2.26" fill="#2c3897"/>
<rect x="575.48" y="255.37" width="7.75" height="2.26" fill="#2d3b9a"/>
<rect x="575.48" y="257.33" width="7.75" height="2.26" fill="#3044a2"/>
<rect x="575.48" y="259.30" width="7.75" height="2.26" fill="#324aa6"/>
<rect x="575.48" y="261.26" width="7.75" height="2.26" fill="#2f41a0"/>
<rect x="575.48" y="263.22" width="7.75" height="2.26" fill="#3046a4"/>
<rect x="575.48" y="265.19" width="7.75" height="2.26" fill="#3147a4"/>
<rect x="575.48" y="267.15" width="7.75" height="2.26" fill="#4abfe7"/>
<rect x="575.48" y="269.11" width="7.75" height="2.26" fill="#60c6d5"/>
<rect x="575.48" y="271.08" width="7.75" height="2.26" fill="#f6d220"/>
<rect x="575.48" y="273.04" width="7.75" height="8.15" fill="#e73821"/>
<rect x="575.48" y="280.89" width="7.75" height="2.26" fill="#eb6d20"/>
<rect x="575.48" y="282.86" width="7.75" height="2.26" fill="#ede120"/>
<rect x="575.48" y="284.82" width="7.75" height="2.26" fill="#57c5e0"/>
<rect x="575.48" y="286.78" width="7.75" height="2.26" fill="#3c91d4"/>
<rect x="575.48" y="288.75" width="7.75" height="14.04" fill="#386dbe"/>
<rect x="575.48" y="302.49" width="7.75" height="2.26" fill="#3b7ec9"/>
<rect x="575.48" y="304.45" width="7.75" height="2.26" fill="#56c4e0"/>
<rect x="575.48" y="306.42" width="7.75" height="2.26" fill="#d9dc2f"/>
<rect x="575.48" y="308.38" width="7.75" height="2.26" fill="#ed7d20"/>
<rect x="575.48" y="310.34" width="7.75" height="8.15" fill="#e73821"/>
<rect x="575.48" y="318.20" width="7.75" height="2.26" fill="#f5c620"/>
<rect x="575.48" y="320.16" width="7.75" height="2.26" fill="#62c6d1"/>
<rect x="575.48" y="322.12" width="7.75" height="2.26" fill="#4cbfe6"/>
<rect x="575.48" y="324.09" width="7.75" height="2.26" fill="#324ba7"/>
<rect x="575.48" y="326.05" width="7.75" height="2.26" fill="#2f41a0"/>
<rect x="575.48" y="328.01" width="7.75" height="4.23" fill="#3045a3"/>
<rect x="575.48" y="331.94" width="7.75" height="2.26" fill="#2e3f9f"/>
<rect x="575.48" y="333.90" width="7.75" height="4.23" fill="#2c3896"/>
<rect x="575.48" y="337.83" width="7.75" height="2.26" fill="#2d3a99"/>
<rect x="575.48" y="339.79" width="7.75" height="4.23" fill="#2d3b9b"/>
<rect x="575.48" y="343.72" width="7.75" height="2.26" fill="#2d3b9a"/>
<rect x="575.48" y="345.68" width="7.75" height="2.26" fill="#2c3796"/>
<rect x="575.48" y="347.65" width="7.75" height="2.26" fill="#2d3c9b"/>
<rect x="575.48" y="349.61" width="7.75" height="2.26" fill="#2c3796"/>
<rect x="575.48" y="351.57" width="7.75" height="2.26" fill="#2c3896"/>
<rect x="575.48" y="353.54" width="7.75" height="2.26" fill="#2c3897"/>
<rect x="582.93" y="237.70" width="7.75" height="2.26" fill="#2b3695"/>
<rect x="582.93" y="239.66" width="7.75" height="4.23" fill="#2d3b9a"/>
<rect x="582.93" y="243.59" width="7.75" height="2.26" fill="#2b3695"/>
<rect x="582.93" y="245.55" width="7.75" height="2.26" fill="#2d3b9b"/>
<rect x="582.93" y="247.52" width="7.75" height="2.26" fill="#2b3594"/>
<rect x="582.93" y="249.48" width="7.75" height="2.26" fill="#2c3998"/>
<rect x="582.93" y="251.44" width="7.75" height="2.26" fill="#2d3c9b"/>
<rect x="582.93" y="253.41" width="7.75" height="2.26" fill="#3045a3"/>
<rect x="582.93" y="255.37" width="7.75" height="2.26" fill="#2e3f9f"/>
<rect x="582.93" y="257.33" width="7.75" height="2.26" fill="#2f41a0"/>
<rect x="582.93" y="259.30" width="7.75" height="2.26" fill="#3148a5"/>
<rect x="582.93" y="261.26" width="7.75" height="2.26" fill="#2f43a1"/>
<rect x="582.93" y="263.22" width="7.75" height="2.26" fill="#3148a5"/>
<rect x="582.93" y="265.19" width="7.75" height="2.26" fill="#3147a4"/>
<rect x="582.93" y="267.15" width="7.75" height="2.26" fill="#4abfe7"/>
<rect x="582.93" y="269.11" width="7.75" height="2.26" fill="#60c6d5"/>
<rect x="582.93" y="271.08" width="7.75" height="2.26" fill="#f6d220"/>
<rect x="582.93" y="273.04" width="7.75" height="8.15" fill="#ea6420"/>
<rect x="582.93" y="280.89" width="7.75" height="2.26" fill="#ee7f20"/>
<rect x="582.93" y="282.86" width="7.75" height="2.26" fill="#ede120"/>
<rect x="582.93" y="284.82" width="7.75" height="2.26" fill="#57c5e0"/>
<rect x="582.93" y="286.78" width="7.75" height="2.26" fill="#3c91d4"/>
<rect x="582.93" y="288.75" width="7.75" height="14.04" fill="#386dbe"/>
<rect x="582.93" y="302.49" width="7.75" height="2.26" fill="#3b7ec9"/>
<rect x="582.93" y="304.45" width="7.75" height="2.26" fill="#56c4e0"/>
<rect x="582.93" y="306.42" width="7.75" height="2.26" fill="#d9dc2f"/>
<rect x="582.93" y="308.38" width="7.75" height="2.26" fill="#ef8620"/>
<rect x="582.93" y="310.34" width="7.75" height="8.15" fill="#ea6420"/>
<rect x="582.93" y="318.20" width="7.75" height="2.26" fill="#f5c620"/>
<rect x="582.93" y="320.16" width="7.75" height="2.26" fill="#62c6d1"/>
<rect x="582.93" y="322.12" width="7.75" height="2.26" fill="#4cbfe6"/>
<rect x="582.93" y="324.09" width="7.75" height="2.26" fill="#324ba7"/>
<rect x="582.93" y="326.05" width="7.75" height="2.26" fill="#3148a5"/>
<rect x="582.93" y="328.01" width="7.75" height="2.26" fill="#3043a2"/>
<rect x="582.93" y="329.98" width="7.75" height="2.26" fill="#3147a4"/>
<rect x="582.93" y="331.94" width="7.75" height="2.26" fill="#3045a3"/>
<rect x="582.93" y="333.90" width="7.75" height="4.23" fill="#2d3b9a"/>
<rect x="582.93" y="337.83" width="7.75" height="2.26" fill="#2d3c9b"/>
<rect x="582.93" y="339.79" width="7.75" height="2.26" fill="#2c3998"/>
<rect x="582.93" y="341.76" width="7.75" height="2.26" fill="#2d3b9a"/>
<rect x="582.93" y="343.72" width="7.75" height="2.26" fill="#2c3897"/>
<rect x="582.93" y="345.68" width="7.75" height="2.26" fill="#2d3a9a"/>
<rect x="582.93" y="347.65" width="7.75" height="2.26" fill="#2c3897"/>
<rect x="582.93" y="349.61" width="7.75" height="2.26" fill="#2b3695"/>
<rect x="582.93" y="351.57" width="7.75" height="2.26" fill="#2c3796"/>
<rect x="582.93" y="353.54" width="7.75" height="2.26" fill="#2b3594"/>
<rect x="590.38" y="237.70" width="7.75" height="2.26" fill="#2b3694"/>
<rect x="590.38" y="239.66" width="7.75" height="2.26" fill="#2d3a9a"/>
<rect x="590.38" y="241.63" width="7.75" height="2.26" fill="#2b3594"/>
<rect x="590.38" y="243.59" width="7.75" height="2.26" fill="#2c3998"/>
<rect x="590.38" y="245.55" width="7.75" height="2.26" fill="#2b3594"/>
<rect x="590.38" y="247.52" width="7.75" height="2.26" fill="#2b3695"/>
<rect x="590.38" y="249.48" width="7.75" height="2.26" fill="#2c3795"/>
<rect x="590.38" y="251.44" width="7.75" height="2.26" fill="#2c3998"/>
<rect x="590.38" y="253.41" width="7.75" height="4.23" fill="#2b3695"/>
<rect x="590.38" y="257.33" width="7.75" height="2.26" fill="#3149a5"/>
<rect x="590.38" y="259.30" width="7.75" height="2.26" fill="#3149a6"/>
<rect x="590.38" y="261.26" width="7.75" height="2.26" fill="#3046a4"/>
<rect x="590.38" y="263.22" width="7.75" height="2.26" fill="#2f43a1"/>
<rect x="590.38" y="265.19" width="7.75" height="2.26" fill="#3147a4"/>
<rect x="590.38" y="267.15" width="7.75" height="2.26" fill="#4abfe7"/>
<rect x="590.38" y="269.11" width="7.75" height="2.26" fill="#60c6d5"/>
<rect x="590.38" y="271.08" width="7.75" height="2.26" fill="#f6d520"/>
<rect x="590.38" y="273.04" width="7.75" height="10.12" fill="#f19720"/>
<rect x="590.38" y="282.86" width="7.75" height="2.26" fill="#ede120"/>
<rect x="590.38" y="284.82" width="7.75" height="2.26" fill="#57c5e0"/>
<rect x="590.38" y="286.78" width="7.75" height="2.26" fill="#3c91d4"/>
<rect x="590.38" y="288.75" width="7.75" height="14.04" fill="#386dbe"/>
<rect x="590.38" y="302.49" width="7.75" height="2.26" fill="#3b7ec9"/>
<rect x="590.38" y="304.45" width="7.75" height="2.26" fill="#56c4e0"/>
<rect x="590.38" y="306.42" width="7.75" height="2.26" fill="#d9dc2f"/>
<rect x="590.38" y="308.38" width="7.75" height="10.12" fill="#f19720"/>
<rect x="590.38" y="318.20" width="7.75" height="2.26" fill="#f5cb20"/>
<rect x="590.38" y="320.16" width="7.75" height="2.26" fill="#62c6d1"/>
<rect x="590.38" y="322.12" width="7.75" height="2.26" fill="#4cbfe6"/>
<rect x="590.38" y="324.09" width="7.75" height="2.26" fill="#324ba7"/>
<rect x="590.38" y="326.05" width="7.75" height="2.26" fill="#3046a4"/>
<rect x="590.38" y="328.01" width="7.75" height="2.26" fill="#3043a2"/>
<rect x="590.38" y="329.98" width="7.75" height="2.26" fill="#3045a3"/>
<rect x="590.38" y="331.94" width="7.75" height="2.26" fill="#2f42a1"/>
<rect x="590.38" y="333.90" width="7.75" height="2.26" fill="#2d3b9a"/>
<rect x="590.38" y="335.87" width="7.75" height="2.26" fill="#2c3998"/>
<rect x="590.38" y="337.83" width="7.75" height="2.26" fill="#2b3695"/>
<rect x="590.38" y="339.79" width="7.75" height="2.26" fill="#2c3796"/>
<rect x="590.38" y="341.76" width="7.75" height="2.26" fill="#2c3998"/>
<rect x="590.38" y="343.72" width="7.75" height="2.26" fill="#2d3c9c"/>
<rect x="590.38" y="345.68" width="7.75" height="2.26" fill="#2c3998"/>
<rect x="590.38" y="347.65" width="7.75" height="2.26" fill="#3148a5"/>
<rect x="590.38" y="349.61" width="7.75" height="2.26" fill="#2d3b9a"/>
<rect x="590.38" y="351.57" width="7.75" height="2.26" fill="#2b3694"/>
<rect x="590.38" y="353.54" width="7.75" height="2.26" fill="#3044a2"/>
<rect x="597.84" y="237.70" width="7.75" height="2.26" fill="#2c3897"/>
<rect x="597.84" y="239.66" width="7.75" height="2.26" fill="#2c3998"/>
<rect x="597.84" y="241.63" width="7.75" height="2.26" fill="#2c3796"/>
<rect x="597.84" y="243.59" width="7.75" height="2.26" fill="#2c3897"/>
<rect x="597.84" y="245.55" width="7.75" height="2.26" fill="#2b3694"/>
<rect x="597.84" y="247.52" width="7.75" height="2.26" fill="#2b3695"/>
<rect x="597.84" y="249.48" width="7.75" height="2.26" fill="#2c3998"/>
<rect x="597.84" y="251.44" width="7.75" height="2.26" fill="#2d3b9a"/>
<rect x="597.84" y="253.41" width="7.75" height="2.26" fill="#2f42a1"/>
<rect x="597.84" y="255.37" width="7.75" height="2.26" fill="#2c3897"/>
<rect x="597.84" y="257.33" width="7.75" height="2.26" fill="#2f42a0"/>
<rect x="597.84" y="259.30" width="7.75" height="2.26" fill="#324aa7"/>
<rect x="597.84" y="261.26" width="7.75" height="2.26" fill="#2f41a0"/>
<rect x="597.84" y="263.22" width="7.75" height="2.26" fill="#2f43a1"/>
<rect x="597.84" y="265.19" width="7.75" height="2.26" fill="#3147a4"/>
<rect x="597.84" y="267.15" width="7.75" height="2.26" fill="#4abfe7"/>
<rect x="597.84" y="269.11" width="7.75" height="2.26" fill="#60c6d5"/>
<rect x="597.84" y="271.08" width="7.75" height="2.26" fill="#f3d820"/>
<rect x="597.84" y="273.04" width="7.75" height="10.12" fill="#f3b220"/>
<rect x="597.84" y="282.86" width="7.75" height="2.26" fill="#ede120"/>
<rect x="597.84" y="284.82" width="7.75" height="2.26" fill="#57c5e0"/>
<rect x="597.84" y="286.78" width="7.75" height="2.26" fill="#3c91d4"/>
<rect x="597.84" y="288.75" width="7.75" height="14.04" fill="#386dbe"/>
<rect x="597.84" y="302.49" width="7.75" height="2.26" fill="#3b7ec9"/>
<rect x="597.84" y="304.45" width="7.75" height="2.26" fill="#56c4e0"/>
<rect x="597.84" y="306.42" width="7.75" height="2.26" fill="#d9dc2f"/>
<rect x="597.84" y="308.38" width="7.75" height="10.12" fill="#f3b220"/>
<rect x="597.84" y="318.20" width="7.75" height="2.26" fill="#f5d520"/>
<rect x="597.84" y="320.16" width="7.75" height="2.26" fill="#62c6d1"/>
<rect x="597.84" y="322.12" width="7.75" height="2.26" fill="#4cbfe6"/>
<rect x="597.84" y="324.09" width="7.75" height="2.26" fill="#324ba7"/>
<rect x="597.84" y="326.05" width="7.75" height="2.26" fill="#2e3e9e"/>
<rect x="597.84" y="328.01" width="7.75" height="2.26" fill="#2f409f"/>
<rect x="597.84" y="329.98" width="7.75" height="2.26" fill="#2f42a1"/>
<rect x="597.84" y="331.94" width="7.75" height="2.26" fill="#2f41a0"/>
<rect x="597.84" y="333.90" width="7.75" height="2.26" fill="#2c3897"/>
<rect x="597.84" y="335.87" width="7.75" height="2.26" fill="#2c3796"/>
<rect x="597.84" y="337.83" width="7.75" height="2.26" fill="#2d3a99"/>
<rect x="597.84" y="339.79" width="7.75" height="2.26" fill="#2d3c9b"/>
<rect x="597.84" y="341.76" width="7.75" height="2.26" fill="#2d3a99"/>
<rect x="597.84" y="343.72" width="7.75" height="2.26" fill="#2f409f"/>
<rect x="597.84" y="345.68" width="7.75" height="2.26" fill="#2b3694"/>
<rect x="597.84" y="347.65" width="7.75" height="2.26" fill="#2d3a99"/>
<rect x="597.84" y="349.61" width="7.75" height="2.26" fill="#2c3897"/>
<rect x="597.84" y="351.57" width="7.75" height="2.26" fill="#2f41a0"/>
<rect x="597.84" y="353.54" width="7.75" height="2.26" fill="#2b3695"/>
<rect x="605.29" y="237.70" width="7.75" height="2.26" fill="#314aa6"/>
<rect x="605.29" y="239.66" width="7.75" height="2.26" fill="#2c3897"/>
<rect x="605.29" y="241.63" width="7.75" height="2.26" fill="#2d3a99"/>
<rect x="605.29" y="243.59" width="7.75" height="2.26" fill="#2d3b9a"/>
<rect x="605.29" y="245.55" width="7.75" height="2.26" fill="#2c3796"/>
<rect x="605.29" y="247.52" width="7.75" height="2.26" fill="#2b3594"/>
<rect x="605.29" y="249.48" width="7.75" height="2.26" fill="#2d3a99"/>
<rect x="605.29" y="251.44" width="7.75" height="2.26" fill="#2d3b9a"/>
<rect x="605.29" y="253.41" width="7.75" height="2.26" fill="#2f42a1"/>
<rect x="605.29" y="255.37" width="7.75" height="2.26" fill="#2c3796"/>
<rect x="605.29" y="257.33" width="7.75" height="2.26" fill="#3046a3"/>
<rect x="605.29" y="259.30" width="7.75" height="2.26" fill="#3147a4"/>
<rect x="605.29" y="261.26" width="7.75" height="2.26" fill="#314aa6"/>
<rect x="605.29" y="263.22" width="7.75" height="2.26" fill="#3046a3"/>
<rect x="605.29" y="265.19" width="7.75" height="2.26" fill="#3147a4"/>
<rect x="605.29" y="267.15" width="7.75" height="2.26" fill="#4abfe7"/>
<rect x="605.29" y="269.11" width="7.75" height="2.26" fill="#60c6d5"/>
<rect x="605.29" y="271.08" width="7.75" height="2.26" fill="#f1db20"/>
<rect x="605.29" y="273.04" width="7.75" height="10.12" fill="#f5cb20"/>
<rect x="605.29" y="282.86" width="7.75" height="2.26" fill="#ece120"/>
<rect x="605.29" y="284.82" width="7.75" height="2.26" fill="#57c5e0"/>
<rect x="605.29" y="286.78" width="7.75" height="2.26" fill="#3c91d4"/>
<rect x="605.29" y="288.75" width="7.75" height="14.04" fill="#386dbe"/>
<rect x="605.29" y="302.49" width="7.75" height="2.26" fill="#3b7ec9"/>
<rect x="605.29" y="304.45" width="7.75" height="2.26" fill="#56c4e0"/>
<rect x="605.29" y="306.42" width="7.75" height="2.26" fill="#d9dc2f"/>
<rect x="605.29" y="308.38" width="7.75" height="10.12" fill="#f5cb20"/>
<rect x="605.29" y="318.20" width="7.75" height="2.26" fill="#f2d920"/>
<rect x="605.29" y="320.16" width="7.75" height="2.26" fill="#62c6d1"/>
<rect x="605.29" y="322.12" width="7.75" height="2.26" fill="#4cbfe6"/>
<rect x="605.29" y="324.09" width="7.75" height="2.26" fill="#324ba7"/>
<rect x="605.29" y="326.05" width="7.75" height="2.26" fill="#3148a5"/>
<rect x="605.29" y="328.01" width="7.75" height="2.26" fill="#3146a4"/>
<rect x="605.29" y="329.98" width="7.75" height="4.23" fill="#3044a2"/>
<rect x="605.29" y="333.90" width="7.75" height="2.26" fill="#2d3a99"/>
<rect x="605.29" y="335.87" width="7.75" height="2.26" fill="#2d3c9b"/>
<rect x="605.29" y="337.83" width="7.75" height="2.26" fill="#2c3897"/>
<rect x="605.29" y="339.79" width="7.75" height="2.26" fill="#2d3c9b"/>
<rect x="605.29" y="341.76" width="7.75" height="2.26" fill="#2d3b9b"/>
<rect x="605.29" y="343.72" width="7.75" height="2.26" fill="#2c3998"/>
<rect x="605.29" y="345.68" width="7.75" height="2.26" fill="#2c3796"/>
<rect x="605.29" y="347.65" width="7.75" height="2.26" fill="#2d3c9c"/>
<rect x="605.29" y="349.61" width="7.75" height="2.26" fill="#2c3998"/>
<rect x="605.29" y="351.57" width="7.75" height="2.26" fill="#2d3b9a"/>
<rect x="605.29" y="353.54" width="7.75" height="2.26" fill="#2d3b9b"/>
<rect x="612.74" y="237.70" width="7.75" height="2.26" fill="#2c3998"/>
<rect x="612.74" y="239.66" width="7.75" height="2.26" fill="#2b3695"/>
<rect x="612.74" y="241.63" width="7.75" height="2.26" fill="#2f40a0"/>
<rect x="612.74" y="243.59" width="7.75" height="2.26" fill="#2d3c9c"/>
<rect x="612.74" y="245.55" width="7.75" height="4.23" fill="#2d3a99"/>
<rect x="612.74" y="249.48" width="7.75" height="2.26" fill="#2c3897"/>
<rect x="612.74" y="251.44" width="7.75" height="2.26" fill="#2f40a0"/>
<rect x="612.74" y="253.41" width="7.75" height="4.23" fill="#2c3897"/>
<rect x="612.74" y="257.33" width="7.75" height="2.26" fill="#3043a2"/>
<rect x="612.74" y="259.30" width="7.75" height="2.26" fill="#3147a4"/>
<rect x="612.74" y="261.26" width="7.75" height="2.26" fill="#2f42a1"/>
<rect x="612.74" y="263.22" width="7.75" height="2.26" fill="#3045a3"/>
<rect x="612.74" y="265.19" width="7.75" height="2.26" fill="#3147a4"/>
<rect x="612.74" y="267.15" width="7.75" height="2.26" fill="#4abfe7"/>
<rect x="612.74" y="269.11" width="7.75" height="2.26" fill="#60c6d5"/>
<rect x="612.74" y="271.08" width="7.75" height="2.26" fill="#efde20"/>
<rect x="612.74" y="273.04" width="7.75" height="10.12" fill="#f3d920"/>
<rect x="612.74" y="282.86" width="7.75" height="2.26" fill="#ece220"/>
<rect x="612.74" y="284.82" width="7.75" height="2.26" fill="#57c5e0"/>
<rect x="612.74" y="286.78" width="7.75" height="2.26" fill="#3c91d4"/>
<rect x="612.74" y="288.75" width="7.75" height="14.04" fill="#386dbe"/>
<rect x="612.74" y="302.49" width="7.75" height="2.26" fill="#3b7ec9"/>
<rect x="612.74" y="304.45" width="7.75" height="2.26" fill="#56c4e0"/>
<rect x="612.74" y="306.42" width="7.75" height="2.26" fill="#d9dc2f"/>
<rect x="612.74" y="308.38" width="7.75" height="10.12" fill="#f3d920"/>
<rect x="612.74" y="318.20" width="7.75" height="2.26" fill="#f0dd20"/>
<rect x="612.74" y="320.16" width="7.75" height="2.26" fill="#62c6d1"/>
<rect x="612.74" y="322.12" width="7.75" height="2.26" fill="#4cbfe6"/>
<rect x="612.74" y="324.09" width="7.75" height="2.26" fill="#324ba7"/>
<rect x="612.74" y="326.05" width="7.75" height="2.26" fill="#3045a3"/>
<rect x="612.74" y="328.01" width="7.75" height="2.26" fill="#2f43a1"/>
<rect x="612.74" y="329.98" width="7.75" height="2.26" fill="#3147a4"/>
<rect x="612.74" y="331.94" width="7.75" height="2.26" fill="#3044a2"/>
<rect x="612.74" y="333.90" width="7.75" height="2.26" fill="#2d3b9b"/>
<rect x="612.74" y="335.87" width="7.75" height="2.26" fill="#2c3998"/>
<rect x="612.74" y="337.83" width="7.75" height="2.26" fill="#2d3b9b"/>
<rect x="612.74" y="339.79" width="7.75" height="2.26" fill="#2b3594"/>
<rect x="612.74" y="341.76" width="7.75" height="2.26" fill="#2d3b9b"/>
<rect x="612.74" y="343.72" width="7.75" height="2.26" fill="#2c3998"/>
<rect x="612.74" y="345.68" width="7.75" height="2.26" fill="#2c3796"/>
<rect x="612.74" y="347.65" width="7.75" height="2.26" fill="#2b3594"/>
<rect x="612.74" y="349.61" width="7.75" height="2.26" fill="#2c3897"/>
<rect x="612.74" y="351.57" width="7.75" height="2.26" fill="#3147a4"/>
<rect x="612.74" y="353.54" width="7.75" height="2.26" fill="#2c3998"/>
<rect x="620.19" y="237.70" width="7.75" height="2.26" fill="#2c3796"/>
<rect x="620.19" y="239.66" width="7.75" height="2.26" fill="#3149a6"/>
<rect x="620.19" y="241.63" width="7.75" height="2.26" fill="#2d3c9b"/>
<rect x="620.19" y="243.59" width="7.75" height="2.26" fill="#2d3b9b"/>
<rect x="620.19" y="245.55" width="7.75" height="2.26" fill="#2d3b9a"/>
<rect x="620.19" y="247.52" width="7.75" height="2.26" fill="#2d3a9a"/>
<rect x="620.19" y="249.48" width="7.75" height="2.26" fill="#3148a5"/>
<rect x="620.19" y="251.44" width="7.75" height="2.26" fill="#2b3695"/>
<rect x="620.19" y="253.41" width="7.75" height="2.26" fill="#2f41a0"/>
<rect x="620.19" y="255.37" width="7.75" height="2.26" fill="#2c3796"/>
<rect x="620.19" y="257.33" width="7.75" height="2.26" fill="#3149a5"/>
<rect x="620.19" y="259.30" width="7.75" height="2.26" fill="#3146a4"/>
<rect x="620.19" y="261.26" width="7.75" height="2.26" fill="#3044a2"/>
<rect x="620.19" y="263.22" width="7.75" height="2.26" fill="#324aa7"/>
<rect x="620.19" y="265.19" width="7.75" height="2.26" fill="#3147a4"/>
<rect x="620.19" y="267.15" width="7.75" height="2.26" fill="#4abfe7"/>
<rect x="620.19" y="269.11" width="7.75" height="2.26" fill="#60c6d5"/>
<rect x="620.19" y="271.08" width="7.75" height="2.26" fill="#ede120"/>
<rect x="620.19" y="273.04" width="7.75" height="10.12" fill="#eee020"/>
<rect x="620.19" y="282.86" width="7.75" height="2.26" fill="#ece220"/>
<rect x="620.19" y="284.82" width="7.75" height="2.26" fill="#57c5e0"/>
<rect x="620.19" y="286.78" width="7.75" height="2.26" fill="#3c91d4"/>
<rect x="620.19" y="288.75" width="7.75" height="14.04" fill="#386dbe"/>
<rect x="620.19" y="302.49" width="7.75" height="2.26" fill="#3b7ec9"/>
<rect x="620.19" y="304.45" width="7.75" height="2.26" fill="#56c4e0"/>
<rect x="620.19" y="306.42" width="7.75" height="2.26" fill="#d9dc2f"/>
<rect x="620.19" y="308.38" width="7.75" height="10.12" fill="#eee020"/>
<rect x="620.19" y="318.20" width="7.75" height="2.26" fill="#ede120"/>
<rect x="620.19" y="320.16" width="7.75" height="2.26" fill="#62c6d1"/>
<rect x="620.19" y="322.12" width="7.75" height="2.26" fill="#4cbfe6"/>
<rect x="620.19" y="324.09" width="7.75" height="2.26" fill="#324ba7"/>
<rect x="620.19" y="326.05" width="7.75" height="2.26" fill="#2f41a0"/>
<rect x="620.19" y="328.01" width="7.75" height="2.26" fill="#2f409f"/>
<rect x="620.19" y="329.98" width="7.75" height="2.26" fill="#2f43a1"/>
<rect x="620.19" y="331.94" width="7.75" height="2.26" fill="#3148a5"/>
<rect x="620.19" y="333.90" width="7.75" height="4.23" fill="#2b3695"/>
<rect x="620.19" y="337.83" width="7.75" height="2.26" fill="#2b3594"/>
<rect x="620.19" y="339.79" width="7.75" height="2.26" fill="#2d3a99"/>
<rect x="620.19" y="341.76" width="7.75" height="2.26" fill="#2d3b9b"/>
<rect x="620.19" y="343.72" width="7.75" height="4.23" fill="#2d3a99"/>
<rect x="620.19" y="347.65" width="7.75" height="2.26" fill="#2f41a0"/>
<rect x="620.19" y="349.61" width="7.75" height="2.26" fill="#2c3796"/>
<rect x="620.19" y="351.57" width="7.75" height="2.26" fill="#2b3695"/>
<rect x="620.19" y="353.54" width="7.75" height="2.26" fill="#2c3795"/>
<rect x="627.65" y="237.70" width="7.75" height="2.26" fill="#2d3b9a"/>
<rect x="627.65" y="239.66" width="7.75" height="2.26" fill="#2d3a99"/>
<rect x="627.65" y="241.63" width="7.75" height="2.26" fill="#2c3998"/>
<rect x="627.65" y="243.59" width="7.75" height="2.26" fill="#2c3796"/>
<rect x="627.65" y="245.55" width="7.75" height="2.26" fill="#2d3a99"/>
<rect x="627.65" y="247.52" width="7.75" height="2.26" fill="#324aa7"/>
<rect x="627.65" y="249.48" width="7.75" height="2.26" fill="#2c3897"/>
<rect x="627.65" y="251.44" width="7.75" height="2.26" fill="#3045a3"/>
<rect x="627.65" y="253.41" width="7.75" height="2.26" fill="#2c3796"/>
<rect x="627.65" y="255.37" width="7.75" height="2.26" fill="#2f42a0"/>
<rect x="627.65" y="257.33" width="7.75" height="2.26" fill="#3043a2"/>
<rect x="627.65" y="259.30" width="7.75" height="2.26" fill="#3149a6"/>
<rect x="627.65" y="261.26" width="7.75" height="2.26" fill="#3148a5"/>
<rect x="627.65" y="263.22" width="7.75" height="2.26" fill="#3045a3"/>
<rect x="627.65" y="265.19" width="7.75" height="2.26" fill="#3147a4"/>
<rect x="627.65" y="267.15" width="7.75" height="2.26" fill="#4abfe7"/>
<rect x="627.65" y="269.11" width="7.75" height="2.26" fill="#60c6d5"/>
<rect x="627.65" y="271.08" width="7.75" height="14.04" fill="#dcdd2c"/>
<rect x="627.65" y="284.82" width="7.75" height="2.26" fill="#57c5e0"/>
<rect x="627.65" y="286.78" width="7.75" height="2.26" fill="#3c91d4"/>
<rect x="627.65" y="288.75" width="7.75" height="14.04" fill="#386dbe"/>
<rect x="627.65" y="302.49" width="7.75" height="2.26" fill="#3b7ec9"/>
<rect x="627.65" y="304.45" width="7.75" height="2.26" fill="#56c4e0"/>
<rect x="627.65" y="306.42" width="7.75" height="2.26" fill="#cbd83a"/>
<rect x="627.65" y="308.38" width="7.75" height="12.08" fill="#dcdd2c"/>
<rect x="627.65" y="320.16" width="7.75" height="2.26" fill="#62c6d1"/>
<rect x="627.65" y="322.12" width="7.75" height="2.26" fill="#4cbfe6"/>
<rect x="627.65" y="324.09" width="7.75" height="2.26" fill="#324ba7"/>
<rect x="627.65" y="326.05" width="7.75" height="2.26" fill="#3044a3"/>
<rect x="627.65" y="328.01" width="7.75" height="2.26" fill="#3046a3"/>
<rect x="627.65" y="329.98" width="7.75" height="2.26" fill="#3146a4"/>
<rect x="627.65" y="331.94" width="7.75" height="2.26" fill="#3148a5"/>
<rect x="627.65" y="333.90" width="7.75" height="4.23" fill="#2b3695"/>
<rect x="627.65" y="337.83" width="7.75" height="2.26" fill="#2c3795"/>
<rect x="627.65" y="339.79" width="7.75" height="2.26" fill="#2d3a9a"/>
<rect x="627.65" y="341.76" width="7.75" height="2.26" fill="#2d3b9a"/>
<rect x="627.65" y="343.72" width="7.75" height="2.26" fill="#2c3897"/>
<rect x="627.65" y="345.68" width="7.75" height="2.26" fill="#2c3998"/>
<rect x="627.65" y="347.65" width="7.75" height="2.26" fill="#2b3594"/>
<rect x="627.65" y="349.61" width="7.75" height="2.26" fill="#2d3a99"/>
<rect x="627.65" y="351.57" width="7.75" height="2.26" fill="#2d3b9b"/>
<rect x="627.65" y="353.54" width="7.75" height="2.26" fill="#3044a2"/>
</g></g>
<text transform="translate(535.60,258.50)" font-size="11" text-anchor="start" fill="#eef1fa" textLength="52" lengthAdjust="spacingAndGlyphs" >Electric field</text>
<line x1="591" y1="255.9" x2="614.00" y2="255.90" stroke="#f2f4fb" stroke-width="0.9"/>
<polygon points="618,255.9 613.00,258.20 614.20,255.90 613.00,253.60" fill="#f2f4fb"/>
<rect x="642" y="237.5" width="9.3" height="118" fill="url(#cbv)"/>
<text transform="translate(655.20,267.10) scale(0.93,1)" font-size="11" text-anchor="start" fill="#444" >34</text>
<text transform="translate(655.20,316.30) scale(0.93,1)" font-size="11" text-anchor="start" fill="#444" >17</text>
<text transform="translate(671.40,297.40) rotate(90)" font-size="11" text-anchor="middle" fill="#444" textLength="49.3" lengthAdjust="spacingAndGlyphs" ><tspan font-style="italic">J</tspan> (nA µm<tspan font-size="7.5" dy="-4.3">−1</tspan><tspan dy="4.3">)</tspan></text>
<text transform="translate(461.80,243.00)" font-size="11.5" text-anchor="start" fill="#1a1a1a" font-weight="bold">e</text>
<text transform="translate(504.10,253.50) scale(0.93,1)" font-size="11" text-anchor="end" fill="#444" >0.8</text>
<text transform="translate(504.10,276.80) scale(0.93,1)" font-size="11" text-anchor="end" fill="#444" >0.4</text>
<text transform="translate(504.10,300.60) scale(0.93,1)" font-size="11" text-anchor="end" fill="#444" >0.0</text>
<text transform="translate(504.10,324.60) scale(0.93,1)" font-size="11" text-anchor="end" fill="#444" >−0.4</text>
<text transform="translate(504.10,347.90) scale(0.93,1)" font-size="11" text-anchor="end" fill="#444" >−0.8</text>
<text transform="translate(477.50,297.30) rotate(-90)" font-size="11" text-anchor="middle" fill="#444" textLength="68.6" lengthAdjust="spacingAndGlyphs" >Position, <tspan font-style="italic">x</tspan> (µm)</text>
<text transform="translate(512.20,366.10) scale(0.93,1)" font-size="11" text-anchor="middle" fill="#444" >−8</text>
<text transform="translate(542.20,366.10) scale(0.93,1)" font-size="11" text-anchor="middle" fill="#444" >−6</text>
<text transform="translate(572.20,366.10) scale(0.93,1)" font-size="11" text-anchor="middle" fill="#444" >−4</text>
<text transform="translate(602.20,366.10) scale(0.93,1)" font-size="11" text-anchor="middle" fill="#444" >−2</text>
<text transform="translate(635.10,366.10) scale(0.93,1)" font-size="11" text-anchor="middle" fill="#444" >0</text>
<text transform="translate(571.00,380.50)" font-size="11" text-anchor="middle" fill="#444" textLength="92" lengthAdjust="spacingAndGlyphs" >Back gate voltage (V)</text>
<g clip-path="url(#cpf0)">
<rect x="304.4" y="397.6" width="82.0" height="76.59999999999997" fill="#386cbd"/>
<line x1="346.0" y1="474.2" x2="195.5" y2="393.6" stroke="#3a77c5" stroke-width="4" filter="url(#bl2)"/>
<line x1="346.0" y1="474.2" x2="274.0" y2="393.6" stroke="#3a77c5" stroke-width="4" filter="url(#bl2)"/>
<line x1="346.0" y1="474.2" x2="313.7" y2="393.6" stroke="#3a77c5" stroke-width="4" filter="url(#bl2)"/>
<line x1="346.0" y1="474.2" x2="378.3" y2="393.6" stroke="#3a77c5" stroke-width="4" filter="url(#bl2)"/>
<line x1="346.0" y1="474.2" x2="418.0" y2="393.6" stroke="#3a77c5" stroke-width="4" filter="url(#bl2)"/>
<line x1="346.0" y1="474.2" x2="496.5" y2="393.6" stroke="#3a77c5" stroke-width="4" filter="url(#bl2)"/>
<rect x="304.4" y="464.2" width="82.0" height="9" fill="#3970c0" filter="url(#bl2)"/>
<polygon points="289.5,476.2 290.5,474.1 291.6,472.0 292.6,470.0 293.7,468.1 294.7,466.3 295.8,464.5 296.8,462.9 297.8,461.4 298.9,460.0 299.9,458.7 301.0,457.7 302.0,457.0 303.0,457.7 304.1,458.7 305.1,460.0 306.2,461.4 307.2,462.9 308.2,464.5 309.3,466.3 310.3,468.1 311.4,470.0 312.4,472.0 313.5,474.1 314.5,476.2" fill="#3fafe5" filter="url(#bl1)"/>
<polygon points="303.2,476.2 304.3,473.2 305.4,470.3 306.4,467.4 307.5,464.7 308.6,462.1 309.7,459.7 310.8,457.3 311.9,455.2 312.9,453.2 314.0,451.4 315.1,449.9 316.2,449.0 317.3,449.9 318.4,451.4 319.4,453.2 320.5,455.2 321.6,457.3 322.7,459.7 323.8,462.1 324.9,464.7 325.9,467.4 327.0,470.3 328.1,473.2 329.2,476.2" fill="#3fafe5" filter="url(#bl1)"/>
<polygon points="318.8,476.2 319.9,472.2 321.0,468.4 322.1,464.7 323.1,461.2 324.2,457.7 325.3,454.5 326.4,451.4 327.5,448.6 328.6,446.0 329.6,443.7 330.7,441.7 331.8,440.5 332.9,441.7 334.0,443.7 335.1,446.0 336.1,448.6 337.2,451.4 338.3,454.5 339.4,457.7 340.5,461.2 341.6,464.7 342.6,468.4 343.7,472.2 344.8,476.2" fill="#3fafe5" filter="url(#bl1)"/>
<polygon points="377.5,476.2 378.5,474.1 379.6,472.0 380.6,470.0 381.7,468.1 382.7,466.3 383.8,464.5 384.8,462.9 385.8,461.4 386.9,460.0 387.9,458.7 389.0,457.7 390.0,457.0 391.0,457.7 392.1,458.7 393.1,460.0 394.2,461.4 395.2,462.9 396.2,464.5 397.3,466.3 398.3,468.1 399.4,470.0 400.4,472.0 401.5,474.1 402.5,476.2" fill="#3fafe5" filter="url(#bl1)"/>
<polygon points="362.8,476.2 363.9,473.2 365.0,470.3 366.1,467.4 367.1,464.7 368.2,462.1 369.3,459.7 370.4,457.3 371.5,455.2 372.6,453.2 373.6,451.4 374.7,449.9 375.8,449.0 376.9,449.9 378.0,451.4 379.1,453.2 380.1,455.2 381.2,457.3 382.3,459.7 383.4,462.1 384.5,464.7 385.6,467.4 386.6,470.3 387.7,473.2 388.8,476.2" fill="#3fafe5" filter="url(#bl1)"/>
<polygon points="347.2,476.2 348.3,472.2 349.4,468.4 350.4,464.7 351.5,461.2 352.6,457.7 353.7,454.5 354.8,451.4 355.9,448.6 356.9,446.0 358.0,443.7 359.1,441.7 360.2,440.5 361.3,441.7 362.4,443.7 363.4,446.0 364.5,448.6 365.6,451.4 366.7,454.5 367.8,457.7 368.9,461.2 369.9,464.7 371.0,468.4 372.1,472.2 373.2,476.2" fill="#3fafe5" filter="url(#bl1)"/>
<polygon points="331.5,476.2 332.7,469.5 333.9,462.8 335.1,456.1 336.3,449.5 337.5,443.0 338.8,436.6 340.0,430.2 341.2,424.0 342.4,417.8 343.6,411.9 344.8,406.1 346.0,401.0 347.2,406.1 348.4,411.9 349.6,417.8 350.8,424.0 352.0,430.2 353.2,436.6 354.5,443.0 355.7,449.5 356.9,456.1 358.1,462.8 359.3,469.5 360.5,476.2" fill="#3fafe5" filter="url(#bl1)"/>
<polygon points="292.7,476.2 293.5,474.5 294.2,472.9 295.0,471.3 295.8,469.8 296.6,468.3 297.4,467.0 298.1,465.7 298.9,464.4 299.7,463.3 300.4,462.4 301.2,461.5 302.0,461.0 302.8,461.5 303.6,462.4 304.3,463.3 305.1,464.4 305.9,465.7 306.6,467.0 307.4,468.3 308.2,469.8 309.0,471.3 309.8,472.9 310.5,474.5 311.3,476.2" fill="#5ac6de" filter="url(#bl05)"/>
<polygon points="306.4,476.2 307.2,473.6 308.0,471.1 308.8,468.7 309.7,466.4 310.5,464.2 311.3,462.1 312.1,460.1 312.9,458.3 313.8,456.6 314.6,455.1 315.4,453.8 316.2,453.0 317.0,453.8 317.8,455.1 318.6,456.6 319.5,458.3 320.3,460.1 321.1,462.1 321.9,464.2 322.7,466.4 323.6,468.7 324.4,471.1 325.2,473.6 326.0,476.2" fill="#5ac6de" filter="url(#bl05)"/>
<polygon points="322.0,476.2 322.8,472.7 323.6,469.3 324.4,466.0 325.3,462.8 326.1,459.8 326.9,456.9 327.7,454.2 328.5,451.7 329.4,449.4 330.2,447.3 331.0,445.6 331.8,444.5 332.6,445.6 333.4,447.3 334.2,449.4 335.1,451.7 335.9,454.2 336.7,456.9 337.5,459.8 338.3,462.8 339.2,466.0 340.0,469.3 340.8,472.7 341.6,476.2" fill="#5ac6de" filter="url(#bl05)"/>
<polygon points="380.7,476.2 381.5,474.5 382.2,472.9 383.0,471.3 383.8,469.8 384.6,468.3 385.4,467.0 386.1,465.7 386.9,464.4 387.7,463.3 388.4,462.4 389.2,461.5 390.0,461.0 390.8,461.5 391.6,462.4 392.3,463.3 393.1,464.4 393.9,465.7 394.6,467.0 395.4,468.3 396.2,469.8 397.0,471.3 397.8,472.9 398.5,474.5 399.3,476.2" fill="#5ac6de" filter="url(#bl05)"/>
<polygon points="366.0,476.2 366.8,473.6 367.6,471.1 368.4,468.7 369.3,466.4 370.1,464.2 370.9,462.1 371.7,460.1 372.5,458.3 373.4,456.6 374.2,455.1 375.0,453.8 375.8,453.0 376.6,453.8 377.4,455.1 378.2,456.6 379.1,458.3 379.9,460.1 380.7,462.1 381.5,464.2 382.3,466.4 383.2,468.7 384.0,471.1 384.8,473.6 385.6,476.2" fill="#5ac6de" filter="url(#bl05)"/>
<polygon points="350.4,476.2 351.2,472.7 352.0,469.3 352.8,466.0 353.7,462.8 354.5,459.8 355.3,456.9 356.1,454.2 356.9,451.7 357.8,449.4 358.6,447.3 359.4,445.6 360.2,444.5 361.0,445.6 361.8,447.3 362.6,449.4 363.5,451.7 364.3,454.2 365.1,456.9 365.9,459.8 366.7,462.8 367.6,466.0 368.4,469.3 369.2,472.7 370.0,476.2" fill="#5ac6de" filter="url(#bl05)"/>
<polyline points="335.1,476.2 336.0,469.8 336.9,463.5 337.8,457.2 338.7,451.0 339.6,444.8 340.6,438.7 341.5,432.7 342.4,426.7 343.3,420.9 344.2,415.3 345.1,409.9 346.0,405.0 346.9,409.9 347.8,415.3 348.7,420.9 349.6,426.7 350.5,432.7 351.4,438.7 352.4,444.8 353.3,451.0 354.2,457.2 355.1,463.5 356.0,469.8 356.9,476.2" fill="none" stroke="#70c7bb" stroke-width="2.4"/>
<polygon points="297.8,467.4 298.1,466.8 298.5,466.2 298.8,465.6 299.2,465.1 299.5,464.5 299.9,464.0 300.2,463.5 300.6,463.1 300.9,462.7 301.3,462.3 301.6,462.0 302.0,461.8 302.4,462.0 302.7,462.3 303.1,462.7 303.4,463.1 303.8,463.5 304.1,464.0 304.5,464.5 304.8,465.1 305.2,465.6 305.5,466.2 305.9,466.8 306.2,467.4" fill="#a2ce67" filter="url(#bl05)"/>
<polygon points="311.7,462.6 312.1,461.6 312.4,460.7 312.8,459.8 313.2,458.9 313.6,458.0 313.9,457.2 314.3,456.5 314.7,455.8 315.1,455.2 315.4,454.6 315.8,454.1 316.2,453.8 316.6,454.1 316.9,454.6 317.3,455.2 317.7,455.8 318.1,456.5 318.4,457.2 318.8,458.0 319.2,458.9 319.6,459.8 319.9,460.7 320.3,461.6 320.7,462.6" fill="#a2ce67" filter="url(#bl05)"/>
<polygon points="327.3,457.4 327.7,456.1 328.1,454.8 328.4,453.5 328.8,452.3 329.2,451.2 329.6,450.1 329.9,449.0 330.3,448.1 330.7,447.2 331.1,446.4 331.4,445.7 331.8,445.3 332.2,445.7 332.6,446.4 332.9,447.2 333.3,448.1 333.7,449.0 334.1,450.1 334.4,451.2 334.8,452.3 335.2,453.5 335.6,454.8 335.9,456.1 336.3,457.4" fill="#ece220" filter="url(#bl05)"/>
<polygon points="385.8,467.4 386.1,466.8 386.5,466.2 386.8,465.6 387.2,465.1 387.5,464.5 387.9,464.0 388.2,463.5 388.6,463.1 388.9,462.7 389.3,462.3 389.6,462.0 390.0,461.8 390.4,462.0 390.7,462.3 391.1,462.7 391.4,463.1 391.8,463.5 392.1,464.0 392.5,464.5 392.8,465.1 393.2,465.6 393.5,466.2 393.9,466.8 394.2,467.4" fill="#a2ce67" filter="url(#bl05)"/>
<polygon points="371.3,462.6 371.7,461.6 372.1,460.7 372.4,459.8 372.8,458.9 373.2,458.0 373.6,457.2 373.9,456.5 374.3,455.8 374.7,455.2 375.1,454.6 375.4,454.1 375.8,453.8 376.2,454.1 376.6,454.6 376.9,455.2 377.3,455.8 377.7,456.5 378.1,457.2 378.4,458.0 378.8,458.9 379.2,459.8 379.6,460.7 379.9,461.6 380.3,462.6" fill="#a2ce67" filter="url(#bl05)"/>
<polygon points="355.7,457.4 356.1,456.1 356.4,454.8 356.8,453.5 357.2,452.3 357.6,451.2 357.9,450.1 358.3,449.0 358.7,448.1 359.1,447.2 359.4,446.4 359.8,445.7 360.2,445.3 360.6,445.7 360.9,446.4 361.3,447.2 361.7,448.1 362.1,449.0 362.4,450.1 362.8,451.2 363.2,452.3 363.6,453.5 363.9,454.8 364.3,456.1 364.7,457.4" fill="#ece220" filter="url(#bl05)"/>
<polyline points="335.1,476.2 336.0,469.8 336.9,463.5 337.8,457.2 338.7,451.0 339.6,444.8 340.6,438.7 341.5,432.7 342.4,426.7 343.3,420.9 344.2,415.3 345.1,409.9 346.0,405.0 346.9,409.9 347.8,415.3 348.7,420.9 349.6,426.7 350.5,432.7 351.4,438.7 352.4,444.8 353.3,451.0 354.2,457.2 355.1,463.5 356.0,469.8 356.9,476.2" fill="none" stroke="#efdd20" stroke-width="2.2" stroke-dasharray="2.4 2.4" filter="url(#bl05)"/>
<ellipse cx="302.0" cy="463.7" rx="2.6" ry="1.6" fill="#80c8a0" filter="url(#bl05)"/>
<ellipse cx="316.2" cy="456.6" rx="2.6" ry="1.8" fill="#ece220" filter="url(#bl05)"/>
<ellipse cx="331.8" cy="449.4" rx="2.6" ry="2.4" fill="#f2a020" filter="url(#bl05)"/>
<ellipse cx="390.0" cy="463.7" rx="2.6" ry="1.6" fill="#80c8a0" filter="url(#bl05)"/>
<ellipse cx="375.8" cy="456.6" rx="2.6" ry="1.8" fill="#ece220" filter="url(#bl05)"/>
<ellipse cx="360.2" cy="449.4" rx="2.6" ry="2.4" fill="#f2a020" filter="url(#bl05)"/>
<polyline points="340.0,442.3 340.5,439.0 341.0,435.7 341.5,432.4 342.0,429.1 342.5,425.9 343.0,422.7 343.5,419.5 344.0,416.4 344.5,413.4 345.0,410.4 345.5,407.6 346.0,405.0 346.5,407.6 347.0,410.4 347.5,413.4 348.0,416.4 348.5,419.5 349.0,422.7 349.5,425.9 350.0,429.1 350.5,432.4 351.0,435.7 351.5,439.0 352.0,442.3" fill="none" stroke="#e85220" stroke-width="2" stroke-dasharray="1.4 3.4" filter="url(#bl05)"/>
<polygon points="297.5,476.2 297.9,475.2 298.2,474.2 298.6,473.2 299.0,472.3 299.4,471.4 299.8,470.6 300.1,469.8 300.5,469.1 300.9,468.4 301.2,467.8 301.6,467.3 302.0,467.0 302.4,467.3 302.8,467.8 303.1,468.4 303.5,469.1 303.9,469.8 304.2,470.6 304.6,471.4 305.0,472.3 305.4,473.2 305.8,474.2 306.1,475.2 306.5,476.2" fill="#2a3290"/>
<polygon points="311.2,476.2 311.6,474.5 312.0,472.9 312.4,471.3 312.9,469.8 313.3,468.3 313.7,467.0 314.1,465.7 314.5,464.4 314.9,463.3 315.4,462.4 315.8,461.5 316.2,461.0 316.6,461.5 317.0,462.4 317.4,463.3 317.9,464.4 318.3,465.7 318.7,467.0 319.1,468.3 319.5,469.8 319.9,471.3 320.4,472.9 320.8,474.5 321.2,476.2" fill="#2a3290"/>
<polygon points="326.8,476.2 327.2,473.9 327.6,471.7 328.1,469.5 328.5,467.5 328.9,465.5 329.3,463.6 329.7,461.8 330.1,460.2 330.6,458.7 331.0,457.3 331.4,456.2 331.8,455.5 332.2,456.2 332.6,457.3 333.1,458.7 333.5,460.2 333.9,461.8 334.3,463.6 334.7,465.5 335.1,467.5 335.6,469.5 336.0,471.7 336.4,473.9 336.8,476.2" fill="#2a3290"/>
<polygon points="385.5,476.2 385.9,475.2 386.2,474.2 386.6,473.2 387.0,472.3 387.4,471.4 387.8,470.6 388.1,469.8 388.5,469.1 388.9,468.4 389.2,467.8 389.6,467.3 390.0,467.0 390.4,467.3 390.8,467.8 391.1,468.4 391.5,469.1 391.9,469.8 392.2,470.6 392.6,471.4 393.0,472.3 393.4,473.2 393.8,474.2 394.1,475.2 394.5,476.2" fill="#2a3290"/>
<polygon points="370.8,476.2 371.2,474.5 371.6,472.9 372.1,471.3 372.5,469.8 372.9,468.3 373.3,467.0 373.7,465.7 374.1,464.4 374.6,463.3 375.0,462.4 375.4,461.5 375.8,461.0 376.2,461.5 376.6,462.4 377.1,463.3 377.5,464.4 377.9,465.7 378.3,467.0 378.7,468.3 379.1,469.8 379.6,471.3 380.0,472.9 380.4,474.5 380.8,476.2" fill="#2a3290"/>
<polygon points="355.2,476.2 355.6,473.9 356.0,471.7 356.4,469.5 356.9,467.5 357.3,465.5 357.7,463.6 358.1,461.8 358.5,460.2 358.9,458.7 359.4,457.3 359.8,456.2 360.2,455.5 360.6,456.2 361.0,457.3 361.4,458.7 361.9,460.2 362.3,461.8 362.7,463.6 363.1,465.5 363.5,467.5 363.9,469.5 364.4,471.7 364.8,473.9 365.2,476.2" fill="#2a3290"/>
<polygon points="336.5,476.2 337.3,469.9 338.1,463.7 338.9,457.5 339.7,451.3 340.5,445.2 341.2,439.2 342.0,433.3 342.8,427.4 343.6,421.7 344.4,416.1 345.2,410.8 346.0,406.0 346.8,410.8 347.6,416.1 348.4,421.7 349.2,427.4 350.0,433.3 350.8,439.2 351.5,445.2 352.3,451.3 353.1,457.5 353.9,463.7 354.7,469.9 355.5,476.2" fill="#2a3290"/>
</g>
<g clip-path="url(#cpf1)">
<rect x="386.4" y="397.6" width="82.10000000000002" height="76.59999999999997" fill="#396ebf"/>
<line x1="428.0" y1="474.2" x2="277.5" y2="393.6" stroke="#3a7cc7" stroke-width="4" filter="url(#bl2)"/>
<line x1="428.0" y1="474.2" x2="356.0" y2="393.6" stroke="#3a7cc7" stroke-width="4" filter="url(#bl2)"/>
<line x1="428.0" y1="474.2" x2="395.7" y2="393.6" stroke="#3a7cc7" stroke-width="4" filter="url(#bl2)"/>
<line x1="428.0" y1="474.2" x2="460.3" y2="393.6" stroke="#3a7cc7" stroke-width="4" filter="url(#bl2)"/>
<line x1="428.0" y1="474.2" x2="500.0" y2="393.6" stroke="#3a7cc7" stroke-width="4" filter="url(#bl2)"/>
<line x1="428.0" y1="474.2" x2="578.5" y2="393.6" stroke="#3a7cc7" stroke-width="4" filter="url(#bl2)"/>
<rect x="386.4" y="464.2" width="82.10000000000002" height="9" fill="#3970c0" filter="url(#bl2)"/>
<polygon points="371.5,476.2 372.5,474.1 373.6,472.0 374.6,470.0 375.7,468.1 376.7,466.3 377.8,464.5 378.8,462.9 379.8,461.4 380.9,460.0 381.9,458.7 383.0,457.7 384.0,457.0 385.0,457.7 386.1,458.7 387.1,460.0 388.2,461.4 389.2,462.9 390.2,464.5 391.3,466.3 392.3,468.1 393.4,470.0 394.4,472.0 395.5,474.1 396.5,476.2" fill="#3fafe5" filter="url(#bl1)"/>
<polygon points="385.5,476.2 386.6,473.2 387.7,470.2 388.8,467.4 389.8,464.7 390.9,462.1 392.0,459.6 393.1,457.3 394.2,455.1 395.2,453.1 396.3,451.3 397.4,449.9 398.5,448.9 399.6,449.9 400.7,451.3 401.8,453.1 402.8,455.1 403.9,457.3 405.0,459.6 406.1,462.1 407.2,464.7 408.2,467.4 409.3,470.2 410.4,473.2 411.5,476.2" fill="#3fafe5" filter="url(#bl1)"/>
<polygon points="400.6,476.2 401.7,471.9 402.9,467.6 404.0,463.6 405.1,459.7 406.2,455.9 407.4,452.4 408.5,449.0 409.6,445.9 410.7,443.0 411.9,440.5 413.0,438.4 414.1,437.0 415.2,438.4 416.4,440.5 417.5,443.0 418.6,445.9 419.7,449.0 420.9,452.4 422.0,455.9 423.1,459.7 424.2,463.6 425.4,467.6 426.5,471.9 427.6,476.2" fill="#3fafe5" filter="url(#bl1)"/>
<polygon points="459.5,476.2 460.5,474.1 461.6,472.0 462.6,470.0 463.7,468.1 464.7,466.3 465.8,464.5 466.8,462.9 467.8,461.4 468.9,460.0 469.9,458.7 471.0,457.7 472.0,457.0 473.0,457.7 474.1,458.7 475.1,460.0 476.2,461.4 477.2,462.9 478.2,464.5 479.3,466.3 480.3,468.1 481.4,470.0 482.4,472.0 483.5,474.1 484.5,476.2" fill="#3fafe5" filter="url(#bl1)"/>
<polygon points="444.5,476.2 445.6,473.2 446.7,470.2 447.8,467.4 448.8,464.7 449.9,462.1 451.0,459.6 452.1,457.3 453.2,455.1 454.2,453.1 455.3,451.3 456.4,449.9 457.5,448.9 458.6,449.9 459.7,451.3 460.8,453.1 461.8,455.1 462.9,457.3 464.0,459.6 465.1,462.1 466.2,464.7 467.2,467.4 468.3,470.2 469.4,473.2 470.5,476.2" fill="#3fafe5" filter="url(#bl1)"/>
<polygon points="428.4,476.2 429.5,471.9 430.6,467.6 431.8,463.6 432.9,459.7 434.0,455.9 435.1,452.4 436.3,449.0 437.4,445.9 438.5,443.0 439.6,440.5 440.8,438.4 441.9,437.0 443.0,438.4 444.1,440.5 445.3,443.0 446.4,445.9 447.5,449.0 448.6,452.4 449.8,455.9 450.9,459.7 452.0,463.6 453.1,467.6 454.3,471.9 455.4,476.2" fill="#3fafe5" filter="url(#bl1)"/>
<polygon points="411.0,476.2 412.4,467.5 413.8,459.2 415.2,451.2 416.7,443.8 418.1,436.7 419.5,430.2 420.9,424.1 422.3,418.7 423.8,413.9 425.2,409.8 426.6,406.7 428.0,405.0 429.4,406.7 430.8,409.8 432.2,413.9 433.7,418.7 435.1,424.1 436.5,430.2 437.9,436.7 439.3,443.8 440.8,451.2 442.2,459.2 443.6,467.5 445.0,476.2" fill="#3fafe5" filter="url(#bl1)"/>
<polygon points="374.7,476.2 375.5,474.5 376.2,472.9 377.0,471.3 377.8,469.8 378.6,468.3 379.4,467.0 380.1,465.7 380.9,464.4 381.7,463.3 382.4,462.4 383.2,461.5 384.0,461.0 384.8,461.5 385.6,462.4 386.3,463.3 387.1,464.4 387.9,465.7 388.6,467.0 389.4,468.3 390.2,469.8 391.0,471.3 391.8,472.9 392.5,474.5 393.3,476.2" fill="#5ac6de" filter="url(#bl05)"/>
<polygon points="388.7,476.2 389.5,473.6 390.3,471.1 391.1,468.7 392.0,466.4 392.8,464.2 393.6,462.0 394.4,460.0 395.2,458.2 396.1,456.5 396.9,455.0 397.7,453.7 398.5,452.9 399.3,453.7 400.1,455.0 400.9,456.5 401.8,458.2 402.6,460.0 403.4,462.0 404.2,464.2 405.0,466.4 405.9,468.7 406.7,471.1 407.5,473.6 408.3,476.2" fill="#5ac6de" filter="url(#bl05)"/>
<polygon points="403.8,476.2 404.7,472.3 405.5,468.5 406.4,464.9 407.2,461.4 408.1,458.0 409.0,454.8 409.8,451.8 410.7,449.0 411.5,446.4 412.4,444.1 413.2,442.2 414.1,441.0 415.0,442.2 415.8,444.1 416.7,446.4 417.5,449.0 418.4,451.8 419.2,454.8 420.1,458.0 421.0,461.4 421.8,464.9 422.7,468.5 423.5,472.3 424.4,476.2" fill="#5ac6de" filter="url(#bl05)"/>
<polygon points="462.7,476.2 463.5,474.5 464.2,472.9 465.0,471.3 465.8,469.8 466.6,468.3 467.4,467.0 468.1,465.7 468.9,464.4 469.7,463.3 470.4,462.4 471.2,461.5 472.0,461.0 472.8,461.5 473.6,462.4 474.3,463.3 475.1,464.4 475.9,465.7 476.6,467.0 477.4,468.3 478.2,469.8 479.0,471.3 479.8,472.9 480.5,474.5 481.3,476.2" fill="#5ac6de" filter="url(#bl05)"/>
<polygon points="447.7,476.2 448.5,473.6 449.3,471.1 450.1,468.7 451.0,466.4 451.8,464.2 452.6,462.0 453.4,460.0 454.2,458.2 455.1,456.5 455.9,455.0 456.7,453.7 457.5,452.9 458.3,453.7 459.1,455.0 459.9,456.5 460.8,458.2 461.6,460.0 462.4,462.0 463.2,464.2 464.0,466.4 464.9,468.7 465.7,471.1 466.5,473.6 467.3,476.2" fill="#5ac6de" filter="url(#bl05)"/>
<polygon points="431.6,476.2 432.5,472.3 433.3,468.5 434.2,464.9 435.0,461.4 435.9,458.0 436.8,454.8 437.6,451.8 438.5,449.0 439.3,446.4 440.2,444.1 441.0,442.2 441.9,441.0 442.8,442.2 443.6,444.1 444.5,446.4 445.3,449.0 446.2,451.8 447.0,454.8 447.9,458.0 448.8,461.4 449.6,464.9 450.5,468.5 451.3,472.3 452.2,476.2" fill="#5ac6de" filter="url(#bl05)"/>
<polygon points="416.0,476.2 417.0,467.9 418.0,460.0 419.0,452.5 420.0,445.4 421.0,438.7 422.0,432.4 423.0,426.7 424.0,421.5 425.0,417.0 426.0,413.1 427.0,410.1 428.0,408.5 429.0,410.1 430.0,413.1 431.0,417.0 432.0,421.5 433.0,426.7 434.0,432.4 435.0,438.7 436.0,445.4 437.0,452.5 438.0,460.0 439.0,467.9 440.0,476.2" fill="#65c7cc" filter="url(#bl05)"/>
<polygon points="379.8,467.4 380.1,466.8 380.5,466.2 380.8,465.6 381.2,465.1 381.5,464.5 381.9,464.0 382.2,463.5 382.6,463.1 382.9,462.7 383.3,462.3 383.6,462.0 384.0,461.8 384.4,462.0 384.7,462.3 385.1,462.7 385.4,463.1 385.8,463.5 386.1,464.0 386.5,464.5 386.8,465.1 387.2,465.6 387.5,466.2 387.9,466.8 388.2,467.4" fill="#a2ce67" filter="url(#bl05)"/>
<polygon points="394.0,462.5 394.4,461.5 394.8,460.6 395.1,459.7 395.5,458.8 395.9,458.0 396.2,457.2 396.6,456.4 397.0,455.7 397.4,455.1 397.8,454.5 398.1,454.0 398.5,453.7 398.9,454.0 399.2,454.5 399.6,455.1 400.0,455.7 400.4,456.4 400.8,457.2 401.1,458.0 401.5,458.8 401.9,459.7 402.2,460.6 402.6,461.5 403.0,462.5" fill="#a2ce67" filter="url(#bl05)"/>
<polygon points="409.4,455.3 409.7,453.8 410.1,452.4 410.5,451.0 410.9,449.6 411.3,448.3 411.7,447.1 412.1,445.9 412.5,444.9 412.9,443.9 413.3,443.0 413.7,442.3 414.1,441.8 414.5,442.3 414.9,443.0 415.3,443.9 415.7,444.9 416.1,445.9 416.5,447.1 416.9,448.3 417.3,449.6 417.7,451.0 418.1,452.4 418.5,453.8 418.9,455.3" fill="#bfd444" filter="url(#bl05)"/>
<polygon points="467.8,467.4 468.1,466.8 468.5,466.2 468.8,465.6 469.2,465.1 469.5,464.5 469.9,464.0 470.2,463.5 470.6,463.1 470.9,462.7 471.3,462.3 471.6,462.0 472.0,461.8 472.4,462.0 472.7,462.3 473.1,462.7 473.4,463.1 473.8,463.5 474.1,464.0 474.5,464.5 474.8,465.1 475.2,465.6 475.5,466.2 475.9,466.8 476.2,467.4" fill="#a2ce67" filter="url(#bl05)"/>
<polygon points="453.0,462.5 453.4,461.5 453.8,460.6 454.1,459.7 454.5,458.8 454.9,458.0 455.2,457.2 455.6,456.4 456.0,455.7 456.4,455.1 456.8,454.5 457.1,454.0 457.5,453.7 457.9,454.0 458.2,454.5 458.6,455.1 459.0,455.7 459.4,456.4 459.8,457.2 460.1,458.0 460.5,458.8 460.9,459.7 461.2,460.6 461.6,461.5 462.0,462.5" fill="#a2ce67" filter="url(#bl05)"/>
<polygon points="437.1,455.3 437.5,453.8 437.9,452.4 438.3,451.0 438.7,449.6 439.1,448.3 439.5,447.1 439.9,445.9 440.3,444.9 440.7,443.9 441.1,443.0 441.5,442.3 441.9,441.8 442.3,442.3 442.7,443.0 443.1,443.9 443.5,444.9 443.9,445.9 444.3,447.1 444.7,448.3 445.1,449.6 445.5,451.0 445.9,452.4 446.3,453.8 446.6,455.3" fill="#bfd444" filter="url(#bl05)"/>
<polygon points="419.9,446.0 420.6,441.4 421.3,437.0 421.9,432.9 422.6,428.9 423.3,425.2 424.0,421.8 424.6,418.6 425.3,415.7 426.0,413.2 426.7,411.1 427.3,409.4 428.0,408.5 428.7,409.4 429.3,411.1 430.0,413.2 430.7,415.7 431.4,418.6 432.0,421.8 432.7,425.2 433.4,428.9 434.1,432.9 434.7,437.0 435.4,441.4 436.1,446.0" fill="#efdd20" filter="url(#bl05)"/>
<polygon points="424.3,420.0 424.6,418.6 424.9,417.2 425.2,416.0 425.5,414.8 425.9,413.6 426.2,412.6 426.5,411.6 426.8,410.7 427.1,409.9 427.4,409.3 427.7,408.8 428.0,408.5 428.3,408.8 428.6,409.3 428.9,409.9 429.2,410.7 429.5,411.6 429.8,412.6 430.1,413.6 430.5,414.8 430.8,416.0 431.1,417.2 431.4,418.6 431.7,420.0" fill="#ed7920" filter="url(#bl05)"/>
<ellipse cx="384.0" cy="463.7" rx="2.6" ry="1.6" fill="#80c8a0" filter="url(#bl05)"/>
<ellipse cx="398.5" cy="456.4" rx="2.6" ry="1.7" fill="#ece220" filter="url(#bl05)"/>
<ellipse cx="414.1" cy="446.6" rx="2.6" ry="2.8" fill="#f6d420" filter="url(#bl05)"/>
<ellipse cx="472.0" cy="463.7" rx="2.6" ry="1.6" fill="#80c8a0" filter="url(#bl05)"/>
<ellipse cx="457.5" cy="456.4" rx="2.6" ry="1.7" fill="#ece220" filter="url(#bl05)"/>
<ellipse cx="441.9" cy="446.6" rx="2.6" ry="2.8" fill="#f6d420" filter="url(#bl05)"/>
<polygon points="425.6,415.8 425.8,414.9 426.0,414.1 426.2,413.3 426.4,412.6 426.6,411.9 426.8,411.3 427.0,410.7 427.2,410.1 427.4,409.7 427.6,409.3 427.8,409.0 428.0,408.8 428.2,409.0 428.4,409.3 428.6,409.7 428.8,410.1 429.0,410.7 429.2,411.3 429.4,411.9 429.6,412.6 429.8,413.3 430.0,414.1 430.2,414.9 430.4,415.8" fill="#e31e23" filter="url(#bl05)"/>
<polygon points="379.5,476.2 379.9,475.2 380.2,474.2 380.6,473.2 381.0,472.3 381.4,471.4 381.8,470.6 382.1,469.8 382.5,469.1 382.9,468.4 383.2,467.8 383.6,467.3 384.0,467.0 384.4,467.3 384.8,467.8 385.1,468.4 385.5,469.1 385.9,469.8 386.2,470.6 386.6,471.4 387.0,472.3 387.4,473.2 387.8,474.2 388.1,475.2 388.5,476.2" fill="#2a3290"/>
<polygon points="393.5,476.2 393.9,474.5 394.3,472.8 394.8,471.2 395.2,469.7 395.6,468.2 396.0,466.8 396.4,465.5 396.8,464.2 397.2,463.1 397.7,462.1 398.1,461.2 398.5,460.7 398.9,461.2 399.3,462.1 399.8,463.1 400.2,464.2 400.6,465.5 401.0,466.8 401.4,468.2 401.8,469.7 402.2,471.2 402.7,472.8 403.1,474.5 403.5,476.2" fill="#2a3290"/>
<polygon points="408.6,476.2 409.1,473.7 409.5,471.2 410.0,468.9 410.4,466.6 410.9,464.5 411.4,462.4 411.8,460.5 412.3,458.7 412.7,457.0 413.2,455.5 413.6,454.3 414.1,453.5 414.6,454.3 415.0,455.5 415.5,457.0 415.9,458.7 416.4,460.5 416.9,462.4 417.3,464.5 417.8,466.6 418.2,468.9 418.7,471.2 419.1,473.7 419.6,476.2" fill="#2a3290"/>
<polygon points="467.5,476.2 467.9,475.2 468.2,474.2 468.6,473.2 469.0,472.3 469.4,471.4 469.8,470.6 470.1,469.8 470.5,469.1 470.9,468.4 471.2,467.8 471.6,467.3 472.0,467.0 472.4,467.3 472.8,467.8 473.1,468.4 473.5,469.1 473.9,469.8 474.2,470.6 474.6,471.4 475.0,472.3 475.4,473.2 475.8,474.2 476.1,475.2 476.5,476.2" fill="#2a3290"/>
<polygon points="452.5,476.2 452.9,474.5 453.3,472.8 453.8,471.2 454.2,469.7 454.6,468.2 455.0,466.8 455.4,465.5 455.8,464.2 456.2,463.1 456.7,462.1 457.1,461.2 457.5,460.7 457.9,461.2 458.3,462.1 458.8,463.1 459.2,464.2 459.6,465.5 460.0,466.8 460.4,468.2 460.8,469.7 461.2,471.2 461.7,472.8 462.1,474.5 462.5,476.2" fill="#2a3290"/>
<polygon points="436.4,476.2 436.9,473.7 437.3,471.2 437.8,468.9 438.2,466.6 438.7,464.5 439.1,462.4 439.6,460.5 440.1,458.7 440.5,457.0 441.0,455.5 441.4,454.3 441.9,453.5 442.4,454.3 442.8,455.5 443.3,457.0 443.7,458.7 444.2,460.5 444.6,462.4 445.1,464.5 445.6,466.6 446.0,468.9 446.5,471.2 446.9,473.7 447.4,476.2" fill="#2a3290"/>
<polygon points="419.6,476.2 420.3,466.9 421.0,458.6 421.7,451.3 422.4,444.8 423.1,439.3 423.8,434.6 424.5,430.8 425.2,427.7 425.9,425.5 426.6,424.0 427.3,423.2 428.0,423.0 428.7,423.2 429.4,424.0 430.1,425.5 430.8,427.7 431.5,430.8 432.2,434.6 432.9,439.3 433.6,444.8 434.3,451.3 435.0,458.6 435.7,466.9 436.4,476.2" fill="#2a3290"/>
</g>
<line x1="386.4" y1="397.6" x2="386.4" y2="474.2" stroke="#2c5098" stroke-width="0.9"/>
<g clip-path="url(#cpf2)">
<rect x="468.5" y="397.6" width="81.79999999999995" height="76.59999999999997" fill="#3b84cc"/>
<line x1="509.8" y1="474.2" x2="359.3" y2="393.6" stroke="#3d98d8" stroke-width="4" filter="url(#bl2)"/>
<line x1="509.8" y1="474.2" x2="437.8" y2="393.6" stroke="#3d98d8" stroke-width="4" filter="url(#bl2)"/>
<line x1="509.8" y1="474.2" x2="477.5" y2="393.6" stroke="#3d98d8" stroke-width="4" filter="url(#bl2)"/>
<line x1="509.8" y1="474.2" x2="542.1" y2="393.6" stroke="#3d98d8" stroke-width="4" filter="url(#bl2)"/>
<line x1="509.8" y1="474.2" x2="581.8" y2="393.6" stroke="#3d98d8" stroke-width="4" filter="url(#bl2)"/>
<line x1="509.8" y1="474.2" x2="660.3" y2="393.6" stroke="#3d98d8" stroke-width="4" filter="url(#bl2)"/>
<rect x="468.5" y="464.2" width="81.79999999999995" height="9" fill="#3970c0" filter="url(#bl2)"/>
<polygon points="453.3,476.2 454.3,474.3 455.4,472.4 456.4,470.7 457.5,468.9 458.5,467.3 459.6,465.7 460.6,464.3 461.6,462.9 462.7,461.6 463.7,460.5 464.8,459.6 465.8,459.0 466.8,459.6 467.9,460.5 468.9,461.6 470.0,462.9 471.0,464.3 472.1,465.7 473.1,467.3 474.1,468.9 475.2,470.7 476.2,472.4 477.3,474.3 478.3,476.2" fill="#3fafe5" filter="url(#bl1)"/>
<polygon points="466.7,476.2 467.8,473.6 468.9,471.0 469.9,468.6 471.0,466.2 472.1,463.9 473.2,461.8 474.3,459.8 475.4,457.9 476.4,456.1 477.5,454.6 478.6,453.3 479.7,452.5 480.8,453.3 481.9,454.6 482.9,456.1 484.0,457.9 485.1,459.8 486.2,461.8 487.3,463.9 488.4,466.2 489.4,468.6 490.5,471.0 491.6,473.6 492.7,476.2" fill="#3fafe5" filter="url(#bl1)"/>
<polygon points="482.6,476.2 483.7,472.2 484.8,468.3 485.9,464.5 487.0,460.9 488.1,457.5 489.2,454.2 490.3,451.1 491.4,448.2 492.5,445.6 493.6,443.2 494.7,441.3 495.8,440.0 496.9,441.3 498.0,443.2 499.1,445.6 500.2,448.2 501.3,451.1 502.4,454.2 503.5,457.5 504.6,460.9 505.7,464.5 506.8,468.3 507.9,472.2 509.0,476.2" fill="#3fafe5" filter="url(#bl1)"/>
<polygon points="541.3,476.2 542.3,474.3 543.4,472.4 544.4,470.7 545.5,468.9 546.5,467.3 547.5,465.7 548.6,464.3 549.6,462.9 550.7,461.6 551.7,460.5 552.8,459.6 553.8,459.0 554.8,459.6 555.9,460.5 556.9,461.6 558.0,462.9 559.0,464.3 560.0,465.7 561.1,467.3 562.1,468.9 563.2,470.7 564.2,472.4 565.3,474.3 566.3,476.2" fill="#3fafe5" filter="url(#bl1)"/>
<polygon points="526.9,476.2 528.0,473.6 529.1,471.0 530.1,468.6 531.2,466.2 532.3,463.9 533.4,461.8 534.5,459.8 535.6,457.9 536.6,456.1 537.7,454.6 538.8,453.3 539.9,452.5 541.0,453.3 542.1,454.6 543.1,456.1 544.2,457.9 545.3,459.8 546.4,461.8 547.5,463.9 548.6,466.2 549.6,468.6 550.7,471.0 551.8,473.6 552.9,476.2" fill="#3fafe5" filter="url(#bl1)"/>
<polygon points="510.6,476.2 511.7,472.2 512.8,468.3 513.9,464.5 515.0,460.9 516.1,457.5 517.2,454.2 518.3,451.1 519.4,448.2 520.5,445.6 521.6,443.2 522.7,441.3 523.8,440.0 524.9,441.3 526.0,443.2 527.1,445.6 528.2,448.2 529.3,451.1 530.4,454.2 531.5,457.5 532.6,460.9 533.7,464.5 534.8,468.3 535.9,472.2 537.0,476.2" fill="#3fafe5" filter="url(#bl1)"/>
<polygon points="493.3,476.2 494.7,467.5 496.1,459.6 497.4,452.5 498.8,446.1 500.2,440.4 501.6,435.6 502.9,431.4 504.3,428.0 505.7,425.4 507.1,423.5 508.4,422.4 509.8,422.0 511.2,422.4 512.6,423.5 513.9,425.4 515.3,428.0 516.7,431.4 518.0,435.6 519.4,440.4 520.8,446.1 522.2,452.5 523.5,459.6 524.9,467.5 526.3,476.2" fill="#3fafe5" filter="url(#bl1)"/>
<polygon points="456.5,476.2 457.3,474.7 458.1,473.3 458.8,472.0 459.6,470.6 460.4,469.4 461.2,468.2 461.9,467.0 462.7,466.0 463.5,465.0 464.2,464.2 465.0,463.5 465.8,463.0 466.6,463.5 467.4,464.2 468.1,465.0 468.9,466.0 469.7,467.0 470.4,468.2 471.2,469.4 472.0,470.6 472.8,472.0 473.6,473.3 474.3,474.7 475.1,476.2" fill="#5ac6de" filter="url(#bl05)"/>
<polygon points="469.9,476.2 470.7,474.0 471.5,471.9 472.3,469.9 473.2,467.9 474.0,466.0 474.8,464.2 475.6,462.5 476.4,461.0 477.2,459.5 478.1,458.3 478.9,457.2 479.7,456.5 480.5,457.2 481.3,458.3 482.1,459.5 483.0,461.0 483.8,462.5 484.6,464.2 485.4,466.0 486.2,467.9 487.1,469.9 487.9,471.9 488.7,474.0 489.5,476.2" fill="#5ac6de" filter="url(#bl05)"/>
<polygon points="485.8,476.2 486.6,472.6 487.5,469.2 488.3,465.8 489.1,462.6 490.0,459.6 490.8,456.6 491.6,453.9 492.5,451.3 493.3,449.0 494.1,446.9 495.0,445.1 495.8,444.0 496.6,445.1 497.5,446.9 498.3,449.0 499.1,451.3 500.0,453.9 500.8,456.6 501.6,459.6 502.5,462.6 503.3,465.8 504.1,469.2 505.0,472.6 505.8,476.2" fill="#5ac6de" filter="url(#bl05)"/>
<polygon points="544.5,476.2 545.3,474.7 546.0,473.3 546.8,472.0 547.6,470.6 548.4,469.4 549.1,468.2 549.9,467.0 550.7,466.0 551.5,465.0 552.2,464.2 553.0,463.5 553.8,463.0 554.6,463.5 555.3,464.2 556.1,465.0 556.9,466.0 557.7,467.0 558.4,468.2 559.2,469.4 560.0,470.6 560.8,472.0 561.5,473.3 562.3,474.7 563.1,476.2" fill="#5ac6de" filter="url(#bl05)"/>
<polygon points="530.1,476.2 530.9,474.0 531.7,471.9 532.5,469.9 533.4,467.9 534.2,466.0 535.0,464.2 535.8,462.5 536.6,461.0 537.4,459.5 538.3,458.3 539.1,457.2 539.9,456.5 540.7,457.2 541.5,458.3 542.4,459.5 543.2,461.0 544.0,462.5 544.8,464.2 545.6,466.0 546.4,467.9 547.2,469.9 548.1,471.9 548.9,474.0 549.7,476.2" fill="#5ac6de" filter="url(#bl05)"/>
<polygon points="513.8,476.2 514.6,472.6 515.5,469.2 516.3,465.8 517.1,462.6 518.0,459.6 518.8,456.6 519.6,453.9 520.5,451.3 521.3,449.0 522.1,446.9 523.0,445.1 523.8,444.0 524.6,445.1 525.5,446.9 526.3,449.0 527.1,451.3 528.0,453.9 528.8,456.6 529.6,459.6 530.5,462.6 531.3,465.8 532.1,469.2 533.0,472.6 533.8,476.2" fill="#5ac6de" filter="url(#bl05)"/>
<polygon points="498.3,476.2 499.3,468.1 500.2,460.7 501.2,454.0 502.1,448.0 503.1,442.8 504.1,438.2 505.0,434.3 506.0,431.1 506.9,428.7 507.9,426.9 508.8,425.9 509.8,425.5 510.8,425.9 511.7,426.9 512.7,428.7 513.6,431.1 514.6,434.3 515.5,438.2 516.5,442.8 517.5,448.0 518.4,454.0 519.4,460.7 520.3,468.1 521.3,476.2" fill="#65c7cc" filter="url(#bl05)"/>
<polygon points="461.6,468.7 461.9,468.1 462.3,467.6 462.6,467.1 463.0,466.6 463.3,466.1 463.7,465.7 464.0,465.3 464.4,464.9 464.7,464.5 465.1,464.2 465.4,464.0 465.8,463.8 466.2,464.0 466.5,464.2 466.9,464.5 467.2,464.9 467.6,465.3 467.9,465.7 468.3,466.1 468.6,466.6 469.0,467.1 469.3,467.6 469.7,468.1 470.1,468.7" fill="#a2ce67" filter="url(#bl05)"/>
<polygon points="475.2,464.7 475.6,463.9 475.9,463.1 476.3,462.3 476.7,461.6 477.1,460.9 477.4,460.2 477.8,459.6 478.2,459.0 478.6,458.4 478.9,458.0 479.3,457.6 479.7,457.3 480.1,457.6 480.4,458.0 480.8,458.4 481.2,459.0 481.6,459.6 481.9,460.2 482.3,460.9 482.7,461.6 483.1,462.3 483.4,463.1 483.8,463.9 484.2,464.7" fill="#a2ce67" filter="url(#bl05)"/>
<polygon points="491.2,457.1 491.6,455.8 492.0,454.4 492.4,453.2 492.7,451.9 493.1,450.8 493.5,449.6 493.9,448.6 494.3,447.6 494.7,446.7 495.0,445.9 495.4,445.2 495.8,444.8 496.2,445.2 496.6,445.9 496.9,446.7 497.3,447.6 497.7,448.6 498.1,449.6 498.5,450.8 498.9,451.9 499.2,453.2 499.6,454.4 500.0,455.8 500.4,457.1" fill="#f3d920" filter="url(#bl05)"/>
<polygon points="549.5,468.7 549.9,468.1 550.3,467.6 550.6,467.1 551.0,466.6 551.3,466.1 551.7,465.7 552.0,465.3 552.4,464.9 552.7,464.5 553.1,464.2 553.4,464.0 553.8,463.8 554.2,464.0 554.5,464.2 554.9,464.5 555.2,464.9 555.6,465.3 555.9,465.7 556.3,466.1 556.6,466.6 557.0,467.1 557.3,467.6 557.7,468.1 558.0,468.7" fill="#a2ce67" filter="url(#bl05)"/>
<polygon points="535.4,464.7 535.8,463.9 536.1,463.1 536.5,462.3 536.9,461.6 537.3,460.9 537.6,460.2 538.0,459.6 538.4,459.0 538.8,458.4 539.1,458.0 539.5,457.6 539.9,457.3 540.3,457.6 540.6,458.0 541.0,458.4 541.4,459.0 541.8,459.6 542.1,460.2 542.5,460.9 542.9,461.6 543.3,462.3 543.6,463.1 544.0,463.9 544.4,464.7" fill="#a2ce67" filter="url(#bl05)"/>
<polygon points="519.2,457.1 519.6,455.8 520.0,454.4 520.3,453.2 520.7,451.9 521.1,450.8 521.5,449.6 521.9,448.6 522.3,447.6 522.6,446.7 523.0,445.9 523.4,445.2 523.8,444.8 524.2,445.2 524.6,445.9 524.9,446.7 525.3,447.6 525.7,448.6 526.1,449.6 526.5,450.8 526.9,451.9 527.2,453.2 527.6,454.4 528.0,455.8 528.4,457.1" fill="#f3d920" filter="url(#bl05)"/>
<polygon points="501.5,452.0 502.2,447.8 502.9,443.9 503.6,440.4 504.3,437.3 505.0,434.5 505.6,432.1 506.3,430.1 507.0,428.4 507.7,427.2 508.4,426.2 509.1,425.7 509.8,425.5 510.5,425.7 511.2,426.2 511.9,427.2 512.6,428.4 513.3,430.1 514.0,432.1 514.6,434.5 515.3,437.3 516.0,440.4 516.7,443.9 517.4,447.8 518.1,452.0" fill="#efdd20" filter="url(#bl05)"/>
<polygon points="504.7,435.5 505.1,433.9 505.5,432.4 506.0,431.1 506.4,429.9 506.8,428.9 507.2,428.0 507.7,427.2 508.1,426.6 508.5,426.1 508.9,425.8 509.4,425.6 509.8,425.5 510.2,425.6 510.7,425.8 511.1,426.1 511.5,426.6 511.9,427.2 512.4,428.0 512.8,428.9 513.2,429.9 513.6,431.1 514.1,432.4 514.5,433.9 514.9,435.5" fill="#ed7920" filter="url(#bl05)"/>
<ellipse cx="465.8" cy="465.2" rx="2.6" ry="1.6" fill="#70c7bb" filter="url(#bl05)"/>
<ellipse cx="479.7" cy="460.1" rx="2.6" ry="1.8" fill="#c7d73e" filter="url(#bl05)"/>
<ellipse cx="495.8" cy="449.2" rx="2.6" ry="2.5" fill="#ed7920" filter="url(#bl05)"/>
<ellipse cx="553.8" cy="465.2" rx="2.6" ry="1.6" fill="#70c7bb" filter="url(#bl05)"/>
<ellipse cx="539.9" cy="460.1" rx="2.6" ry="1.8" fill="#c7d73e" filter="url(#bl05)"/>
<ellipse cx="523.8" cy="449.2" rx="2.6" ry="2.5" fill="#ed7920" filter="url(#bl05)"/>
<polygon points="506.0,432.8 506.3,431.6 506.6,430.6 506.9,429.7 507.2,428.9 507.6,428.2 507.9,427.5 508.2,427.0 508.5,426.6 508.8,426.2 509.2,426.0 509.5,425.8 509.8,425.8 510.1,425.8 510.4,426.0 510.8,426.2 511.1,426.6 511.4,427.0 511.7,427.5 512.0,428.2 512.4,428.9 512.7,429.7 513.0,430.6 513.3,431.6 513.6,432.8" fill="#d61b23" filter="url(#bl05)"/>
<polygon points="461.3,476.2 461.7,475.3 462.1,474.4 462.4,473.6 462.8,472.7 463.2,472.0 463.6,471.2 463.9,470.5 464.3,469.9 464.7,469.3 465.1,468.7 465.4,468.3 465.8,468.0 466.2,468.3 466.6,468.7 466.9,469.3 467.3,469.9 467.7,470.5 468.1,471.2 468.4,472.0 468.8,472.7 469.2,473.6 469.6,474.4 469.9,475.3 470.3,476.2" fill="#2a3290"/>
<polygon points="474.7,476.2 475.1,474.9 475.5,473.6 475.9,472.4 476.4,471.3 476.8,470.2 477.2,469.1 477.6,468.1 478.0,467.2 478.4,466.3 478.9,465.5 479.3,464.9 479.7,464.5 480.1,464.9 480.5,465.5 480.9,466.3 481.4,467.2 481.8,468.1 482.2,469.1 482.6,470.2 483.0,471.3 483.4,472.4 483.9,473.6 484.3,474.9 484.7,476.2" fill="#2a3290"/>
<polygon points="490.6,476.2 491.0,473.9 491.5,471.7 491.9,469.5 492.3,467.5 492.8,465.5 493.2,463.6 493.6,461.8 494.1,460.2 494.5,458.7 494.9,457.3 495.4,456.2 495.8,455.5 496.2,456.2 496.7,457.3 497.1,458.7 497.5,460.2 498.0,461.8 498.4,463.6 498.8,465.5 499.3,467.5 499.7,469.5 500.1,471.7 500.6,473.9 501.0,476.2" fill="#2a3290"/>
<polygon points="549.3,476.2 549.7,475.3 550.0,474.4 550.4,473.6 550.8,472.7 551.2,472.0 551.5,471.2 551.9,470.5 552.3,469.9 552.7,469.3 553.0,468.7 553.4,468.3 553.8,468.0 554.2,468.3 554.5,468.7 554.9,469.3 555.3,469.9 555.7,470.5 556.0,471.2 556.4,472.0 556.8,472.7 557.2,473.6 557.5,474.4 557.9,475.3 558.3,476.2" fill="#2a3290"/>
<polygon points="534.9,476.2 535.3,474.9 535.7,473.6 536.1,472.4 536.6,471.3 537.0,470.2 537.4,469.1 537.8,468.1 538.2,467.2 538.6,466.3 539.1,465.5 539.5,464.9 539.9,464.5 540.3,464.9 540.7,465.5 541.1,466.3 541.6,467.2 542.0,468.1 542.4,469.1 542.8,470.2 543.2,471.3 543.6,472.4 544.1,473.6 544.5,474.9 544.9,476.2" fill="#2a3290"/>
<polygon points="518.6,476.2 519.0,473.9 519.5,471.7 519.9,469.5 520.3,467.5 520.8,465.5 521.2,463.6 521.6,461.8 522.1,460.2 522.5,458.7 522.9,457.3 523.4,456.2 523.8,455.5 524.2,456.2 524.7,457.3 525.1,458.7 525.5,460.2 526.0,461.8 526.4,463.6 526.8,465.5 527.3,467.5 527.7,469.5 528.1,471.7 528.6,473.9 529.0,476.2" fill="#2a3290"/>
<polygon points="502.4,476.2 503.0,468.3 503.6,461.5 504.2,455.6 504.9,450.6 505.5,446.4 506.1,443.1 506.7,440.5 507.3,438.6 507.9,437.3 508.6,436.5 509.2,436.1 509.8,436.0 510.4,436.1 511.0,436.5 511.7,437.3 512.3,438.6 512.9,440.5 513.5,443.1 514.1,446.4 514.7,450.6 515.4,455.6 516.0,461.5 516.6,468.3 517.2,476.2" fill="#2a3290"/>
</g>
<line x1="468.5" y1="397.6" x2="468.5" y2="474.2" stroke="#2c5098" stroke-width="0.9"/>
<g clip-path="url(#cpf3)">
<rect x="550.3" y="397.6" width="81.70000000000005" height="76.59999999999997" fill="#3d98d8"/>
<line x1="591.5" y1="474.2" x2="441.0" y2="393.6" stroke="#42bbeb" stroke-width="4" filter="url(#bl2)"/>
<line x1="591.5" y1="474.2" x2="519.5" y2="393.6" stroke="#42bbeb" stroke-width="4" filter="url(#bl2)"/>
<line x1="591.5" y1="474.2" x2="559.2" y2="393.6" stroke="#42bbeb" stroke-width="4" filter="url(#bl2)"/>
<line x1="591.5" y1="474.2" x2="623.8" y2="393.6" stroke="#42bbeb" stroke-width="4" filter="url(#bl2)"/>
<line x1="591.5" y1="474.2" x2="663.5" y2="393.6" stroke="#42bbeb" stroke-width="4" filter="url(#bl2)"/>
<line x1="591.5" y1="474.2" x2="742.0" y2="393.6" stroke="#42bbeb" stroke-width="4" filter="url(#bl2)"/>
<rect x="550.3" y="464.2" width="81.70000000000005" height="9" fill="#3970c0" filter="url(#bl2)"/>
<polygon points="537.3,476.2 538.3,474.4 539.3,472.7 540.4,471.0 541.4,469.4 542.4,467.8 543.4,466.4 544.4,465.0 545.4,463.7 546.5,462.5 547.5,461.4 548.5,460.6 549.5,460.0 550.5,460.6 551.5,461.4 552.5,462.5 553.6,463.7 554.6,465.0 555.6,466.4 556.6,467.8 557.6,469.4 558.6,471.0 559.7,472.7 560.7,474.4 561.7,476.2" fill="#3fafe5" filter="url(#bl1)"/>
<polygon points="549.9,476.2 551.0,473.7 552.1,471.2 553.1,468.9 554.2,466.6 555.3,464.5 556.4,462.4 557.5,460.5 558.6,458.7 559.6,457.0 560.7,455.5 561.8,454.3 562.9,453.5 564.0,454.3 565.1,455.5 566.1,457.0 567.2,458.7 568.3,460.5 569.4,462.4 570.5,464.5 571.6,466.6 572.6,468.9 573.7,471.2 574.8,473.7 575.9,476.2" fill="#3fafe5" filter="url(#bl1)"/>
<polygon points="565.1,476.2 566.2,473.1 567.3,470.0 568.4,467.1 569.4,464.3 570.5,461.6 571.6,459.1 572.7,456.6 573.8,454.4 574.9,452.3 575.9,450.5 577.0,449.0 578.1,448.0 579.2,449.0 580.3,450.5 581.4,452.3 582.4,454.4 583.5,456.6 584.6,459.1 585.7,461.6 586.8,464.3 587.9,467.1 588.9,470.0 590.0,473.1 591.1,476.2" fill="#3fafe5" filter="url(#bl1)"/>
<polygon points="621.3,476.2 622.3,474.4 623.3,472.7 624.4,471.0 625.4,469.4 626.4,467.8 627.4,466.4 628.4,465.0 629.4,463.7 630.5,462.5 631.5,461.4 632.5,460.6 633.5,460.0 634.5,460.6 635.5,461.4 636.5,462.5 637.6,463.7 638.6,465.0 639.6,466.4 640.6,467.8 641.6,469.4 642.6,471.0 643.7,472.7 644.7,474.4 645.7,476.2" fill="#3fafe5" filter="url(#bl1)"/>
<polygon points="607.1,476.2 608.2,473.7 609.3,471.2 610.4,468.9 611.4,466.6 612.5,464.5 613.6,462.4 614.7,460.5 615.8,458.7 616.9,457.0 617.9,455.5 619.0,454.3 620.1,453.5 621.2,454.3 622.3,455.5 623.4,457.0 624.4,458.7 625.5,460.5 626.6,462.4 627.7,464.5 628.8,466.6 629.9,468.9 630.9,471.2 632.0,473.7 633.1,476.2" fill="#3fafe5" filter="url(#bl1)"/>
<polygon points="591.9,476.2 593.0,473.1 594.1,470.0 595.1,467.1 596.2,464.3 597.3,461.6 598.4,459.1 599.5,456.6 600.6,454.4 601.6,452.3 602.7,450.5 603.8,449.0 604.9,448.0 606.0,449.0 607.1,450.5 608.1,452.3 609.2,454.4 610.3,456.6 611.4,459.1 612.5,461.6 613.6,464.3 614.6,467.1 615.7,470.0 616.8,473.1 617.9,476.2" fill="#3fafe5" filter="url(#bl1)"/>
<polygon points="579.7,476.2 580.7,471.9 581.7,467.7 582.6,463.5 583.6,459.4 584.6,455.3 585.6,451.4 586.6,447.5 587.6,443.8 588.5,440.2 589.5,436.8 590.5,433.6 591.5,431.0 592.5,433.6 593.5,436.8 594.5,440.2 595.4,443.8 596.4,447.5 597.4,451.4 598.4,455.3 599.4,459.4 600.4,463.5 601.3,467.7 602.3,471.9 603.3,476.2" fill="#3fafe5" filter="url(#bl1)"/>
<polygon points="540.5,476.2 541.2,474.8 542.0,473.5 542.8,472.3 543.5,471.1 544.2,469.9 545.0,468.8 545.8,467.7 546.5,466.8 547.2,465.9 548.0,465.1 548.8,464.4 549.5,464.0 550.2,464.4 551.0,465.1 551.8,465.9 552.5,466.8 553.2,467.7 554.0,468.8 554.8,469.9 555.5,471.1 556.2,472.3 557.0,473.5 557.8,474.8 558.5,476.2" fill="#5ac6de" filter="url(#bl05)"/>
<polygon points="553.1,476.2 553.9,474.1 554.7,472.1 555.5,470.2 556.4,468.3 557.2,466.5 558.0,464.8 558.8,463.2 559.6,461.7 560.4,460.4 561.3,459.2 562.1,458.2 562.9,457.5 563.7,458.2 564.5,459.2 565.4,460.4 566.2,461.7 567.0,463.2 567.8,464.8 568.6,466.5 569.4,468.3 570.2,470.2 571.1,472.1 571.9,474.1 572.7,476.2" fill="#5ac6de" filter="url(#bl05)"/>
<polygon points="568.3,476.2 569.1,473.5 569.9,470.9 570.8,468.4 571.6,466.0 572.4,463.7 573.2,461.5 574.0,459.4 574.8,457.5 575.6,455.7 576.5,454.2 577.3,452.8 578.1,452.0 578.9,452.8 579.7,454.2 580.6,455.7 581.4,457.5 582.2,459.4 583.0,461.5 583.8,463.7 584.6,466.0 585.5,468.4 586.3,470.9 587.1,473.5 587.9,476.2" fill="#5ac6de" filter="url(#bl05)"/>
<polygon points="624.5,476.2 625.2,474.8 626.0,473.5 626.8,472.3 627.5,471.1 628.2,469.9 629.0,468.8 629.8,467.7 630.5,466.8 631.2,465.9 632.0,465.1 632.8,464.4 633.5,464.0 634.2,464.4 635.0,465.1 635.8,465.9 636.5,466.8 637.2,467.7 638.0,468.8 638.8,469.9 639.5,471.1 640.2,472.3 641.0,473.5 641.8,474.8 642.5,476.2" fill="#5ac6de" filter="url(#bl05)"/>
<polygon points="610.3,476.2 611.1,474.1 611.9,472.1 612.8,470.2 613.6,468.3 614.4,466.5 615.2,464.8 616.0,463.2 616.8,461.7 617.6,460.4 618.5,459.2 619.3,458.2 620.1,457.5 620.9,458.2 621.7,459.2 622.6,460.4 623.4,461.7 624.2,463.2 625.0,464.8 625.8,466.5 626.6,468.3 627.5,470.2 628.3,472.1 629.1,474.1 629.9,476.2" fill="#5ac6de" filter="url(#bl05)"/>
<polygon points="595.1,476.2 595.9,473.5 596.7,470.9 597.5,468.4 598.4,466.0 599.2,463.7 600.0,461.5 600.8,459.4 601.6,457.5 602.4,455.7 603.3,454.2 604.1,452.8 604.9,452.0 605.7,452.8 606.5,454.2 607.4,455.7 608.2,457.5 609.0,459.4 609.8,461.5 610.6,463.7 611.4,466.0 612.2,468.4 613.1,470.9 613.9,473.5 614.7,476.2" fill="#5ac6de" filter="url(#bl05)"/>
<polyline points="583.3,476.2 584.0,472.3 584.7,468.4 585.4,464.6 586.0,460.8 586.7,457.2 587.4,453.6 588.1,450.1 588.8,446.6 589.5,443.4 590.1,440.2 590.8,437.4 591.5,435.0 592.2,437.4 592.9,440.2 593.5,443.4 594.2,446.6 594.9,450.1 595.6,453.6 596.3,457.2 597.0,460.8 597.6,464.6 598.3,468.4 599.0,472.3 599.7,476.2" fill="none" stroke="#70c7bb" stroke-width="2.4"/>
<polygon points="545.4,469.3 545.7,468.8 546.1,468.3 546.4,467.8 546.8,467.4 547.1,467.0 547.5,466.6 547.8,466.2 548.1,465.8 548.5,465.5 548.8,465.2 549.2,465.0 549.5,464.8 549.8,465.0 550.2,465.2 550.5,465.5 550.9,465.8 551.2,466.2 551.5,466.6 551.9,467.0 552.2,467.4 552.6,467.8 552.9,468.3 553.3,468.8 553.6,469.3" fill="#a2ce67" filter="url(#bl05)"/>
<polygon points="558.4,465.3 558.8,464.5 559.1,463.8 559.5,463.1 559.9,462.4 560.3,461.7 560.6,461.1 561.0,460.5 561.4,459.9 561.8,459.4 562.1,458.9 562.5,458.5 562.9,458.3 563.3,458.5 563.6,458.9 564.0,459.4 564.4,459.9 564.8,460.5 565.1,461.1 565.5,461.7 565.9,462.4 566.3,463.1 566.6,463.8 567.0,464.5 567.4,465.3" fill="#a2ce67" filter="url(#bl05)"/>
<polygon points="573.6,462.0 574.0,461.0 574.4,460.0 574.7,459.0 575.1,458.1 575.5,457.2 575.9,456.4 576.2,455.6 576.6,454.9 577.0,454.2 577.4,453.6 577.7,453.1 578.1,452.8 578.5,453.1 578.9,453.6 579.2,454.2 579.6,454.9 580.0,455.6 580.4,456.4 580.7,457.2 581.1,458.1 581.5,459.0 581.9,460.0 582.2,461.0 582.6,462.0" fill="#f5c320" filter="url(#bl05)"/>
<polygon points="629.4,469.3 629.7,468.8 630.1,468.3 630.4,467.8 630.8,467.4 631.1,467.0 631.5,466.6 631.8,466.2 632.1,465.8 632.5,465.5 632.8,465.2 633.2,465.0 633.5,464.8 633.8,465.0 634.2,465.2 634.5,465.5 634.9,465.8 635.2,466.2 635.5,466.6 635.9,467.0 636.2,467.4 636.6,467.8 636.9,468.3 637.3,468.8 637.6,469.3" fill="#a2ce67" filter="url(#bl05)"/>
<polygon points="615.6,465.3 616.0,464.5 616.4,463.8 616.7,463.1 617.1,462.4 617.5,461.7 617.9,461.1 618.2,460.5 618.6,459.9 619.0,459.4 619.4,458.9 619.7,458.5 620.1,458.3 620.5,458.5 620.9,458.9 621.2,459.4 621.6,459.9 622.0,460.5 622.4,461.1 622.7,461.7 623.1,462.4 623.5,463.1 623.9,463.8 624.2,464.5 624.6,465.3" fill="#a2ce67" filter="url(#bl05)"/>
<polygon points="600.4,462.0 600.8,461.0 601.1,460.0 601.5,459.0 601.9,458.1 602.3,457.2 602.6,456.4 603.0,455.6 603.4,454.9 603.8,454.2 604.1,453.6 604.5,453.1 604.9,452.8 605.3,453.1 605.6,453.6 606.0,454.2 606.4,454.9 606.8,455.6 607.1,456.4 607.5,457.2 607.9,458.1 608.3,459.0 608.6,460.0 609.0,461.0 609.4,462.0" fill="#f5c320" filter="url(#bl05)"/>
<polyline points="583.3,476.2 584.0,472.3 584.7,468.4 585.4,464.6 586.0,460.8 586.7,457.2 587.4,453.6 588.1,450.1 588.8,446.6 589.5,443.4 590.1,440.2 590.8,437.4 591.5,435.0 592.2,437.4 592.9,440.2 593.5,443.4 594.2,446.6 594.9,450.1 595.6,453.6 596.3,457.2 597.0,460.8 597.6,464.6 598.3,468.4 599.0,472.3 599.7,476.2" fill="none" stroke="#efdd20" stroke-width="2.2" stroke-dasharray="2.4 2.4" filter="url(#bl05)"/>
<ellipse cx="549.5" cy="466.2" rx="2.6" ry="1.6" fill="#70c7bb" filter="url(#bl05)"/>
<ellipse cx="562.9" cy="461.3" rx="2.6" ry="1.9" fill="#c7d73e" filter="url(#bl05)"/>
<ellipse cx="578.1" cy="456.5" rx="2.6" ry="2.2" fill="#e85220" filter="url(#bl05)"/>
<ellipse cx="633.5" cy="466.2" rx="2.6" ry="1.6" fill="#70c7bb" filter="url(#bl05)"/>
<ellipse cx="620.1" cy="461.3" rx="2.6" ry="1.9" fill="#c7d73e" filter="url(#bl05)"/>
<ellipse cx="604.9" cy="456.5" rx="2.6" ry="2.2" fill="#e85220" filter="url(#bl05)"/>
<polyline points="587.0,455.7 587.4,453.7 587.7,451.8 588.1,449.9 588.5,448.0 588.9,446.1 589.2,444.3 589.6,442.6 590.0,440.9 590.4,439.2 590.7,437.6 591.1,436.2 591.5,435.0 591.9,436.2 592.3,437.6 592.6,439.2 593.0,440.9 593.4,442.6 593.8,444.3 594.1,446.1 594.5,448.0 594.9,449.9 595.3,451.8 595.6,453.7 596.0,455.7" fill="none" stroke="#e74521" stroke-width="2" stroke-dasharray="1.4 3.4" filter="url(#bl05)"/>
<polygon points="545.3,476.2 545.6,475.4 546.0,474.6 546.4,473.9 546.7,473.2 547.0,472.5 547.4,471.8 547.8,471.2 548.1,470.6 548.5,470.1 548.8,469.6 549.1,469.3 549.5,469.0 549.9,469.3 550.2,469.6 550.5,470.1 550.9,470.6 551.2,471.2 551.6,471.8 552.0,472.5 552.3,473.2 552.6,473.9 553.0,474.6 553.4,475.4 553.7,476.2" fill="#2a3290"/>
<polygon points="557.9,476.2 558.3,475.1 558.7,474.0 559.1,472.9 559.6,471.9 560.0,470.9 560.4,470.0 560.8,469.1 561.2,468.3 561.6,467.6 562.1,466.9 562.5,466.4 562.9,466.0 563.3,466.4 563.7,466.9 564.1,467.6 564.6,468.3 565.0,469.1 565.4,470.0 565.8,470.9 566.2,471.9 566.6,472.9 567.1,474.0 567.5,475.1 567.9,476.2" fill="#2a3290"/>
<polygon points="573.1,476.2 573.5,474.6 573.9,473.1 574.4,471.6 574.8,470.2 575.2,468.9 575.6,467.6 576.0,466.4 576.4,465.2 576.9,464.2 577.3,463.3 577.7,462.5 578.1,462.0 578.5,462.5 578.9,463.3 579.4,464.2 579.8,465.2 580.2,466.4 580.6,467.6 581.0,468.9 581.4,470.2 581.9,471.6 582.3,473.1 582.7,474.6 583.1,476.2" fill="#2a3290"/>
<polygon points="629.3,476.2 629.6,475.4 630.0,474.6 630.4,473.9 630.7,473.2 631.0,472.5 631.4,471.8 631.8,471.2 632.1,470.6 632.5,470.1 632.8,469.6 633.1,469.3 633.5,469.0 633.9,469.3 634.2,469.6 634.5,470.1 634.9,470.6 635.2,471.2 635.6,471.8 636.0,472.5 636.3,473.2 636.6,473.9 637.0,474.6 637.4,475.4 637.7,476.2" fill="#2a3290"/>
<polygon points="615.1,476.2 615.5,475.1 615.9,474.0 616.4,472.9 616.8,471.9 617.2,470.9 617.6,470.0 618.0,469.1 618.4,468.3 618.9,467.6 619.3,466.9 619.7,466.4 620.1,466.0 620.5,466.4 620.9,466.9 621.4,467.6 621.8,468.3 622.2,469.1 622.6,470.0 623.0,470.9 623.4,471.9 623.9,472.9 624.3,474.0 624.7,475.1 625.1,476.2" fill="#2a3290"/>
<polygon points="599.9,476.2 600.3,474.6 600.7,473.1 601.1,471.6 601.6,470.2 602.0,468.9 602.4,467.6 602.8,466.4 603.2,465.2 603.6,464.2 604.1,463.3 604.5,462.5 604.9,462.0 605.3,462.5 605.7,463.3 606.1,464.2 606.6,465.2 607.0,466.4 607.4,467.6 607.8,468.9 608.2,470.2 608.6,471.6 609.1,473.1 609.5,474.6 609.9,476.2" fill="#2a3290"/>
<polygon points="584.7,476.2 585.3,472.4 585.8,468.6 586.4,464.9 587.0,461.2 587.5,457.6 588.1,454.1 588.7,450.7 589.2,447.4 589.8,444.2 590.4,441.1 590.9,438.3 591.5,436.0 592.1,438.3 592.6,441.1 593.2,444.2 593.8,447.4 594.3,450.7 594.9,454.1 595.5,457.6 596.0,461.2 596.6,464.9 597.2,468.6 597.7,472.4 598.3,476.2" fill="#2a3290"/>
</g>
<line x1="550.3" y1="397.6" x2="550.3" y2="474.2" stroke="#2c5098" stroke-width="0.9"/>
<rect x="550.7" y="397.6" width="81.3" height="20.8" fill="#fff"/>
<rect x="304.4" y="397.6" width="327.6" height="76.6" fill="none" stroke="#9aa" stroke-width="0.6"/>
<text transform="translate(307.60,411.10)" font-size="11" text-anchor="start" fill="#f4f6fb" textLength="49.4" lengthAdjust="spacingAndGlyphs" ><tspan font-style="italic">V</tspan><tspan font-size="7.5" dy="3">b</tspan><tspan dy="-3"> = −6.9 V</tspan></text>
<text transform="translate(390.70,411.10)" font-size="11" text-anchor="start" fill="#f4f6fb" textLength="49.4" lengthAdjust="spacingAndGlyphs" ><tspan font-style="italic">V</tspan><tspan font-size="7.5" dy="3">b</tspan><tspan dy="-3"> = −5.6 V</tspan></text>
<text transform="translate(471.80,411.10)" font-size="11" text-anchor="start" fill="#f4f6fb" textLength="53.7" lengthAdjust="spacingAndGlyphs" ><tspan font-style="italic">V</tspan><tspan font-size="7.5" dy="3">b</tspan><tspan dy="-3"> = −2.75 V</tspan></text>
<text transform="translate(554.60,410.60)" font-size="11" text-anchor="start" fill="#555" textLength="49.6" lengthAdjust="spacingAndGlyphs" ><tspan font-style="italic">V</tspan><tspan font-size="7.5" dy="3">b</tspan><tspan dy="-3"> = −0.3 V</tspan></text>
<circle cx="374.1" cy="406.3" r="3.7" fill="#29b2ea" stroke="#151515" stroke-width="1"/>
<circle cx="456.2" cy="406.3" r="3.7" fill="#3aad4a" stroke="#151515" stroke-width="1"/>
<circle cx="538.4" cy="406.3" r="3.7" fill="#f7d41e" stroke="#151515" stroke-width="1"/>
<circle cx="620.6" cy="406.3" r="3.7" fill="#f0922a" stroke="#151515" stroke-width="1"/>
<rect x="636.4" y="397.5" width="6.5" height="76.9" fill="url(#cbv)"/>
<text transform="translate(646.30,427.70) scale(0.93,1)" font-size="11" text-anchor="start" fill="#444" >2</text>
<text transform="translate(646.30,453.10) scale(0.93,1)" font-size="11" text-anchor="start" fill="#444" >1</text>
<text transform="translate(646.30,478.90) scale(0.93,1)" font-size="11" text-anchor="start" fill="#444" >0</text>
<text transform="translate(658.10,435.20) rotate(90)" font-size="11" text-anchor="middle" fill="#444" textLength="28.8" lengthAdjust="spacingAndGlyphs" ><tspan font-style="italic">R</tspan> (kΩ)</text>
<text transform="translate(272.50,401.30)" font-size="11.5" text-anchor="start" fill="#1a1a1a" font-weight="bold">f</text>
<text transform="translate(301.00,422.00) scale(0.93,1)" font-size="11" text-anchor="end" fill="#444" >20</text>
<text transform="translate(301.00,451.10) scale(0.93,1)" font-size="11" text-anchor="end" fill="#444" >10</text>
<text transform="translate(301.00,478.80) scale(0.93,1)" font-size="11" text-anchor="end" fill="#444" >0</text>
<text transform="translate(270.90,434.90) rotate(-90)" font-size="11" text-anchor="middle" fill="#444" textLength="44.9" lengthAdjust="spacingAndGlyphs" >d.c. current</text>
<text transform="translate(282.20,436.60) rotate(-90)" font-size="11" text-anchor="middle" fill="#444" textLength="39.2" lengthAdjust="spacingAndGlyphs" >bias (nA)</text>
<text transform="translate(312.50,485.40) scale(0.93,1)" font-size="11" text-anchor="middle" fill="#444" >−15</text>
<text transform="translate(346.00,485.40) scale(0.93,1)" font-size="11" text-anchor="middle" fill="#444" >0</text>
<text transform="translate(376.30,485.40) scale(0.93,1)" font-size="11" text-anchor="middle" fill="#444" >15</text>
<text transform="translate(345.20,499.20)" font-size="11" text-anchor="middle" fill="#444" textLength="30" lengthAdjust="spacingAndGlyphs" ><tspan font-style="italic">B</tspan> (mT)</text>
<text transform="translate(394.50,485.40) scale(0.93,1)" font-size="11" text-anchor="middle" fill="#444" >−15</text>
<text transform="translate(428.00,485.40) scale(0.93,1)" font-size="11" text-anchor="middle" fill="#444" >0</text>
<text transform="translate(458.30,485.40) scale(0.93,1)" font-size="11" text-anchor="middle" fill="#444" >15</text>
<text transform="translate(427.20,499.20)" font-size="11" text-anchor="middle" fill="#444" textLength="30" lengthAdjust="spacingAndGlyphs" ><tspan font-style="italic">B</tspan> (mT)</text>
<text transform="translate(476.30,485.40) scale(0.93,1)" font-size="11" text-anchor="middle" fill="#444" >−15</text>
<text transform="translate(509.80,485.40) scale(0.93,1)" font-size="11" text-anchor="middle" fill="#444" >0</text>
<text transform="translate(540.10,485.40) scale(0.93,1)" font-size="11" text-anchor="middle" fill="#444" >15</text>
<text transform="translate(509.00,499.20)" font-size="11" text-anchor="middle" fill="#444" textLength="30" lengthAdjust="spacingAndGlyphs" ><tspan font-style="italic">B</tspan> (mT)</text>
<text transform="translate(558.00,485.40) scale(0.93,1)" font-size="11" text-anchor="middle" fill="#444" >−15</text>
<text transform="translate(591.50,485.40) scale(0.93,1)" font-size="11" text-anchor="middle" fill="#444" >0</text>
<text transform="translate(621.80,485.40) scale(0.93,1)" font-size="11" text-anchor="middle" fill="#444" >15</text>
<text transform="translate(590.70,499.20)" font-size="11" text-anchor="middle" fill="#444" textLength="30" lengthAdjust="spacingAndGlyphs" ><tspan font-style="italic">B</tspan> (mT)</text>
</svg>
</body></html>
